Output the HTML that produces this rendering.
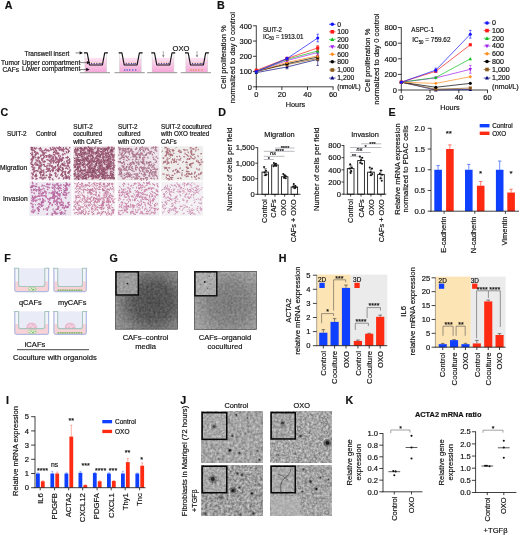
<!DOCTYPE html>
<html><head><meta charset="utf-8"><title>Figure</title>
<style>
html,body{margin:0;padding:0;background:#fff;}
svg{display:block;font-family:"Liberation Sans",sans-serif;}
text{fill:#111;stroke:#111;stroke-width:0.18px;}
</style></head><body>
<svg width="520" height="535" viewBox="0 0 520 535">
<rect width="520" height="535" fill="#fff"/>
<text x="4.8" y="9.3" font-size="10.7" font-weight="bold" fill="#000">A</text>
<text x="217.1" y="9.2" font-size="10.7" font-weight="bold" fill="#000">B</text>
<text x="0.4" y="116" font-size="10.7" font-weight="bold" fill="#000">C</text>
<text x="218.2" y="116" font-size="10.7" font-weight="bold" fill="#000">D</text>
<text x="388.4" y="116" font-size="10.7" font-weight="bold" fill="#000">E</text>
<text x="4.3" y="262.1" font-size="10.7" font-weight="bold" fill="#000">F</text>
<text x="109.6" y="262.2" font-size="10.7" font-weight="bold" fill="#000">G</text>
<text x="278.7" y="262.1" font-size="10.7" font-weight="bold" fill="#000">H</text>
<text x="6" y="403.8" font-size="10.7" font-weight="bold" fill="#000">I</text>
<text x="180.3" y="403.8" font-size="10.7" font-weight="bold" fill="#000">J</text>
<text x="345.5" y="403.8" font-size="10.7" font-weight="bold" fill="#000">K</text>
<defs><linearGradient id="pk" x1="0" y1="0" x2="0" y2="1"><stop offset="0" stop-color="#fde4f3"/><stop offset="1" stop-color="#f5a6d8"/></linearGradient></defs>
<text x="24.5" y="56.3" font-size="6.45">Transwell insert</text>
<text x="1" y="65.2" font-size="6.6">Tumor</text>
<text x="22" y="65.2" font-size="6.6">Upper compartment</text>
<text x="2.5" y="71.8" font-size="6.6">CAFs</text>
<text x="22" y="71" font-size="6.6">Lower compartment</text>
<rect x="84.9" y="57.8" width="21.6" height="14.4" fill="url(#pk)"/>
<path d="M84.9 52.8V72.4M106.5 52.8V72.4" stroke="#bbb" stroke-width="0.4" fill="none"/>
<line x1="79.8" y1="72.7" x2="110" y2="72.7" stroke="#666" stroke-width="0.7"/>
<path d="M84 52.9H87.2L89.5 65H102.4L104.7 52.9H107.9" stroke="#111" stroke-width="1.15" fill="none" stroke-linejoin="round"/>
<circle cx="91.6" cy="62.9" r="0.6" fill="#ecc860"/>
<circle cx="91.6" cy="63.6" r="0.62" fill="#1a2f9a"/>
<circle cx="94.2" cy="62.9" r="0.6" fill="#ecc860"/>
<circle cx="94.2" cy="63.6" r="0.62" fill="#1a2f9a"/>
<circle cx="96.8" cy="62.9" r="0.6" fill="#ecc860"/>
<circle cx="96.8" cy="63.6" r="0.62" fill="#1a2f9a"/>
<circle cx="99.2" cy="62.9" r="0.6" fill="#ecc860"/>
<circle cx="99.2" cy="63.6" r="0.62" fill="#1a2f9a"/>
<circle cx="101" cy="62.9" r="0.6" fill="#ecc860"/>
<circle cx="101" cy="63.6" r="0.62" fill="#1a2f9a"/>
<rect x="119.6" y="57.8" width="21.6" height="14.4" fill="url(#pk)"/>
<path d="M119.6 52.8V72.4M141.2 52.8V72.4" stroke="#bbb" stroke-width="0.4" fill="none"/>
<line x1="114.5" y1="72.7" x2="144.7" y2="72.7" stroke="#666" stroke-width="0.7"/>
<path d="M118.7 52.9H121.9L124.2 65H137.1L139.4 52.9H142.6" stroke="#111" stroke-width="1.15" fill="none" stroke-linejoin="round"/>
<circle cx="126.3" cy="62.9" r="0.6" fill="#ecc860"/>
<circle cx="126.3" cy="63.6" r="0.62" fill="#1a2f9a"/>
<circle cx="128.9" cy="62.9" r="0.6" fill="#ecc860"/>
<circle cx="128.9" cy="63.6" r="0.62" fill="#1a2f9a"/>
<circle cx="131.5" cy="62.9" r="0.6" fill="#ecc860"/>
<circle cx="131.5" cy="63.6" r="0.62" fill="#1a2f9a"/>
<circle cx="133.9" cy="62.9" r="0.6" fill="#ecc860"/>
<circle cx="133.9" cy="63.6" r="0.62" fill="#1a2f9a"/>
<circle cx="135.7" cy="62.9" r="0.6" fill="#ecc860"/>
<circle cx="135.7" cy="63.6" r="0.62" fill="#1a2f9a"/>
<circle cx="124.7" cy="70.1" r="0.75" fill="#3a55c8"/>
<circle cx="127.2" cy="70.1" r="0.75" fill="#3a55c8"/>
<circle cx="129.7" cy="70.1" r="0.75" fill="#3a55c8"/>
<circle cx="132.7" cy="70.1" r="0.75" fill="#3a55c8"/>
<circle cx="135.7" cy="70.1" r="0.75" fill="#3a55c8"/>
<rect x="152.2" y="57.8" width="21.6" height="14.4" fill="url(#pk)"/>
<path d="M152.2 52.8V72.4M173.8 52.8V72.4" stroke="#bbb" stroke-width="0.4" fill="none"/>
<line x1="147.1" y1="72.7" x2="177.3" y2="72.7" stroke="#666" stroke-width="0.7"/>
<path d="M151.3 52.9H154.5L156.8 65H169.7L172 52.9H175.2" stroke="#111" stroke-width="1.15" fill="none" stroke-linejoin="round"/>
<circle cx="158.9" cy="62.9" r="0.6" fill="#ecc860"/>
<circle cx="158.9" cy="63.6" r="0.62" fill="#1a2f9a"/>
<circle cx="161.5" cy="62.9" r="0.6" fill="#ecc860"/>
<circle cx="161.5" cy="63.6" r="0.62" fill="#1a2f9a"/>
<circle cx="164.1" cy="62.9" r="0.6" fill="#ecc860"/>
<circle cx="164.1" cy="63.6" r="0.62" fill="#1a2f9a"/>
<circle cx="166.5" cy="62.9" r="0.6" fill="#ecc860"/>
<circle cx="166.5" cy="63.6" r="0.62" fill="#1a2f9a"/>
<circle cx="168.3" cy="62.9" r="0.6" fill="#ecc860"/>
<circle cx="168.3" cy="63.6" r="0.62" fill="#1a2f9a"/>
<line x1="163.3" y1="51" x2="163.3" y2="56" stroke="#777" stroke-width="0.6"/>
<path d="M163.3 57.6L162.1 55.2L164.5 55.2Z" stroke="none" stroke-width="0.7" fill="#777"/>
<rect x="185.9" y="57.8" width="21.6" height="14.4" fill="url(#pk)"/>
<path d="M185.9 52.8V72.4M207.5 52.8V72.4" stroke="#bbb" stroke-width="0.4" fill="none"/>
<line x1="180.8" y1="72.7" x2="211" y2="72.7" stroke="#666" stroke-width="0.7"/>
<path d="M185 52.9H188.2L190.5 65H203.4L205.7 52.9H208.9" stroke="#111" stroke-width="1.15" fill="none" stroke-linejoin="round"/>
<circle cx="192.6" cy="62.9" r="0.6" fill="#ecc860"/>
<circle cx="192.6" cy="63.6" r="0.62" fill="#1a2f9a"/>
<circle cx="195.2" cy="62.9" r="0.6" fill="#ecc860"/>
<circle cx="195.2" cy="63.6" r="0.62" fill="#1a2f9a"/>
<circle cx="197.8" cy="62.9" r="0.6" fill="#ecc860"/>
<circle cx="197.8" cy="63.6" r="0.62" fill="#1a2f9a"/>
<circle cx="200.2" cy="62.9" r="0.6" fill="#ecc860"/>
<circle cx="200.2" cy="63.6" r="0.62" fill="#1a2f9a"/>
<circle cx="202" cy="62.9" r="0.6" fill="#ecc860"/>
<circle cx="202" cy="63.6" r="0.62" fill="#1a2f9a"/>
<circle cx="191" cy="70.1" r="0.75" fill="#e08a2a"/>
<circle cx="193.5" cy="70.1" r="0.75" fill="#e08a2a"/>
<circle cx="196" cy="70.1" r="0.75" fill="#e08a2a"/>
<circle cx="199" cy="70.1" r="0.75" fill="#e08a2a"/>
<circle cx="202" cy="70.1" r="0.75" fill="#e08a2a"/>
<line x1="197" y1="51" x2="197" y2="56" stroke="#777" stroke-width="0.6"/>
<path d="M197 57.6L195.8 55.2L198.2 55.2Z" stroke="none" stroke-width="0.7" fill="#777"/>
<text x="172.5" y="51" font-size="7.6" fill="#000">OXO</text>
<line x1="75.5" y1="52.9" x2="81.5" y2="52.9" stroke="#111" stroke-width="0.5"/>
<path d="M83 52.9L79.6 51.2L79.6 54.6Z" stroke="none" stroke-width="0.7" fill="#111"/>
<line x1="79.5" y1="62.6" x2="88.8" y2="62.6" stroke="#111" stroke-width="0.5"/>
<path d="M90.3 62.6L86.9 60.9L86.9 64.3Z" stroke="none" stroke-width="0.7" fill="#111"/>
<line x1="79.5" y1="69.5" x2="88.1" y2="69.5" stroke="#111" stroke-width="0.5"/>
<path d="M89.6 69.5L86.2 67.8L86.2 71.2Z" stroke="none" stroke-width="0.7" fill="#111"/>
<line x1="256.3" y1="25.4" x2="256.3" y2="87.2" stroke="#111" stroke-width="0.8"/>
<line x1="255.9" y1="86.8" x2="333.5" y2="86.8" stroke="#111" stroke-width="0.8"/>
<line x1="252.9" y1="86.8" x2="256.3" y2="86.8" stroke="#111" stroke-width="0.8"/>
<text x="252" y="89.5" font-size="7.5" text-anchor="end">0</text>
<line x1="252.9" y1="71.55" x2="256.3" y2="71.55" stroke="#111" stroke-width="0.8"/>
<text x="252" y="74.25" font-size="7.5" text-anchor="end">100</text>
<line x1="252.9" y1="56.3" x2="256.3" y2="56.3" stroke="#111" stroke-width="0.8"/>
<text x="252" y="59" font-size="7.5" text-anchor="end">200</text>
<line x1="252.9" y1="41.05" x2="256.3" y2="41.05" stroke="#111" stroke-width="0.8"/>
<text x="252" y="43.75" font-size="7.5" text-anchor="end">300</text>
<line x1="252.9" y1="25.8" x2="256.3" y2="25.8" stroke="#111" stroke-width="0.8"/>
<text x="252" y="28.5" font-size="7.5" text-anchor="end">400</text>
<line x1="256.3" y1="86.8" x2="256.3" y2="90" stroke="#111" stroke-width="0.8"/>
<text x="256.3" y="97" font-size="7.5" text-anchor="middle">0</text>
<line x1="281.9" y1="86.8" x2="281.9" y2="90" stroke="#111" stroke-width="0.8"/>
<text x="281.9" y="97" font-size="7.5" text-anchor="middle">20</text>
<line x1="307.5" y1="86.8" x2="307.5" y2="90" stroke="#111" stroke-width="0.8"/>
<text x="307.5" y="97" font-size="7.5" text-anchor="middle">40</text>
<line x1="333.1" y1="86.8" x2="333.1" y2="90" stroke="#111" stroke-width="0.8"/>
<text x="333.1" y="97" font-size="7.5" text-anchor="middle">60</text>
<path d="M256.3 72.62L287 66.97L317.7 59.35" stroke="#0a0a80" stroke-width="0.7" fill="none"/>
<path d="M256.3 70.76L254.59 74.01L258 74.01Z" stroke="none" stroke-width="0.7" fill="#0a0a80"/>
<path d="M287 65.14V68.8M285.7 65.14H288.3M285.7 68.8H288.3" stroke="#0a0a80" stroke-width="0.6" fill="none"/>
<path d="M287 65.11L285.3 68.37L288.7 68.37Z" stroke="none" stroke-width="0.7" fill="#0a0a80"/>
<path d="M317.7 53.25V65.45M316.4 53.25H319M316.4 65.45H319" stroke="#0a0a80" stroke-width="0.6" fill="none"/>
<path d="M317.7 57.49L316 60.74L319.4 60.74Z" stroke="none" stroke-width="0.7" fill="#0a0a80"/>
<path d="M256.3 71.25L287 64.53L317.7 58.59" stroke="#8b5a1a" stroke-width="0.7" fill="none"/>
<rect x="254.75" y="69.7" width="3.1" height="3.1" fill="#8b5a1a"/>
<path d="M287 62.7V66.36M285.7 62.7H288.3M285.7 66.36H288.3" stroke="#8b5a1a" stroke-width="0.6" fill="none"/>
<rect x="285.45" y="62.98" width="3.1" height="3.1" fill="#8b5a1a"/>
<path d="M317.7 56.3V60.88M316.4 56.3H319M316.4 60.88H319" stroke="#8b5a1a" stroke-width="0.6" fill="none"/>
<rect x="316.15" y="57.04" width="3.1" height="3.1" fill="#8b5a1a"/>
<path d="M256.3 71.55L287 63.62L317.7 57.06" stroke="#000000" stroke-width="0.7" fill="none"/>
<circle cx="256.3" cy="71.55" r="1.55" fill="#000000"/>
<path d="M287 62.86V64.38M285.7 62.86H288.3M285.7 64.38H288.3" stroke="#000000" stroke-width="0.6" fill="none"/>
<circle cx="287" cy="63.62" r="1.55" fill="#000000"/>
<path d="M317.7 55.54V58.59M316.4 55.54H319M316.4 58.59H319" stroke="#000000" stroke-width="0.6" fill="none"/>
<circle cx="317.7" cy="57.06" r="1.55" fill="#000000"/>
<path d="M256.3 71.55L287 62.4L317.7 55.84" stroke="#ff8c1a" stroke-width="0.7" fill="none"/>
<path d="M256.3 69.84L258 71.55L256.3 73.25L254.59 71.55Z" stroke="none" stroke-width="0.7" fill="#ff8c1a"/>
<path d="M287 61.64V63.16M285.7 61.64H288.3M285.7 63.16H288.3" stroke="#ff8c1a" stroke-width="0.6" fill="none"/>
<path d="M287 60.7L288.7 62.4L287 64.11L285.3 62.4Z" stroke="none" stroke-width="0.7" fill="#ff8c1a"/>
<path d="M317.7 54.32V57.37M316.4 54.32H319M316.4 57.37H319" stroke="#ff8c1a" stroke-width="0.6" fill="none"/>
<path d="M317.7 54.14L319.4 55.84L317.7 57.55L316 55.84Z" stroke="none" stroke-width="0.7" fill="#ff8c1a"/>
<path d="M256.3 71.55L287 60.57L317.7 52.49" stroke="#a020f0" stroke-width="0.7" fill="none"/>
<path d="M256.3 73.41L254.59 70.16L258 70.16Z" stroke="none" stroke-width="0.7" fill="#a020f0"/>
<path d="M287 59.81V61.33M285.7 59.81H288.3M285.7 61.33H288.3" stroke="#a020f0" stroke-width="0.6" fill="none"/>
<path d="M287 62.43L285.3 59.17L288.7 59.17Z" stroke="none" stroke-width="0.7" fill="#a020f0"/>
<path d="M317.7 49.74V55.23M316.4 49.74H319M316.4 55.23H319" stroke="#a020f0" stroke-width="0.6" fill="none"/>
<path d="M317.7 54.35L316 51.09L319.4 51.09Z" stroke="none" stroke-width="0.7" fill="#a020f0"/>
<path d="M256.3 71.55L287 59.35L317.7 50.96" stroke="#10c020" stroke-width="0.7" fill="none"/>
<path d="M256.3 69.69L254.59 72.94L258 72.94Z" stroke="none" stroke-width="0.7" fill="#10c020"/>
<path d="M287 58.59V60.11M285.7 58.59H288.3M285.7 60.11H288.3" stroke="#10c020" stroke-width="0.6" fill="none"/>
<path d="M287 57.49L285.3 60.74L288.7 60.74Z" stroke="none" stroke-width="0.7" fill="#10c020"/>
<path d="M317.7 49.13V52.79M316.4 49.13H319M316.4 52.79H319" stroke="#10c020" stroke-width="0.6" fill="none"/>
<path d="M317.7 49.1L316 52.36L319.4 52.36Z" stroke="none" stroke-width="0.7" fill="#10c020"/>
<path d="M256.3 70.33L287 58.59L317.7 47.91" stroke="#ff1a1a" stroke-width="0.7" fill="none"/>
<path d="M256.3 69.11V71.55M255 69.11H257.6M255 71.55H257.6" stroke="#ff1a1a" stroke-width="0.6" fill="none"/>
<rect x="254.75" y="68.78" width="3.1" height="3.1" fill="#ff1a1a"/>
<path d="M287 57.06V60.11M285.7 57.06H288.3M285.7 60.11H288.3" stroke="#ff1a1a" stroke-width="0.6" fill="none"/>
<rect x="285.45" y="57.04" width="3.1" height="3.1" fill="#ff1a1a"/>
<path d="M317.7 45.62V50.2M316.4 45.62H319M316.4 50.2H319" stroke="#ff1a1a" stroke-width="0.6" fill="none"/>
<rect x="316.15" y="46.36" width="3.1" height="3.1" fill="#ff1a1a"/>
<path d="M256.3 71.55L287 58.59L317.7 38" stroke="#1515ff" stroke-width="0.7" fill="none"/>
<circle cx="256.3" cy="71.55" r="1.55" fill="#1515ff"/>
<path d="M287 57.37V59.81M285.7 57.37H288.3M285.7 59.81H288.3" stroke="#1515ff" stroke-width="0.6" fill="none"/>
<circle cx="287" cy="58.59" r="1.55" fill="#1515ff"/>
<path d="M317.7 34.19V41.81M316.4 34.19H319M316.4 41.81H319" stroke="#1515ff" stroke-width="0.6" fill="none"/>
<circle cx="317.7" cy="38" r="1.55" fill="#1515ff"/>
<line x1="329" y1="24.3" x2="335.6" y2="24.3" stroke="#1515ff" stroke-width="0.7"/>
<circle cx="332.3" cy="24.3" r="1.8" fill="#1515ff"/>
<text x="337.3" y="26.75" font-size="6.8">0</text>
<line x1="329" y1="31.8" x2="335.6" y2="31.8" stroke="#ff1a1a" stroke-width="0.7"/>
<rect x="330.5" y="30" width="3.6" height="3.6" fill="#ff1a1a"/>
<text x="337.3" y="34.25" font-size="6.8">100</text>
<line x1="329" y1="39.3" x2="335.6" y2="39.3" stroke="#10c020" stroke-width="0.7"/>
<path d="M332.3 37.14L330.32 40.92L334.28 40.92Z" stroke="none" stroke-width="0.7" fill="#10c020"/>
<text x="337.3" y="41.75" font-size="6.8">200</text>
<line x1="329" y1="46.8" x2="335.6" y2="46.8" stroke="#a020f0" stroke-width="0.7"/>
<path d="M332.3 48.96L330.32 45.18L334.28 45.18Z" stroke="none" stroke-width="0.7" fill="#a020f0"/>
<text x="337.3" y="49.25" font-size="6.8">400</text>
<line x1="329" y1="54.3" x2="335.6" y2="54.3" stroke="#ff8c1a" stroke-width="0.7"/>
<path d="M332.3 52.32L334.28 54.3L332.3 56.28L330.32 54.3Z" stroke="none" stroke-width="0.7" fill="#ff8c1a"/>
<text x="337.3" y="56.75" font-size="6.8">600</text>
<line x1="329" y1="61.8" x2="335.6" y2="61.8" stroke="#000000" stroke-width="0.7"/>
<circle cx="332.3" cy="61.8" r="1.8" fill="#000000"/>
<text x="337.3" y="64.25" font-size="6.8">800</text>
<line x1="329" y1="70" x2="335.6" y2="70" stroke="#8b5a1a" stroke-width="0.7"/>
<rect x="330.5" y="68.2" width="3.6" height="3.6" fill="#8b5a1a"/>
<text x="337.3" y="72.45" font-size="6.8">1,000</text>
<line x1="329" y1="78" x2="335.6" y2="78" stroke="#0a0a80" stroke-width="0.7"/>
<path d="M332.3 75.84L330.32 79.62L334.28 79.62Z" stroke="none" stroke-width="0.7" fill="#0a0a80"/>
<text x="337.3" y="80.45" font-size="6.8">1,200</text>
<text x="337.3" y="88.6" font-size="6.4">(nmol/L)</text>
<text x="226" y="57" font-size="7.6" text-anchor="middle" transform="rotate(-90 226 57)">Cell proliferation %</text>
<text x="234.9" y="57.7" font-size="7.6" text-anchor="middle" transform="rotate(-90 234.9 57.7)">normalized to day 0 control</text>
<text x="263" y="31.6" font-size="6.5" textLength="18.8" lengthAdjust="spacingAndGlyphs">SUIT-2</text>
<text x="263" y="38.6" font-size="6.6" textLength="40.4" lengthAdjust="spacingAndGlyphs">IC<tspan font-size="4.6" dy="1.4">50</tspan><tspan dy="-1.4"> = 1913.01</tspan></text>
<text x="295.5" y="107.1" font-size="7.3" text-anchor="middle">Hours</text>
<line x1="401.3" y1="27.2" x2="401.3" y2="90.4" stroke="#111" stroke-width="0.8"/>
<line x1="400.9" y1="90" x2="487.9" y2="90" stroke="#111" stroke-width="0.8"/>
<line x1="397.9" y1="90" x2="401.3" y2="90" stroke="#111" stroke-width="0.8"/>
<text x="397" y="92.7" font-size="7.5" text-anchor="end">0</text>
<line x1="397.9" y1="74.4" x2="401.3" y2="74.4" stroke="#111" stroke-width="0.8"/>
<text x="397" y="77.1" font-size="7.5" text-anchor="end">200</text>
<line x1="397.9" y1="58.8" x2="401.3" y2="58.8" stroke="#111" stroke-width="0.8"/>
<text x="397" y="61.5" font-size="7.5" text-anchor="end">400</text>
<line x1="397.9" y1="43.2" x2="401.3" y2="43.2" stroke="#111" stroke-width="0.8"/>
<text x="397" y="45.9" font-size="7.5" text-anchor="end">600</text>
<line x1="397.9" y1="27.6" x2="401.3" y2="27.6" stroke="#111" stroke-width="0.8"/>
<text x="397" y="30.3" font-size="7.5" text-anchor="end">800</text>
<line x1="401.3" y1="90" x2="401.3" y2="93.2" stroke="#111" stroke-width="0.8"/>
<text x="401.3" y="100.2" font-size="7.5" text-anchor="middle">0</text>
<line x1="430" y1="90" x2="430" y2="93.2" stroke="#111" stroke-width="0.8"/>
<text x="430" y="100.2" font-size="7.5" text-anchor="middle">20</text>
<line x1="458.8" y1="90" x2="458.8" y2="93.2" stroke="#111" stroke-width="0.8"/>
<text x="458.8" y="100.2" font-size="7.5" text-anchor="middle">40</text>
<line x1="487.5" y1="90" x2="487.5" y2="93.2" stroke="#111" stroke-width="0.8"/>
<text x="487.5" y="100.2" font-size="7.5" text-anchor="middle">60</text>
<path d="M401.3 82.2L435.8 90L470.3 89.61" stroke="#0a0a80" stroke-width="0.7" fill="none"/>
<path d="M401.3 80.34L399.6 83.59L403 83.59Z" stroke="none" stroke-width="0.7" fill="#0a0a80"/>
<path d="M435.8 88.14L434.1 91.39L437.5 91.39Z" stroke="none" stroke-width="0.7" fill="#0a0a80"/>
<path d="M470.3 87.75L468.6 91L472 91Z" stroke="none" stroke-width="0.7" fill="#0a0a80"/>
<path d="M401.3 82.2L435.8 89.22L470.3 88.05" stroke="#8b5a1a" stroke-width="0.7" fill="none"/>
<rect x="399.75" y="80.65" width="3.1" height="3.1" fill="#8b5a1a"/>
<rect x="434.25" y="87.67" width="3.1" height="3.1" fill="#8b5a1a"/>
<rect x="468.75" y="86.5" width="3.1" height="3.1" fill="#8b5a1a"/>
<path d="M401.3 82.2L435.8 87.27L470.3 83.37" stroke="#000000" stroke-width="0.7" fill="none"/>
<circle cx="401.3" cy="82.2" r="1.55" fill="#000000"/>
<circle cx="435.8" cy="87.27" r="1.55" fill="#000000"/>
<circle cx="470.3" cy="83.37" r="1.55" fill="#000000"/>
<path d="M401.3 82.2L435.8 83.37L470.3 76.74" stroke="#ff8c1a" stroke-width="0.7" fill="none"/>
<path d="M401.3 80.5L403 82.2L401.3 83.91L399.6 82.2Z" stroke="none" stroke-width="0.7" fill="#ff8c1a"/>
<path d="M435.8 81.67L437.5 83.37L435.8 85.08L434.1 83.37Z" stroke="none" stroke-width="0.7" fill="#ff8c1a"/>
<path d="M470.3 75.03L472 76.74L470.3 78.44L468.6 76.74Z" stroke="none" stroke-width="0.7" fill="#ff8c1a"/>
<path d="M401.3 82.2L435.8 77.91L470.3 69.33" stroke="#a020f0" stroke-width="0.7" fill="none"/>
<path d="M401.3 84.06L399.6 80.81L403 80.81Z" stroke="none" stroke-width="0.7" fill="#a020f0"/>
<path d="M435.8 79.77L434.1 76.52L437.5 76.52Z" stroke="none" stroke-width="0.7" fill="#a020f0"/>
<path d="M470.3 65.43V73.23M469 65.43H471.6M469 73.23H471.6" stroke="#a020f0" stroke-width="0.6" fill="none"/>
<path d="M470.3 71.19L468.6 67.94L472 67.94Z" stroke="none" stroke-width="0.7" fill="#a020f0"/>
<path d="M401.3 82.2L435.8 77.52L470.3 58.8" stroke="#10c020" stroke-width="0.7" fill="none"/>
<path d="M401.3 80.34L399.6 83.59L403 83.59Z" stroke="none" stroke-width="0.7" fill="#10c020"/>
<path d="M435.8 75.66L434.1 78.91L437.5 78.91Z" stroke="none" stroke-width="0.7" fill="#10c020"/>
<path d="M470.3 56.94L468.6 60.2L472 60.2Z" stroke="none" stroke-width="0.7" fill="#10c020"/>
<path d="M401.3 82.2L435.8 71.28L470.3 44.76" stroke="#ff1a1a" stroke-width="0.7" fill="none"/>
<rect x="399.75" y="80.65" width="3.1" height="3.1" fill="#ff1a1a"/>
<rect x="434.25" y="69.73" width="3.1" height="3.1" fill="#ff1a1a"/>
<rect x="468.75" y="43.21" width="3.1" height="3.1" fill="#ff1a1a"/>
<path d="M401.3 82.2L435.8 70.11L470.3 34.23" stroke="#1515ff" stroke-width="0.7" fill="none"/>
<circle cx="401.3" cy="82.2" r="1.55" fill="#1515ff"/>
<path d="M435.8 68.16V72.06M434.5 68.16H437.1M434.5 72.06H437.1" stroke="#1515ff" stroke-width="0.6" fill="none"/>
<circle cx="435.8" cy="70.11" r="1.55" fill="#1515ff"/>
<path d="M470.3 30.33V38.13M469 30.33H471.6M469 38.13H471.6" stroke="#1515ff" stroke-width="0.6" fill="none"/>
<circle cx="470.3" cy="34.23" r="1.55" fill="#1515ff"/>
<line x1="483.7" y1="23" x2="490.3" y2="23" stroke="#1515ff" stroke-width="0.7"/>
<circle cx="487" cy="23" r="1.8" fill="#1515ff"/>
<text x="492" y="25.45" font-size="7.1">0</text>
<line x1="483.7" y1="30.6" x2="490.3" y2="30.6" stroke="#ff1a1a" stroke-width="0.7"/>
<rect x="485.2" y="28.8" width="3.6" height="3.6" fill="#ff1a1a"/>
<text x="492" y="33.05" font-size="7.1">100</text>
<line x1="483.7" y1="38.3" x2="490.3" y2="38.3" stroke="#10c020" stroke-width="0.7"/>
<path d="M487 36.14L485.02 39.92L488.98 39.92Z" stroke="none" stroke-width="0.7" fill="#10c020"/>
<text x="492" y="40.75" font-size="7.1">200</text>
<line x1="483.7" y1="46" x2="490.3" y2="46" stroke="#a020f0" stroke-width="0.7"/>
<path d="M487 48.16L485.02 44.38L488.98 44.38Z" stroke="none" stroke-width="0.7" fill="#a020f0"/>
<text x="492" y="48.45" font-size="7.1">400</text>
<line x1="483.7" y1="53.8" x2="490.3" y2="53.8" stroke="#ff8c1a" stroke-width="0.7"/>
<path d="M487 51.82L488.98 53.8L487 55.78L485.02 53.8Z" stroke="none" stroke-width="0.7" fill="#ff8c1a"/>
<text x="492" y="56.25" font-size="7.1">600</text>
<line x1="483.7" y1="61.5" x2="490.3" y2="61.5" stroke="#000000" stroke-width="0.7"/>
<circle cx="487" cy="61.5" r="1.8" fill="#000000"/>
<text x="492" y="63.95" font-size="7.1">800</text>
<line x1="483.7" y1="69.5" x2="490.3" y2="69.5" stroke="#8b5a1a" stroke-width="0.7"/>
<rect x="485.2" y="67.7" width="3.6" height="3.6" fill="#8b5a1a"/>
<text x="492" y="71.95" font-size="7.1">1,000</text>
<line x1="483.7" y1="78" x2="490.3" y2="78" stroke="#0a0a80" stroke-width="0.7"/>
<path d="M487 75.84L485.02 79.62L488.98 79.62Z" stroke="none" stroke-width="0.7" fill="#0a0a80"/>
<text x="492" y="80.45" font-size="7.1">1,200</text>
<text x="492" y="88.6" font-size="7.3">(nmol/L)</text>
<text x="369.6" y="60.4" font-size="7.6" text-anchor="middle" transform="rotate(-90 369.6 60.4)">Cell proliferation %</text>
<text x="378.6" y="59.2" font-size="7.6" text-anchor="middle" transform="rotate(-90 378.6 59.2)">normalized to day 0 control</text>
<text x="411.3" y="32.3" font-size="6.6" textLength="22.6" lengthAdjust="spacingAndGlyphs">ASPC-1</text>
<text x="412.3" y="42.4" font-size="6.9" textLength="38.2" lengthAdjust="spacingAndGlyphs">IC<tspan font-size="4.6" dy="1.4">50</tspan><tspan dy="-1.4"> = 759.62</tspan></text>
<text x="450" y="110.3" font-size="7.3" text-anchor="middle">Hours</text>
<text x="7" y="136.2" font-size="6.3">SUIT-2</text>
<text x="36" y="136.2" font-size="6.3">Control</text>
<text x="73.2" y="129" font-size="6.3">SUIT-2</text>
<text x="73.2" y="136.3" font-size="6.3">cocultured</text>
<text x="73.2" y="143.6" font-size="6.3">with CAFs</text>
<text x="118" y="129" font-size="6.3">SUIT-2</text>
<text x="118" y="136.3" font-size="6.3">cultured</text>
<text x="118" y="143.6" font-size="6.3">with OXO</text>
<text x="161" y="129" font-size="6.3">SUIT-2 cocultured</text>
<text x="161" y="136.3" font-size="6.3">with OXO treated</text>
<text x="161" y="143.6" font-size="6.3">CAFs</text>
<text x="0" y="170.3" font-size="6.6">Migration</text>
<text x="3" y="200.8" font-size="6.6">Invasion</text>
<defs><filter id="bl" x="-2%" y="-2%" width="104%" height="104%"><feGaussianBlur stdDeviation="0.28"/></filter></defs>
<g filter="url(#bl)">
<rect x="29.5" y="146.2" width="41.9" height="34.2" fill="#f4eef2"/>
<path d="M64 171.5l-0.5 0.3M50.9 160.3l0.1 -0.6M49.5 165.9l0.7 -0.5M41.9 171.4l-0.4 -0.4M66.6 178.6l0.5 -1.2M43 170.6l0.9 -0.6M49.4 150.7l-0.9 0.4M66.7 178l-1.3 0.2M41 172.9l-0.3 -0.1M59.1 160.1l0.5 -0.9M30.8 163.1l0.4 -0.4M43.6 175l0.3 0.9M40.2 178.1l0.3 -0.8M34 157.6l-1.4 -0.1M35.1 164.9l-0.3 -0.9M62.8 164.6l1 -0.2M53.9 161.6l-0.6 -0.4M53.4 156.7l0.2 0.5M54.9 168.3l-0.4 0.1M60.6 175.2l1.1 -0.6M66.1 176.7l-0.7 -0.2M58.5 156.2l0.5 -1.2M66 166.1l0.9 -0.3M48.5 168.4l1.3 0M62 150.1l-0.7 -0.6M55.6 174.2l0 1.1M35.4 154.5l0.2 -0.7M62.9 150.7l0.7 0.9M32.6 165.6l0.8 -0.5M57.5 148.3l-0.7 -0.7M53.4 159.9l-1 1M32.2 148.2l0.5 -0.1M35.7 154.2l0.4 -1.3M31.7 160.9l0.5 0.4M39.5 167.9l-0.3 0.4M50.6 148.7l1.1 0.8M38.6 158.8l-0.1 -1.2M66.9 152.9l-0.7 -1.2M33.1 168.9l0.4 -0.6M40.7 166.4l-0.5 0.2M49.3 160.5l-0.8 -0.4M43 158.8l0.3 -0.5M52.8 147.9l0 -0.7M32.6 156.4l0.1 1.4M44.6 156.6l-0.9 1.1M55.7 167.1l-0.2 -0.7M47.1 168.1l0.5 0M43.9 155.1l-0.5 -0.6M65.2 165.5l-0.7 0.4M58.4 160.7l-0.2 -0.3M48.3 155.7l0.5 0.8M49.9 165.2l0 -1.3M50.2 157.4l-1.2 0.3M65.2 173.2l0.5 1.3M55.7 150.1l-0.2 -1.4M46.6 168.9l-0.2 0.5M59 147.6l0.4 -0.8M34.6 151.3l-0.8 -1M41.8 178.4l1 0.7M46.4 150.1l-0.1 0.8M61.9 174.7l0.6 0.7M56.4 158.5l0.4 -0.5M31.5 148.8l-0.4 -0.9M68 177.2l0.3 -0.2M60.2 169.7l-0.6 -0.9M66.3 167.7l-0.6 0.7M39 166.1l0.5 0M43.9 172.5l-0.1 -0.7M55.2 148.8l0.7 1.2M42.2 160l-0.6 -0.2M49.6 155.1l0.5 0.2M51.4 149.7l-0.6 0.4M47.1 150.6l0.7 -0.5M63.8 178.3l-0.5 0.7M58.3 161l-0.4 1.1M65.9 176.6l-0.5 -0.5M69.1 167.7l0.4 0.2M60.3 149.4l0.8 0M51.2 161.7l-1 0.1M57.5 160.9l-1 1M41.1 172.1l-0.7 0.3M33.3 174.8l-0.4 -1.3M48.5 168.9l0.6 0.5M38.9 148.8l0.5 -0.2M36.6 153.8l-0.7 0.6M36.7 178.7l0.5 -0.1M46.8 169l0.6 -0.6M66.8 157.7l-0.9 0M57.1 153.9l-0.4 -0.4M44.2 177.9l1 -0.7M32.2 152.2l-0.1 1.2M63.9 165.9l-0.2 -1.2M33.4 150.2l0.3 -0.3M39.6 148.8l1.3 0.1M43.8 152.6l0.6 0.8M68.9 163.5l0.7 -0.5M53.4 168.9l0.4 -1.1M69.7 171.1l0.5 -0.3M51.8 166.4l0.4 -0.8M61.9 159.8l-1.1 -0.7M62.2 168.3l0.5 0M50.7 155.5l1.2 0.5M67.9 157.1l-1 0.7M33.2 167.8l0.4 0.5M63.4 149.3l0.8 0.2M50.1 174.8l-0.2 -1M36.7 178.7l-0.9 0.5M46 149l-0.5 0.1M32.1 167l-0.3 -0.3M52.4 158.5l-0.9 0.8M50.1 175.3l-0.6 -0.5M55.6 158.2l0.8 0.8M55.2 172.4l0.9 1M62.2 176.5l0.8 -0.8M62.6 163.9l0.1 -0.5M61.5 161.5l0 -0.8M61.8 149.9l1.3 0.4M49.9 176l1 -0.4M53.3 154.3l1 0.7M65.7 172.1l-0.3 -0.8M42.8 151.1l-0.9 0.4M67.1 177.1l-0.4 0.2M61.2 170.7l0.8 0.2M57.8 148.5l1.2 -0.7M59.2 150l0.7 0.3M32 158.5l1.4 0.1M63 149.7l0.4 -0.3M38.8 168.8l0.4 -0.2M31.1 159.2l1 0.2M64.6 153.4l0.5 0.5M68.5 151.6l0.7 -0.2M49.4 156.7l1.3 -0.5M55.8 153.3l0.4 0M53.6 152.4l1.1 -0.8M62.4 157.5l0.1 1.2M42.2 160.8l0.5 0.1M31.6 150l0.7 0.4M52.4 170.9l0.5 0.6M55.8 150.2l-0.7 0.3M68.1 149.3l-0.7 0.4M59.4 157.6l0.2 0.6M49.3 177.5l0.2 -0.6M52.7 169.2l0.2 -0.8M46.5 171.8l-0.5 0.3M48.6 177.1l0.5 0.7M55.8 162.8l0.1 0.3M58.3 167.1l0.7 0M61 167.4l-0.5 -0.1M58.6 162.4l-0.5 -1M39.9 171.6l-0.3 1.4M35.5 175.4l0.6 0.2M51.5 165.9l-0.4 0.3M40.7 156.5l0 -1.3M54.2 148.6l0.2 -0.6M44.2 164.3l0 1.3M37.2 160.6l-0.2 0.9M53.4 167.3l-0.8 -0.2M55.7 160.2l0.2 -1.2M42.3 159.2l-0.3 -0.4M58.2 159.6l-0.4 -0.3M57.1 158.7l-0.8 0.1M49.5 169.5l-0.4 1M33.2 157l0 -0.4M55.2 148.3l-1.3 0.2M31.2 164.1l1.2 0.5M57.8 170.9l-0.2 -0.3M32.4 167.1l1.3 0M58.3 170.5l0.2 1.1M42.1 150.8l-0.7 0.2M37.4 160.8l0.6 -0.5M48.4 169.9l-0.5 -0.1M66.6 161.5l0.2 -0.7M62.5 159.8l0.1 0.5M67.7 166l0.7 0.2M40 150.2l0.2 0.4M55.9 153l-0.8 -0.6M58.5 163.7l-0.3 1.3M44.7 162l-0.6 -0.7M68.4 177.7l1.2 -0.6M53.6 163l-0.2 -0.5M41.2 148.9l0.2 0.3M56.5 151.9l0.2 -1.1M68.9 160l0.7 -0.4M44.1 150.7l0.9 -0.8M43.5 161.9l-0.2 0.3M32.5 159.2l0.2 0.9M38.2 153.9l-0.5 -1M43.1 174.7l0 0.7M58.8 148.9l0.4 -0.2M48.9 170.4l1.2 0.4M69.3 162.1l0.3 0.3M34.7 171.7l-1.2 0.7M48.1 149.9l-1 0.5M63.4 148.7l0.4 0.8M35.8 175l0.6 -0.3M47.9 165.1l-0.2 0.9M38.7 156.9l-0.9 0.4M51.9 155.7l0.1 0.5M61.6 150.6l-0.1 -0.6M42 170.8l-0.6 -1M51.1 174.6l0.7 0.7M35.4 170.8l-0.7 0.8M58.4 168.4l0.2 1.2M40.2 163.9l-0.3 -0.5M55.5 156.6l0.6 1.1M52.5 157.9l-0.3 -0.2M35.9 160l0.9 -0.1M33.8 171.7l0.2 -1.2M53.2 169.5l0.3 1.1M62.9 171.5l-0.6 0.8M55.5 176l1 0.8M51.5 158.8l-0.3 0.1M39.4 168.1l-0.5 -0.7M68.3 162.7l-0.5 1.2M41 166.6l-0.4 -1.2M61.7 159.6l0.3 0.1M59.3 177.9l-0.5 0.7M59.3 168.3l-0.1 1.1M42.8 158.8l-1.1 -0.3M36.7 148.2l-0.2 -0.3M32.6 154.6l-0.2 -0.3M33.3 178.2l-1.2 0.6M39.3 161.3l-0.3 0.4M43.7 178.7l0 -0.8M46.9 155.8l-1.1 -0.2M57.8 162.1l1.3 0.3M46.9 159.8l0.5 0M64.9 163.7l-0.1 -0.5M43.8 174l0.3 -0.5M31.7 173l0.6 1M57.7 152.8l1.2 0.6M54.3 167.1l-0.5 0.1M54.5 155.5l0.4 -1.1M31.9 177l0.4 0.1M42.3 152.3l0.1 0.7M59.7 160.3l-0.1 0.9M46.2 157.3l0.8 -0.5M69.2 171.9l-0.6 -0.3M57.8 161.9l-0.1 -0.8M50.3 148.2l0 -0.4M57.6 165.9l0.1 -0.6M57.8 154l-0.7 -0.1M69.3 178.2l0.2 0.9M43.7 178.1l0.9 -0.4M59.1 169l-0.8 1.1M66.1 157.9l0 -0.3M62.9 165.3l0.7 -0.2M55.4 157.7l0.2 -1M69.6 147.5l0.2 0.3M35.7 176.9l0.8 -0.3M68 173.4l0.2 -1.1M38.2 164.8l-1.2 0.6M37.6 152.9l-0.3 -0.4M35.1 163.4l0.3 -1M60.5 155.9l-0.2 0.8M69.7 170.2l0.9 -0.3M52.6 178.8l0.4 1.1M61.9 174.2l0 -0.5M56.8 176.7l-0.7 -0.3M68.1 165.2l-0.9 0.5M62.4 154.7l0.9 0.1M67.8 169l-0.7 -0.7M50.3 170.6l0 1.3M41.6 177.4l0.4 -0.2M48.4 171l-0.8 0.3M62.5 169.8l0.5 -0.1M67.1 176.8l-0.9 -1M40.7 175.4l0.1 -1M34.4 148.5l0.6 0M60.8 159.7l0.2 -1M46.1 175.3l0.8 0.2M63.4 151.5l-0.2 -0.7M31.8 162.5l-0.4 -0.1M53 158.5l0.5 0M35.2 164.6l1.3 0.4M64 177.4l-0.5 1.2M69.5 171.7l-0.2 1.1M54.2 160.3l-0.1 0.4M35.7 151.7l-1 0.1M60.8 149l0.2 -0.3M52.6 171l-0.9 -1M44.3 166l0.8 0.5M62.8 153.9l-0.1 1.1M40.8 155.7l1.3 -0.6M36.9 175.9l-0.4 -0.1M53.8 167.8l1.1 0.2M62.9 149.8l-0.5 -0.7M40.2 162l0.4 0.6M56.5 162.6l-0.9 -0.3M63 158.4l0.2 -0.4" stroke="#96466a" stroke-width="1.4" stroke-linecap="round" fill="none"/>
<path d="M35.9 174.4l0.1 -0.6M50.3 161.7l-0.7 -1M34.3 148.2l0.4 -0.7M60.9 147.4l-1.1 0.4M39.7 177.5l0.3 -0.2M31.6 164.6l0.7 -0.3M39.2 160.8l0.6 0.1M48 163.2l0.1 0.6M39.3 162l-0.1 0.3M63.9 165.1l-0.3 -0.4M70 174.8l0.5 0.5M59.2 170.1l0.7 -0.3M63.6 168.7l-0.3 0.9M65.6 174.4l-1 0M32 155.1l0.2 -0.8M37.5 164.9l-0.3 -1M45.5 161.3l-1.2 -0.1M51.3 159.9l-0.4 0M32.3 169.8l1 -0.1M46.2 152.8l-1.4 0M61.2 164.6l0.4 -0.5M51 177.8l-0.7 -0.4M41.3 164.8l0.3 -0.1M61.7 173.6l0.9 -0.8M62.7 163.9l-0.7 -0.3M32.8 175.1l-0.5 -0.2M50.6 162.8l-0.4 0.6M52 167.3l-0.6 -0.5M31.7 154.6l0.4 0.9M64.8 172.9l0.4 -1.2M40.7 174.2l-0.2 -0.4M31.3 147.8l0 -0.6M34.9 167.3l-0.2 0.3M36.9 164.2l0.3 0.5M58.9 161.9l-0.4 0.8M31.5 159.7l-0.5 0.3M34.9 176.1l-0.6 0M54.6 173.4l0.3 0M36.4 170.3l0.6 0.9M57.5 164.7l0.3 1.4M62.3 163.8l0.2 1M46.3 165.7l-0.4 0.9M32.9 156.9l1.3 -0.3M42.8 174.8l-0.5 1.3M60.1 160.6l0 0.3M65.5 148.5l0.6 -1.3M53.2 152.8l0.9 -1M58.5 163.6l-0.5 0.5M38.8 168.9l-0.5 0.2M34.7 168.6l-0.3 0.8M43.5 175.2l0.3 -0.2M38.6 157.8l1.2 -0.1M44.1 154.1l-0.6 -1.1M67.6 158.3l0.8 -0.7M49.8 178.8l0.1 1.1M34 152.7l0.5 -0.3M60.7 166.5l0.4 -0.6M44.1 156.6l0.7 -0.7M68.5 175.7l0.6 0.7M34.7 148.6l1.1 0.6M61.9 173.8l-0.5 0.8M61.6 159.4l-0.5 -0.2M33.8 155.8l0.7 -0.6M67.3 161.9l-0.2 1.2M63.5 147.7l-0.2 -0.4M35.2 175.6l0.6 0.1M69.8 160.8l0.4 0.3M40.2 171.1l1.1 0.8M45.6 178.3l0.5 -0.4M40.7 162.6l0.8 0.6M32.2 147.6l0.7 -0.1M54.3 161.7l-0.2 0.4M66.9 178.3l0.4 -0.1M39.1 167.1l0.9 -0.1M57.9 168.5l-0.1 0.9M42.8 155.2l0.6 0.3M69.6 161.6l-0.6 -0.8M67.9 159.8l-0.2 0.6M43.2 174.4l0.5 -0.4M43.9 164.7l-0.9 -0.5M40.3 148l0 0.4M52.5 149.6l0.9 0.5M42.1 172.6l-1.3 0.1M36.7 163.3l0.1 -0.4M68.3 152.8l0.2 -1.4M63.2 157.5l0.7 0.6M67.1 156.7l0.4 -0.3M66.7 148.3l-0.5 1.2M62.5 176.3l0.6 -1M58 153l-0.5 0.2M59 168.7l0 0.4M68.8 173.2l-0.9 -0.3M64.4 161.8l-0.6 0.4M40.8 148.1l-0.5 -0.6M53.3 149.3l-0.3 0.4M35.6 155.6l0.4 -0.7M46.5 166.9l0 0.3M51.6 163.3l-0.5 -0.7M57.9 170.7l0.1 0.9M49.6 154.5l-0.8 0.5M66.6 176.7l-0.2 1M32.5 149.6l-1.3 -0.1M36.9 171.8l0.5 -0.5M58.1 174.5l-0.8 0.8M59.8 166.3l0.8 -1M68.7 165.6l0.3 0.5M39.2 165.5l0 -0.4M57.7 170.2l-0.5 0.7M37.1 170.7l1.4 0.4M62.7 167.4l-0.1 1.3M68.7 151.8l0.2 -1.2M56.8 169.7l-1.3 0.5M69.2 159.5l0.3 -0.8M37.1 157.7l0.9 0.9M68.7 151.1l-0.6 -0.5M35.3 156.8l0 1.2M30.8 153.4l-0.3 0.1M55.5 166.7l0.3 -0.5M41.9 164.7l-0.1 1M40.6 169.2l0.3 -1.2" stroke="#782c4c" stroke-width="1" stroke-linecap="round" fill="none"/>
<rect x="29.5" y="146.2" width="41.9" height="34.2" fill="#f4f0f2" opacity="0.17"/>
</g>
<g filter="url(#bl)">
<rect x="73.3" y="146.2" width="41.9" height="34.2" fill="#e6d6de"/>
<path d="M97.1 161l-0.5 -0.3M106.6 173.6l-0.3 -0.4M95.1 157.8l0 1.4M113.8 148.9l0.6 -0.8M89.6 156.4l-0.4 -0.7M101.6 168.4l0.8 0.9M113.3 178.2l-0.3 -0.2M74.7 151.7l0.6 -0.2M89 175.9l-0.4 0.9M91.7 149.5l-1.1 -0.6M80.7 154.6l-0.3 0.2M94.1 173.4l-0.5 -0.8M108.2 152.2l-0.7 -0.3M98.2 151l0.1 -0.4M81.1 173l0.8 -0.3M90.9 155.2l-0.2 1M81.6 151.2l-0.5 0.1M100.1 173.5l0.1 -0.8M88.2 161.2l1.1 0M87.6 157.6l0.7 0.4M97.5 159.8l0.7 -0.8M84.1 164.1l0.8 -0.5M98.3 149.4l-0.8 0.1M90.4 160.8l-0.8 -0.5M93.9 152.7l-1.3 0.5M90.9 148.6l0.9 0M76.5 150.4l0.6 0.5M113.7 162.8l-0.8 0.2M94.3 161.6l-0.2 -1.3M102 160.9l-0.8 -1.1M80.6 155l-0.8 -0.7M99.9 166.1l0.4 -0.8M106.4 178l-1.2 0.5M102.8 175.6l1.3 0.4M104.8 178l0.6 -0.1M100.9 151.9l-1.1 -0.8M82.1 158.5l0.5 0.3M82.7 150.5l1.3 0M92.8 171l-0.3 -0.9M91.2 168.5l-0.6 -0.2M88.9 167.3l-0.4 -0.4M98.6 175.2l0.7 -0.8M77.3 160.9l0.3 0.2M84.6 161.9l0.1 -1M85.7 169.5l-0.9 0M84.9 161.5l-0.6 0.9M93.6 161.6l-0.8 0.1M101.7 170.3l0.2 -0.7M105.8 178l1.1 -0.1M77.1 174.3l0.2 -0.3M87.5 157.7l-0.1 -1M85.7 153.4l0.2 0.4M105.7 177.1l0.2 1.1M112 153.5l-0.7 -0.4M113 175l0.5 0.1M108 165.7l-1.2 -0.2M104.7 177.7l-0.2 0.3M101.8 149l-1.2 -0.5M90.2 166.5l0.2 0.4M98.4 174.9l0.4 0M110.8 163.7l-0.4 0.6M97.3 158.5l0.8 1M102.4 166.8l-0.2 -1.4M81.4 173.6l0.3 -0.6M96.6 162l0.3 0.8M80.6 177l0.4 0.9M97 178.3l0.2 -0.7M89.4 149l0.6 0.2M112 149l0.5 0.9M88.8 153.3l0.4 -0.1M98.1 161l-0.3 0.4M81 160.3l0 -0.8M105.2 175.3l0.6 1.1M97.5 160.8l-1.3 -0.1M90 150.4l0.4 -0.1M78.8 170.3l-0.2 0.6M100.1 175.7l-0.8 1.1M99 166.7l-0.3 -0.1M80.8 168.9l-0.2 -0.4M99.6 162.5l-0.7 -0.4M83.1 158.7l0.5 -0.1M108.5 164.3l1.1 0.6M75.2 174l-0.7 1.1M103.2 158.8l-1 -1M81.3 154l-0.3 1.2M84.3 155.3l-0.7 -0.6M91 164.9l0.3 0.1M75.6 149.2l0.2 -1.4M79.5 159.7l0.8 0.1M100.6 167.2l0.8 -0.5M76.6 159.4l-0.7 0.2M75.9 167.3l-1.1 0.1M88.9 149.7l-0.1 0.5M92.7 152.3l0.8 0.4M80.1 150.8l0.8 0.8M106.3 173.1l-0.9 -0.5M104.2 161l-1.1 -0.1M99.5 166.7l-0.6 -0.7M83 157.1l-0.3 -0.7M108.4 159.3l-0.2 -0.4M86.4 174.4l0.5 0.9M75.6 166.8l-1.3 0.4M107.1 172l-0.6 0.9M80.6 163l-0.7 0.5M85.3 154.2l-1 -0.1M96.7 177.7l-0.5 -0.2M99.8 157.5l0.4 -0.2M92.6 168.8l0.9 -0.2M89.5 172.1l0.3 -1.3M103 151.5l1.4 -0.1M91.7 168.3l0.7 -1.2M103 150.3l0.7 0.3M92.5 157.3l0 -1.2M90.3 169.6l0.5 1.3M84.1 152.4l-0.9 0.9M98.1 169.2l0.3 -0.7M112.4 178.7l-1.1 -0.3M108.2 166.2l0.7 0.8M92.5 174.5l0.1 0.3M81.6 152.9l-0.4 0.4M87.7 166.1l0.5 0.7M88.6 147.6l-0.4 -0.8M105.1 175.2l1.1 0.3M92.6 175.2l0.9 0.8M91.5 150.4l-1.3 0.3M77.4 159.5l0.3 0.2M107.1 164.9l-1.2 -0.6M77.9 177.4l0 -1.3M106.7 159.9l1.4 0.2M99.5 170l-0.2 -0.6M100.4 161.7l0.1 0.9M93 157l0 -1.3M98.1 148.2l-1 -0.3M106.7 157.1l0.1 0.7M80.9 172.2l0.9 0.2M107.4 148.5l0.7 1.2M86.7 171.8l0.8 0.1M76.2 155.2l1.1 0.1M92.4 158.6l-0.9 0.5M84.7 152.4l1 0.3M100.7 155l-1.4 -0.1M93.2 171.7l-0.6 0.8M105.2 169.6l-0.5 -0.4M76.8 162.7l-0.1 -0.7M103.2 162.4l0.9 0.4M96.2 157.6l0.4 1.3M97.6 170.4l1.1 0.3M80.9 162.8l-0.6 0.5M105.7 153.9l1.2 -0.4M93.9 175.2l-1.3 -0.4M93.8 178.4l0 -1.1M113.7 169.5l0 1M81.2 160.3l-0.2 -0.5M91.2 154.7l-0.5 0.3M102.2 173.9l-1.1 0.1M104.3 173.1l0.3 -1M103.7 170.6l-1.2 -0.2M82 170.3l-0.6 -0.7M98.4 176.6l0.3 -1.1M110 175.1l-0.6 1.1M109.5 165.9l0.5 -0.2M106.1 155.1l-0.7 0.5M91.2 163.8l0.3 0.2M103.1 156l-0.2 1.1M104.4 164.4l0.3 -0.7M109.6 167.7l0.7 -1M102.2 176.7l0 -0.8M79.2 160.2l-0.3 -0.2M98.1 160.4l-0.4 0.1M77.6 168l-0.1 0.5M108.7 149.3l-0.4 -1.2M109.9 168.3l0.8 0.3M109 160.5l-1.1 -0.3M97.3 158.9l-0.7 -0.5M87.7 149.7l-0.1 1.4M86.1 158.5l0.4 -0.1M84.5 159.4l-0.8 0.2M85.4 152.2l-0.5 -0.2M74.7 171.5l0.1 -0.7M109.3 152.5l0.9 -0.6M101 149l0 -0.5M95.7 164.9l0.6 0.2M110.8 171.5l-0.5 1.3M77.4 168.1l0.4 -1.2M100 170.9l0 1.2M101.4 165.6l-0.1 1.1M76.5 163.4l-0.4 -0.6M98.2 149.2l-0.4 0.8M107.2 164.5l0.7 -0.3M109.7 165.9l-0.5 0.1M107.1 172.7l-0.5 0.4M85.3 158.2l1.1 0.7M91.7 153.1l-0.2 -0.5M109.2 147.6l-1 -0.3M88 153.6l0.8 -0.6M101.9 152.7l1.3 0.1M82 149.2l0.2 -0.9M75.2 165.1l-1.3 -0.1M97.8 152.2l-0.9 -0.9M112.7 157.3l-0.3 -0.2M112.2 152l-0.7 -1M93.5 178.4l-0.8 0.5M108.1 148l0.8 -1M81 169.6l-0.1 0.5M94.7 170l-0.5 0.5M83.4 165.7l-1.1 -0.6M107.4 147.7l0.3 0.4M85.3 171l-1.1 0.1M107.7 159.2l0.6 0M98.9 165.6l0.3 1.1M75.7 152.4l-1 -0.1M110.7 159.6l0.3 -0.8M86.5 177.6l-1.1 0M86.1 175.5l-0.4 0.1M77.2 158.6l-0.4 0.2M108 165.1l1 -0.3M106 152.9l0.6 0.2M91.1 149l0.6 -0.3M105.8 148.9l0.4 -0.6M94.8 166.8l-0.5 -0.4M84.6 159.8l-0.3 -0.1M83.5 149.7l0.5 -1M107.3 168.7l0.7 0.2M109.3 162.2l-0.2 0.5M110.5 150.4l-0.4 0.5M99.7 176.3l-0.1 -1.4M85.8 171.1l-0.1 -0.4M97.2 175.3l0.6 0.1M95.7 166.7l-1.3 -0.4M89.5 168.3l-1.2 -0.3M90 176.6l0.6 -0.9M110.6 168.5l-0.4 1.3M88.4 158.4l-0.6 -0.6M113.8 160.6l0.8 -0.3M83.4 164.4l-0.3 -0.6M97.7 161.3l0.4 0.1M89.5 169.7l0.8 1.2M88.9 150.9l0.5 1.2M107.8 168.4l1 0.4M75.5 154.9l1 0.4M106.8 155.7l0.9 0M108 153.7l0.3 -1M77.6 171.7l0.1 -0.7M85 149.8l-0.5 -0.4M83.8 161.7l0.7 0.8M87.3 156.8l-0.7 0.3M91.7 155.5l0 -1.3M96.8 170.3l0.2 -0.6M108.8 165.5l-0.6 -0.7M109.4 163l-0.2 -0.6M80.8 164.5l0.2 -0.4M103.1 156.1l0.9 0.8M76.8 160.8l-0.6 -0.9M104.7 150.6l0.5 0.5M107.8 175.8l-0.6 0.3M98.8 161.1l1 0.1M111.1 168.6l-0.1 -0.4M98.7 177.3l-0.1 0.7M84.4 166.4l-0.7 1M101.2 164.7l0 -0.6M84.4 160.9l-0.6 0.5M113.4 157.7l0.7 -1M87 159.9l1.1 0.2M93.6 152.8l0.7 -0.5M84.1 162.5l0.3 0.5M100 168.3l0.9 0.7M105 164.5l-0.8 -0.6M105.1 170l0.2 -0.9M93 151.9l-0.5 -0.9M104.9 168l-0.4 0M100.1 168.9l0.4 0.4M92.8 151.2l0.4 0M102.1 175.1l0.8 0.3M91.9 178.4l0.9 -0.2M104.1 174.9l0.4 0.3M99.8 176.2l-0.3 -1.3M81 156.2l0.3 0.9M112.2 153.8l-0.8 0.3M96.1 156.9l-0.3 0.1M74.7 164.1l0.8 0.6M90.7 161.1l-0.4 1.2M88.1 174.9l0.9 0.4M81.8 176.8l1.2 0.3M104.8 160.1l1 0.4M103.1 172.5l-0.5 -1.1M90.2 168l0.5 -0.4M83.5 157.1l1.2 0.1M81.4 147.7l-0.1 0.8M110.1 158.6l0.9 -1M113.5 166l-0.5 -0.8M105.6 169.2l0.6 0.5M108.2 160.8l0.3 -1.2M105 170.5l-0.4 0.8M107.5 161.2l-0.3 -0.2M91.8 163.3l0.4 0.6M77.6 178.1l0.7 0.9M85.1 178.5l0.6 -0.7M84.1 150.5l-0.6 0.3M83 176.8l-0.3 -0.3M92.9 157.8l0.3 -0.9M75.2 164.3l-0.6 0.1M91.7 155.7l0.4 0.5M113.7 149.4l-1.1 -0.5M108.6 162.1l-0.2 -0.8M96.9 152.3l0.5 -1.1M85.1 166.7l0.3 1.1M79.8 153.7l-0.7 0.1M91.8 151.3l-0.1 -0.5M78.3 164.5l0.5 -0.9M103.3 155.7l-0.6 0.7M86.6 159.1l0.1 -0.4M100 156.8l-0.1 1.2M107 149.5l0.6 0.4M91.9 160.3l-0.5 -0.6M83.6 178.4l1.2 0M107.8 178.5l0.2 -0.9M76.5 154l-0.7 -0.5M107.9 147.9l-0.4 0.2M85.6 159.4l-0.1 -1.2M102 161.3l-1.1 -0.2M102 153.4l0.8 -0.9M103.1 168l-0.5 -0.1M77.6 150.2l0.6 0.1M113.7 165.8l1.3 0M76.7 160.5l-0.6 -0.3M108.6 162l-1 -0.9M87.7 172.1l0 -0.9M87 178.9l-0.8 0.2M98.8 154.9l-0.6 0.2M96.4 151.9l1.1 0.2M84.2 147.9l0.7 1M111 177.9l-0.7 0.5M98.1 176.9l0 -1.2M78.3 164.7l-0.3 -0.5M89.7 149.9l0.1 -0.9M79.3 171.4l0.8 -0.3M110.1 166.5l-0.5 0.7M112.5 175.1l-0.9 0.4M87.7 174.3l0.3 -0.6M88.4 177.5l-0.4 -0.1M80 174.8l0.4 -0.2M107.7 149.9l-0.4 0.7M109.6 161.8l-0.7 0.6M77 162.9l0 0.5M76.8 175.8l0.1 1.1M90.3 160l0.3 -0.5M92.4 161.6l0.2 -1.3M89.9 148.9l1 0.4M102.6 148.2l0.9 -0.1M81.8 148.1l-0.4 0.3M110.6 152.1l-0.3 -0.8M111 162.8l-0.8 -1.1M89 164.2l-1.1 0.3M84.3 150.4l0.1 -1M93 161.6l0.4 -0.5M85.2 174.2l-0.5 1.2M76.7 157.7l-0.5 1.2M92 179l0.1 -1.1M88.2 164.5l-0.8 -0.3M78.9 157.6l-0.6 0M96.7 156.3l0.3 -0.5M102.4 171.1l1.1 -0.3M95 154l0.9 0.3M107.6 167.8l-1.2 -0.6M103 168.2l0.7 -0.7M111.4 147.8l0 -0.6M113.1 175.7l0.5 -1.1M78.2 147.6l-0.3 0.2M112.8 150.1l-0.3 0.6M95.6 173.3l0.7 0.3M79.4 166.6l-0.5 -0.1M101.9 152.9l0.6 1M79.7 166.7l-0.1 -0.4M108.6 157.2l-0.7 -0.3M113.4 175.9l-0.5 0.5M110.5 175.3l0.6 -1.2M113.6 155.1l0.9 -0.3M95 158.8l0.4 -1M75 176.2l-0.6 0M98.4 161l-0.4 0.6M112.1 153.6l-0.8 -0.1M76.9 164.6l-1 -0.4M97.5 155.4l0.9 0.7M108.1 156.7l-0.9 0.8M93.5 171.7l0.7 -0.4M112.2 156.1l0.3 0.5M79.4 166.4l0.4 -1.4M92.1 173.6l-0.4 -0.7M86.7 160.2l0.3 -0.6M83.7 153.9l-0.3 0.4M85 147.9l0.2 -0.7M87.6 156.2l0.5 0.4M92.9 177.9l-0.4 0.7M90.3 162.2l-0.8 -0.7M86.8 160l-0.7 -1M85.9 148.3l1 -0.1M95.1 159.3l0 -0.8M113 158.9l0.3 -0.1M89.6 161.8l-0.5 0M103 152.2l0.8 1M91.8 175.2l-0.8 1M77.9 176.6l1 -0.2M82.4 178l-0.1 1M93.1 177.7l-0.8 -0.9M90.7 155.8l-0.5 0.8M104.6 171.3l0.7 -0.7M96.4 161l-0.3 1.1M77.7 167.9l0.2 0.3M94.6 170.6l-1.3 -0.1M107.1 170.1l-0.3 -1.2M88.7 172.4l1.4 0.2M81.4 160.3l-0.4 0.5M78.1 177.2l1.3 -0.5M98.6 152.8l-0.9 -1M87.6 150.1l-0.4 -1.1M91.2 165.5l-0.3 -0.8M109.4 155.7l0.4 1M109.8 177.9l0.5 0.6M83.6 164.8l-0.2 1.1M93.3 171.4l-0.9 -1M88.1 170.2l-0.8 -0.4M85.4 159.6l0.4 -1M100.8 168.3l-1 0.7M103.6 175.1l0.2 -1M104 149.9l0.7 -0.2M81.2 149.1l-0.3 -0.5M103.7 157.8l-0.6 0.4M104.8 179.1l0.4 -0.2M79.2 165.9l0.6 -1.1M100.3 174.5l-0.7 -0.5M75.3 173.6l0.3 0.6M97.4 156.7l1.3 -0.4M78.7 173.5l-0.5 0.6M88.9 175.4l-0.1 1.3M102.6 154.3l1 0.1M97.8 152.9l1.1 0.8M92.2 171.8l0.6 0.1M91.6 158.8l-1 -0.9M94.9 176.7l-1.1 -0.4M82.9 160.6l-0.4 -0.1M105.6 154l0.5 -0.1M96.6 177.3l-0.7 -0.4M106.6 162.3l-1.2 -0.4M80.1 154.5l1 0.1M107.2 166.9l-1.1 -0.2M74.6 149.7l0 0.6M79.2 179.1l-0.6 -1M104.9 148l0.3 0.2M111.3 174.1l0.1 -0.9M112.4 169l0.8 0.3M90 154.5l0.8 -0.1M104.9 150.4l0 0.4M102.2 172.3l-0.9 1M93.7 166.8l0.1 0.4M109.1 177.4l0.3 0.4M90.6 171.5l-1.4 0.1M100.3 162.2l1.1 0.2M95.6 176.8l0.2 0.5M98.4 162.2l0 -0.5M88.8 170.5l0.6 -0.7M101.7 151.6l-0.4 0M83 173.1l-0.4 0.3M91.1 160.2l0.3 -0.5M93 176.5l-0.9 0M92.7 153l0.9 0.7M82.5 177l0.8 -0.5M85.1 173l1.3 -0.5M95.2 167l-0.3 0.4M80.8 149.1l-0.4 -0.3M107.4 163.6l0.1 0.8M90.9 166.9l-0.2 -0.5M93.9 168.9l1.1 -0.6M74.7 166.6l0.7 0.6M112.7 154.6l-0.5 0.4M91.2 151.2l-0.2 0.5M77.7 149.4l-0.1 1.1M74.9 173.8l-1.1 0.4M82.5 170.3l0.5 0M111.3 163.5l-0.6 -0.2M77.2 149.3l1.1 0.1M94.2 159.5l-0.2 1.4M77.2 154l-0.8 0.7M102.6 178.3l-0.6 -0.3M101.7 159.6l-1.1 0.4M108.1 166.7l0.7 0.7M106.1 173l-0.8 0.3M89.2 147.5l-0.8 0.1M84.6 169.7l0.2 1M76.5 164.2l-0.5 1.3M88 162l0.9 0.9M89.9 166.5l0.1 -0.8M75 174.2l0.4 1.4M81.3 150.7l-0.3 -0.3M94.2 175l0.5 -0.1M109.2 177.8l-0.8 0.2M81.5 156.3l-0.6 -0.5M112.2 159.8l0.3 0.5M112.8 150.8l0.1 1.1M106.8 154.9l0.5 0.7M87.4 160.4l-0.3 0.9M92.3 151.9l-0.6 0.7M92 162.9l-0.7 -1.2M103.5 156.7l-0.8 -0.6M80.4 170.8l1 -0.8M103.8 169.4l-0.4 -0.3M100.5 148.7l0.3 0.3M86.5 153.7l0.4 -0.8M83.9 160.3l0.7 -1.1M104.6 161.6l-0.6 1.2M112.1 171.2l-1.1 0.3M88 153.1l0.3 0.8M113.4 165.4l0.4 -1.2M113.3 177.1l0.4 0.5M79.9 167.1l0.7 -0.4M113.7 156.1l-0.4 -0.7M95.4 175.9l0 -0.4M105.3 176.2l-0.1 -1.1M111.2 166.6l0.3 -0.3M78.3 153.6l0.5 1.2M106.7 149.6l1 -0.4M87.4 174.3l-0.5 -0.2M87.9 163.5l-0.6 1M99.5 156.2l0.6 0M89 163.4l0.6 -1M102.2 164.4l-0.4 0.5M86.4 164.8l1.1 0.3M106.4 155.8l-1.3 0.4M81.4 160.3l-0.6 0.7M112.3 154.7l-1.3 0M98.9 159.5l0.3 0.5M99.9 169.6l-1.1 -0.5M75.5 170.2l0.8 -0.5M91.3 147.8l0.1 0.7M80.9 175.4l0.5 -0.2M108.8 149l0.1 -1.2M90.8 171.9l-0.4 0.7M89 175.2l-0.7 -1M113.9 159.8l-0.9 -0.6M103.8 153.4l0.7 0.6M93.6 169.1l0.1 1.2M90.4 148.1l-0.7 -0.1M77.8 169.7l0.5 -0.2M93.4 149.4l-0.4 0.1M93.7 153.6l-0.1 0.5M109.8 163.6l-0.9 0.1M109.9 154.5l0.2 0.5M107.5 165.5l0.2 0.3M77.5 168.9l0.3 -0.5M84.9 170.9l-1.2 -0.3M87.7 172.8l0.3 0.9M110.6 165.7l-0.7 0.5M111.4 155l1 0M79.9 155.2l-0.1 0.5M77.6 150.9l-0.6 0.4M90.8 149.4l0 -0.8M75.1 160.8l-0.5 -0.2M111.4 148.9l0 0.6M94.6 148.1l0.4 0.4M82.7 165.6l0.5 -0.3M94.7 172.1l-0.3 -0.8" stroke="#934663" stroke-width="1.3" stroke-linecap="round" fill="none"/>
<path d="M92.4 165.2l0.7 -0.4M94.6 166.1l0.4 0.8M99.4 172.7l0.6 0.4M78 173.2l-0.1 -0.4M113.4 178.2l-0.6 -0.8M80.7 147.8l-0.4 -0.1M82 155l0.8 0.2M91.9 174.3l-1 -0.1M94.2 168.5l-0.6 0.2M114 179.2l0.6 -0.9M86.9 154.6l-0.1 0.4M104.8 160.1l0.4 -0.6M112.4 174.4l0.6 0M110.5 162.3l0.8 -0.1M77.3 167.4l0.1 -0.6M77.9 157.9l1.1 -0.3M79.1 155.2l0.3 0.2M106 153l-0.8 -0.3M82 170.7l0.7 0.8M79 160.8l0.1 0.6M112.9 173l-0.4 1.2M82.8 159.9l0.6 -0.8M78.4 179l0.1 0.6M105.1 157.8l-0.1 0.4M78 165.9l0 1M89.2 161.8l0.8 -0.2M97.2 175l0.2 0.5M110.5 173.5l0 0.5M103.8 177.4l0.5 1.3M109.4 166.6l-0.4 0.2M75.9 178.1l0.1 1.1M84.6 173.7l-0.5 -0.4M81.4 170.4l0.5 0.2M96.6 174.6l-0.5 -0.4M110.8 153.8l0.6 0.1M92.1 149.2l0.3 0.7M97.1 151.5l-0.8 1M113.3 168.3l-0.4 -0.9M80 148.4l1.3 0.1M102.2 178.1l1 0.1M93.5 170.7l-0.6 1.3M77.4 164.8l-0.1 -1.3M103.7 169.8l0.4 -1.3M88.4 169.2l1 -0.8M91 172.6l0.6 -0.7M99.2 159.5l-0.9 -0.5M77.6 167.8l1.3 -0.1M103.3 159.7l-0.1 -1M91.9 174.1l1 0.6M75.6 166.5l-0.6 0.1M102.1 163.2l-1 -0.9M84.6 147.7l-0.3 1M82.4 152.7l0.9 -0.6M91.9 175.8l-0.5 0.9M82.3 161.1l0.5 -1.3M109.3 159.6l-0.6 -0.3M79.8 163.2l0.7 -1.1M102.6 177.7l-0.1 0.5M92.3 156.1l0.2 0.8M99.2 163.1l-0.5 1.1M113.4 161.8l0.3 0.2M109.1 148.6l-0.2 -0.9M86.7 172.6l0.5 0.1M92.5 148.1l0.3 -0.5M80 148.8l-0.6 -0.6M99.4 168.3l0.5 -1.3M101.6 153.7l-0.5 0.1M74.8 162.4l-0.1 -0.5M85.2 158.4l-0.3 -0.9M98.8 171.5l-0.9 0.7M110.4 150.1l1 -0.5M79.6 161.8l-0.9 -0.9M89.4 165.5l0.9 -0.8M111.9 162.1l-0.3 -0.5M103.1 173.5l-0.7 -0.9M82.9 176.1l1.4 -0.2M95.7 172.6l-0.6 1.2M108.4 158.5l0.7 0.4M96.2 171.9l-0.4 0M106.5 149.3l0.2 -0.5M87.7 172.5l0.3 0.4M94.9 170.5l0.6 -0.9M111.9 163.1l0.4 -0.1M83.2 164.2l-0.3 1.1M99.8 164l0.5 -0.8M86.8 159.5l0.7 -1.1M82.7 174.5l0.9 -0.2M97.1 153.7l-0.9 -0.2M98.4 148.2l0.9 -0.2M90.3 172.9l-0.8 -0.3M101.8 149.4l-0.8 -0.2M112.4 176.8l-0.1 0.8M79.4 161.2l0.5 -1.2M93.3 157.5l0.4 0.9M111.1 151.4l0.1 -0.3M82.1 154.6l-0.3 -0.6M88.5 167.1l0.9 0.7M79.3 163.6l0 0.5M95.5 161.3l-0.6 0.6M95.4 152.4l0.3 1M99.7 164.2l0.6 -0.8M108.4 154.7l-0.1 -1.2M110.2 157.4l-0.5 1.2M83.1 179.2l0.4 -0.3M83.9 170.6l0 0.4M107.4 160.8l0.1 -0.5M90.4 169.2l0.5 0.1M101.5 176.5l0.4 -0.1M94.5 171.6l-1.1 0M81.9 149.6l0.3 0.2M96.3 163.8l-0.4 -0.2M81.7 153.8l0.8 -1.2M111.2 150.3l1.3 0.5M92.7 171.8l-0.4 0.7M94.9 161.1l-0.3 -0.2M102.2 174.3l0.3 0.8M103.8 160.3l0.2 0.5M94.7 147.8l0.9 -0.8M102.4 174.8l-0.5 -0.6M98.2 163.4l1.2 -0.1M84.7 176.5l0 -1.2M106.7 160.3l1 -0.8M102 171.9l0.1 -0.8M103.1 149.6l-0.5 0.7M74.8 158.7l-0.7 -0.8M83.6 177.5l-0.4 -0.6M100.6 165.5l-0.7 -0.2M114.1 167.9l-0.4 -1.1M113.3 148l-0.9 -0.8M84.6 160.1l0.5 0.2M89.3 150.5l0 1.3M96.2 163.6l0.9 -0.2M113.9 167.7l0.2 -0.4M98.1 171.6l1.3 0.4M80.7 162.4l0.4 0.8M98.7 149.2l0.7 -0.3M95.3 166.4l-0.4 0.5M100.4 165.2l-0.2 1.1M86.2 147.7l0 0.4M80.6 171.4l-1 0.8M104.1 148.9l1.4 -0.1M77.3 176.3l-0.8 0.4M113 155.1l-1.3 -0.2M103.1 162.3l1.2 -0.2M98.4 151l-0.6 -0.6M82.5 149l-0.5 -0.1M92 168.7l-0.6 0.2M97.5 160.7l0.2 -0.9M114 177.8l-0.1 -0.6M78.9 175.9l0.2 -1M88.7 156l-0.4 -0.9M97.9 167.6l0 -0.5M84.3 178.7l1.1 -0.7M76 149.2l-0.1 0.8M99.1 150.6l-0.4 -0.1M77.8 168.9l-1 -0.3M89.2 162.6l0.2 0.7M104 174.1l0.4 0.2M106.5 167.3l0.1 -0.6M91.2 155.6l0.3 -0.7M100.4 179l-0.4 0.8M104 176.8l-0.7 0.3M78.3 175.3l0.4 0.2M96.8 162.8l-0.3 -0.6M105.2 149.7l0.2 1M77.6 157l-0.2 -1.1M85.6 151.9l-0.7 0.9M88.9 151.1l-0.2 -0.9M110.9 177.4l0.7 -0.4M106.3 157.1l-0.3 0.7M111.5 175.9l0 0.7M88.9 158.9l-0.6 0.5M82.1 165.3l0.3 -0.9M107.6 165.3l0.5 1M109.4 156.3l0.9 0.1M96 165.5l1 -0.2M106.3 149.3l-1.1 -0.3M77.7 149.9l-0.1 -1.3M77.8 167.6l0.7 0.9M100.2 155.2l0.2 1.2M95.1 171.8l-0.6 0.4M112.8 168.8l-0.9 0M103 170l0.7 -0.4M107.2 168.6l0.7 -1M107.5 175.7l1 -0.3M95.2 170l0.3 -0.8M91.1 152l-0.1 -1.4M89.3 152.7l0.2 0.8M86 178.3l0.6 0.2M79 168l0.1 -0.5M76.9 162l-1.1 -0.7M75.8 150.8l0.2 0.5M83.7 170.3l-0.5 -0.3M81.7 156.3l0.5 1M86.8 164.8l0.4 -0.8M84.7 175.7l0.6 -0.4M96.1 177.9l-0.6 0.1M76.4 177.6l0.2 -0.7M95.3 163.8l-0.2 1.4M100.5 154.9l0.8 0.1M89.2 172.8l-0.2 -1M80.6 152.3l-0.3 0.6M108.9 163.8l-0.9 -1.1M85 164.4l0.7 1M74.5 173.6l0.7 -1M77.7 155.9l-0.1 -0.4M93.5 162.3l0.9 -0.3M108.4 157l0.2 -0.8M110.8 150.2l0.3 -0.5M96 164.1l0.7 1M86.8 157.2l0.6 0.3M92.9 170.2l-0.7 0.8M78.6 159.9l-1.4 0.3M107.3 168.2l0.7 0.1M102.6 154.9l-0.8 -0.3M74.8 179l0.2 -0.5M98.9 156.6l-0.7 0.6M86.2 158.1l-0.8 0.7M84.6 153.7l-0.1 -0.7M111.9 165.3l-0.1 -0.7M107.2 150.3l0.3 0.3M101.3 170l0.3 0.7M107.6 166.3l0.5 0.3M80.6 151.3l-0.3 0.2M110.9 161l-1 -0.1M104.8 173.6l-0.5 0.5M90.8 147.8l-0.9 0.6M113.4 172.6l-0.5 -0.8M75.1 157.9l-0.6 0.9M78.6 159.4l-1.2 -0.1M107.2 166.9l0.6 1M110.2 164.8l-0.5 0.7M80 170.1l0.9 -0.1M102.8 174l0.4 1.3M99.3 153.6l0.5 0.3M97.3 169.6l-0.6 1.2M88.7 162.1l1 1M79.8 176.2l-0.9 -0.3M96.6 155.8l1.2 -0.8M106.9 166.5l0.9 0.9M85.9 176l0.1 1M107.4 153.2l-0.4 -0.1M75.7 153.1l1.4 -0.1M100.5 157.1l-0.5 -1M89.6 166.2l0.1 -0.3M82.3 162.3l0.5 0.6M97 152.9l-0.6 -0.1M97 157.9l-0.2 -0.3M101 151.9l1 -0.3M93.1 160.5l-0.8 -0.8M104.5 171.4l-1.4 0.1M107.7 174.7l-0.7 0.4M96.9 176.3l-0.9 -0.1M91.6 176.2l-0.2 0.4M103.2 176.1l-0.1 -1M104.2 157.1l-0.3 -0.2M79.3 161.6l-0.8 0M76.5 169.5l-0.6 -0.1M86.6 160l0 0.4M110.6 178.2l-0.6 -1.1" stroke="#702a48" stroke-width="1" stroke-linecap="round" fill="none"/>
<rect x="73.3" y="146.2" width="41.9" height="34.2" fill="#f4f0f2" opacity="0.17"/>
</g>
<g filter="url(#bl)">
<rect x="117.5" y="146.2" width="41.9" height="34.2" fill="#ebe3e8"/>
<path d="M154.5 169.2l0.1 -1.3M129 167.6l1.1 -0.7M141.3 152.8l-1.2 0.8M122.8 157.6l0.8 -0.3M127 157.5l0.6 -0.4M135.6 167.4l0.3 -0.8M121.9 165.6l0.4 0.1M126.2 169.4l-0.2 1.1M125.2 151.2l1.1 0.2M152.6 154.4l0 0.3M144.2 157l0.7 0.8M142.4 161.6l0.6 0.8M140.6 161.2l0.7 1.2M152.8 169.3l1 0M132.3 151.1l-0.7 -0.6M135.9 178.9l0.2 -0.4M153.6 147.5l-0.4 -0.6M147.5 177.7l-1.1 -0.2M120.9 168.6l0.6 0.6M131.9 149.7l0 -0.4M128.9 150.2l-0.3 -0.6M120.5 148.3l0.2 0.9M119.2 148.2l-0.5 -0.8M124.1 157.3l0.4 0.5M134 154.3l0.2 0.5M130.6 165l0.8 -0.7M136.4 147.5l0.4 1M134.7 174.3l0.6 -0.4M133.1 156.9l-0.2 -0.4M129.6 175.3l-1 1M134.3 174l-0.4 0.1M141.5 154.1l1 -0.5M139.6 176.7l-1.3 -0.4M146.9 153.1l-0.3 1.2M122.7 178.6l1.1 0.3M143.1 160.3l-0.8 -0.6M132.9 156.4l1 0.3M153.5 159.4l0.5 -0.6M128.8 172.8l0.4 -0.2M153.1 157.6l0.1 -0.6M157.8 158.1l0.1 0.4M124 150.3l0.1 -0.3M123.4 155l0.7 0.9M119 169.1l-0.3 0.4M127.8 164.1l0 0.8M134 164.4l-0.2 -0.6M142.8 170.1l-0.3 1.1M122 163.1l-0.3 0.4M144.7 174.5l-0.7 0.1M154.4 178.9l-0.7 -0.7M143.9 169.7l-0.4 -0.8M148.4 171.1l-0.6 -0.7M133.3 154.2l-0.7 0M137.3 153.1l0.4 -0.3M153.4 165.4l1.1 -0.7M125.5 156.1l1.1 0M122.1 155.8l0.5 0.4M121.7 148.7l0.8 0.2M146.8 163.6l-0.5 -0.9M124 169.8l-0.8 0M156.7 161.9l-0.5 -1.1M137.8 152.3l0.2 0.6M126.2 160.2l1.1 0.5M149 167.6l0.4 0.4M154.2 175.2l-0.2 -1.3M126.9 156.6l-0.8 0.3M133.1 155.2l0.2 -0.5M141.3 173.3l0.4 0.6M133.6 156.5l1.1 -0.6M123.8 149.5l-0.7 -0.5M120.2 174.9l0.7 -0.7M122.3 153.5l0.6 -0.9M136.3 177.1l1 0.3M151.5 173.6l0.9 0.6M141 167.4l0.8 1.2M156.9 151.1l-0.9 -0.3M136.3 158.1l0.1 1.1M138.9 161.8l-0.6 0M154.2 171.8l-0.1 0.7M139.8 167.5l1.1 -0.8M121.2 174.9l1 0.1M149.2 153.1l0.1 0.4M136.1 173.9l1.2 0M134.1 177.1l-0.8 -0.3M130 174.4l-1.1 0.2M144.8 173.4l-0.1 0.4M126.2 167.2l0.3 0.3M132.6 168.5l0.3 0.6M123.6 178.5l1.2 -0.8M143.8 159.4l-0.1 0.7M149.5 164.7l0.9 1M152.5 147.8l0.7 0.5M137.5 173.7l0.3 1.4M132.5 152.1l1.2 -0.1M150 152.9l0.6 -0.1M137.1 175.1l0.3 0.2M143.1 163.6l1.3 -0.4M133.1 171.2l1.1 0.2M136.3 157.5l-0.2 0.8M136.6 157.3l0.4 0.1M119.5 174.4l-0.7 0.4M154.9 150.1l0.5 -1.2M135.7 169.8l0.8 0.1M119.4 170.8l1.3 -0.3M139.5 173.3l-0.2 -0.3M131.1 150.7l-0.6 0.3M119.8 147.8l0.7 0.6M151.8 167.7l0.4 -0.4M128.5 159.2l0.8 0.4M123.4 149.5l0.3 -0.5M136.5 162.1l0.4 0.1M152.9 176.4l0 -0.8M125.9 152.4l-0.6 -0.1M143.2 178.9l0.6 -0.2M128.1 148.7l1.2 -0.6M151.5 170.5l-1.1 -0.8M131.1 163.1l0.9 -0.5M132.9 153.7l-0.3 1.2M142.3 170.1l0.6 -0.9M139.6 149.3l0.1 -0.6M125.8 148.5l-1 0M123 150.8l-0.9 0.2M127.7 176.2l-0.6 0.2M150.3 172.2l-0.3 0.7M135.6 149.5l0.5 -0.3M127.3 170.3l-1 0.2M124.6 168.4l1.4 -0.3M119.7 152l0.2 1M138.9 162.8l0 0.4M137 154.6l-0.7 -1.2M124 175.8l0.7 -0.3M119.9 158.3l-0.1 1.1M157.3 178l0.1 0.6M135.2 155.5l-0.6 -0.8M119.2 154.9l-0.7 0.3M148 150l0.7 0.4M125.8 151.4l1.1 -0.2M120.5 171.2l1 0.9M127.1 157.9l0.6 0.2M124.1 170.2l0.4 -0.1M128.7 173.9l-1.2 -0.5M131.3 149.7l-0.7 0.3M123.6 167.5l-0.1 -1M146 170.8l0.8 -0.8M131.1 175.4l0.9 -0.9M155 147.6l0.8 -0.9M132 152.8l0.3 -1.2M135.3 149l0.4 0.5M144.8 172.3l0.3 0.2M143.6 161.8l-1.3 -0.1M119.3 168.2l-0.7 0.6M126.9 173.5l-0.7 0.5M143.3 160.6l0.6 0.7M124.1 162.8l-0.5 -1.2M139.1 164.3l-0.9 -0.3M128.6 159.6l0.4 0.2M149.7 151.5l1.4 0.3M123.9 150.9l0.6 0.6M140.7 155.5l0.2 -1.2M137.1 153.3l0.8 1M126.3 176.4l-0.8 1.1M131.6 170.4l0.7 0.2M148.6 175.9l1 -0.9M156.3 169.3l-0.5 0.2M143.8 172l-0.5 -0.2M143 167.5l-0.5 0.2M148.1 152.6l1 0.3M141.5 178.4l-0.2 0.7M152.1 166.6l0.8 -0.9M144.1 155.1l-1.4 0M119.1 168.4l0.9 -0.6M137.5 167.7l-0.7 0M157 176.3l0 0.4M150 162.3l-0.5 -0.2M157.1 176.6l-0.7 -1.2M122.2 166.6l1 0.8M140.6 171.3l-0.4 0.2M130.6 165.6l-0.4 -1.3M150.3 172.3l0.5 -0.6M141.4 153l-0.8 0.9M129.6 154.2l-0.2 0.3M129.9 151.7l-0.6 0.1M151.5 164.9l0 -0.7M141.2 178.9l0.7 -0.4M144 167.3l0.7 1.1M130.1 162.9l1 0.5M145.4 177.9l-0.1 0.5M122.1 148.8l0.2 -0.6M124.8 163.8l-0.7 1.2M120.1 173.8l-0.6 -1.2M128.7 168.9l1.1 0.3M124 148.7l-1.3 -0.4M147.1 172.5l-0.3 -1M151.4 148l-0.1 0.4M121 176.5l1.3 0.5M130 163.8l-0.4 0.9M134.9 154.5l1.2 0.5M120.1 169.9l0.2 -0.3M120.8 158.6l0 -0.5M123.9 169.2l0.4 -0.5M156.7 147.6l-0.8 0.1M151.7 178.5l-1.1 -0.4M143.3 151.2l0.2 -0.4M129.5 176.9l1 -0.5M136.8 156.9l-0.2 0.4M120.2 150.1l-0.9 -0.4M155.6 174.7l-0.4 0.2M144.7 172.3l0.1 0.5M157.7 168.8l-0.7 0.9M121.4 155.7l0.7 -0.4M146.8 171.4l-0.4 -0.6M132.9 162.4l-0.1 -0.9M119.7 161.5l-1 0.1M136.2 163.2l0.4 -1.1M130.8 149.3l0.3 -0.9M119.2 162.6l-1 -1M132.5 151.6l-0.5 0.2M151.5 151.6l0.4 0M143.6 179l0 0.7M124 166.7l-0.5 -0.5M144.8 165l-0.9 -0.9M135.4 168.8l0.3 -0.8M140.5 178.3l-0.1 0.7M147.4 179.1l-0.8 0.9M121.8 153.1l-0.6 0.2M131.6 168.1l0.1 -1M141.7 147.7l0.7 -0.9M122.4 163l0.2 0.3M140.9 167.4l0.5 -0.6M122 157l-0.3 0.3M156.1 157.2l0.4 -0.6M149.5 161.9l-0.4 1M132.3 159.8l0.8 -0.5M151.9 173.2l0.3 -1.3M156 149.5l-1 0M142.2 153.1l-1.4 -0.1M135.5 156.1l-0.5 -1M143 175.1l0.7 -0.4M149.8 176.3l-0.1 0.4M149.2 173.2l0.5 1M139 154.8l0.5 0M151.2 151.5l0.3 -0.4M127 173.9l-0.1 0.8M144.7 147.8l0.7 0.6M135.8 159.3l0.3 -0.3M132.9 163.9l1.1 -0.2M137.1 178.9l1.1 -0.6M151.7 173.9l0.1 0.9M135.2 156.6l0.3 0.2M125.4 150.1l0.7 -1M144.1 166.9l-0.3 0.3M155.7 172.2l0.5 0.9M128.9 152l-0.6 0.9M144.6 168.6l0.8 -1.1M140.9 178.9l0.3 1.3M134.4 163.3l-0.6 -0.6M135.2 160.9l0.2 0.4M152.5 154.9l-0.3 -0.7M143.5 169.3l-1.2 -0.7M147.6 167.8l0.4 0.6M150.3 165.8l0.1 -0.6M145.6 154.6l-0.3 0.8M132.1 153.3l-0.3 0.1M148 158.2l-0.2 -1.1M142.2 163l0.7 -0.6M121.8 169.9l-0.8 0.9M149.3 168.5l-0.5 -0.3M143.1 150.9l0.5 -0.3M120.8 154.5l1 -0.4M130 174.7l0.4 -0.8M131.7 177.4l0.4 0.5M145.2 150.1l0.2 -1M147.3 148.6l1.1 0.7M123.3 159.4l0.8 0.4M137.4 167.1l-0.4 0.4M144.3 152.1l-0.4 -1.1M150.9 162.2l-0.3 -0.6M145.9 174.8l-0.6 0.6M144.4 176.3l-0.4 0.3M139.4 169.8l-0.3 -1.2M155 159.8l0.3 0.1M142.6 158l0.9 -0.9M146.8 147.7l0 1.4M127.8 148.9l-0.5 0.7M136 175.2l0.3 0.9M129.5 166.4l-0.8 0.9M155.7 170.9l0.3 0.5M135.5 149.6l0.9 -0.4M154.2 168.9l0.9 -0.6M149 165.2l-0.6 0.8M143.5 158.9l-0.9 -0.7M146.4 161.7l0.6 0.7M124.5 177.8l-0.3 1.1M140.5 157.8l-1.1 -0.1M143.2 149l-0.4 0.6M154.9 171.7l0.2 1.4M143.6 160.8l0 -0.5M140.4 157l-1.2 -0.1M122.6 148.8l1.3 -0.4M128.9 151.5l-1.1 0.5" stroke="#a66882" stroke-width="1.25" stroke-linecap="round" fill="none"/>
<path d="M125.1 169.4l-0.6 -0.6M127.1 172.7l0.3 -0.8M138.7 154.8l0.7 0M141.8 149.5l0.2 -0.6M127.8 148.6l1.1 0M153.4 167l0.7 0.1M138.4 151l0.7 -0.2M124.7 173.5l1 1M136.6 165l-0.5 0.7M126 148.4l0.4 -0.4M149.6 153.9l1.3 -0.3M148.6 171.7l-1 -0.6M123.4 162.5l0.3 -0.5M155.3 175.7l-0.6 0.4M136.5 159.6l0.8 0M119.6 150.2l-0.3 -1.4M138.3 163l-1.1 -0.4M127.4 166.8l-1 -0.4M125.7 152.7l-0.8 1.1M132.3 166.4l-0.2 0.4M121.2 173.4l0.1 -0.7M145.7 168.9l1.1 -0.8M134.7 179l1 -0.2M153.7 163l-0.4 0.4M153.4 152.5l1.1 0.5M149.4 162.8l0.2 -0.3M128.8 156.6l-0.5 0.3M121.3 158.1l1.1 -0.8M148.2 162.6l0 1.4M139.5 170.6l0.6 0.1M151.9 172.8l0.7 -0.7M135.5 165.9l0.4 -0.5M139.8 156.1l0 -0.3M145.8 177.9l1 0.1M144.2 174.6l-0.5 -0.3M134.7 178l0.4 -0.3M122.3 150.3l0.8 0.1M124.2 175.1l-0.3 -0.4M140 157.7l-0.6 0M125.2 153.2l-0.8 0.8M140.4 148.7l-0.3 -1.3M149.4 172.6l0.8 0M121.1 171.8l0.5 1M128.6 169.6l-0.1 0.3M134 157.2l0.5 -0.4M138.6 164.9l0.4 -0.1M142.5 163.6l-0.1 -1.4M130.9 169.7l-0.9 -0.2M121.1 173.4l0.7 -0.1M131.2 179.1l0.3 0.3M121.5 173.4l0.1 -0.8M143.3 147.9l-0.5 -0.6M139.1 159.7l-0.5 0.3M120.5 161.2l0 1.1M151.1 170.5l-0.6 0.2M133.9 162.9l-0.9 -1M121.9 162.6l-1.1 0.1M154 172.3l-0.8 -0.8M145.1 174.8l-0.3 -1M128.3 176.7l-0.8 0.7M151.4 178.2l0.3 0M131 157.3l-0.4 0.3M140.6 149.8l-0.4 1.3M148.1 162.1l1.1 0.9M146.6 153.9l-0.5 0.9M145.7 155.6l0.7 -0.2M128.7 174.4l0.6 0.9M126.5 166.4l-0.1 0.7M156 162.2l-0.9 0.4M129.7 152.8l-0.5 0.4" stroke="#86506a" stroke-width="0.9" stroke-linecap="round" fill="none"/>
<rect x="117.5" y="146.2" width="41.9" height="34.2" fill="#f4f0f2" opacity="0.17"/>
</g>
<g filter="url(#bl)">
<rect x="161.2" y="146.2" width="41.9" height="34.2" fill="#efedeb"/>
<path d="M183.7 156.6l1 0.2M170.7 155.6l-0.8 0.6M201.4 162.1l1.4 -0.1M172 149.7l0.7 1.1M186.1 176.6l1 -0.2M183.5 149.6l1.2 0.2M188.9 171.7l-1 -0.4M187.6 175.8l0.7 0.6M174.6 173.8l0.4 -0.4M165.6 155.1l-0.5 1.1M178.6 171.2l-0.3 0.9M169.8 167.9l-1.3 -0.1M199.8 163.9l1.2 0.6M199.7 162.5l-1.4 0.1M172.4 155.5l-0.4 -1M189.5 173.7l-0.8 -0.1M171.3 154.2l-0.6 0.6M191.6 167.1l-0.7 -0.1M187.1 159.6l0.3 -1M189.8 159.3l-1.1 -0.1M200.2 164.2l-0.5 1M167.1 158l0.9 0.2M172.4 159.9l0.2 -1M163.9 161.5l1.2 0.1M182 174.4l-0.1 1.2M167.9 175l-0.3 0.3M198.5 174l0.3 0.9M181.2 152l-1.2 0.6M177.4 171.5l0.1 -1.2M186.6 176.1l-0.5 0.7M180.1 150.6l-1.2 0.1M185.1 153.1l0 0.9M166.6 153.8l0 -0.4M166.9 152.5l-0.4 0M189.5 165.4l0.1 -1.2M191 163.9l-0.3 0.9M168.3 154.7l-0.3 -0.9M167.9 161.5l-0.5 -0.3M188 152l0.4 0.7M173.8 170.3l-0.6 0.3M194.7 173.9l0.1 -0.5M173.2 150.5l0 -0.8M166.1 177.1l0.3 0.2M197.9 161.8l0.6 -0.8M167.8 162.7l0 -0.3M193.1 158.6l-0.7 -0.1M193.5 162.8l-0.4 0.1M191.1 152.9l-0.3 -0.2M166.7 167.3l-0.2 1M189.7 158.7l-0.7 -0.2M164.1 174.2l-1.3 -0.2M187.7 167.4l0.8 0.7M179.4 156.2l0.4 0.3M165.2 168.4l-0.4 0.2M184.8 175.3l0.4 -0.2M186.9 166.9l-0.7 0.1M180.9 158.3l-0.4 0.3M189.8 174.5l0.7 -0.1M171.6 155.5l1.1 0.1M168.1 163.3l0.7 -0.8M187.3 171.8l-1 -0.8M186.5 154.6l1.2 0.6M166.9 164.3l0.9 -0.9M192.3 148.9l0.9 0.2M166.3 154.5l0 1.2M194.5 172.8l0.9 -0.9M169.6 179.1l-0.6 0.9M193.5 154.7l0.9 -0.5M189.8 159.2l-0.1 -0.5M175.6 169.9l0.6 -0.7M185 149.7l-0.6 0.1M174 160.1l-0.7 0M190.5 151.2l1.1 0.3M181.1 178.6l-0.7 -0.6M185.1 150.6l-0.5 -0.6M167.9 152.9l0.7 0M177.9 164.4l0.2 -0.3M168 148.6l-0.8 0.1M163.1 157.5l0 0.5M179.1 150l0.3 0.5M174.3 161.7l-0.7 0.8M174.4 160.6l1 1M195.6 151l0.3 -1M196.4 176.5l0.4 -1.1M180.3 160.1l-1 -0.4M178.5 178.3l-0.8 0.1M192.9 163.3l-0.6 0.4M191.4 154.6l0.1 -0.7M167.1 150.8l-0.8 0.7M195.8 147.9l0.8 -0.5M165.3 161.2l0.6 1.2M178.3 151.3l0.7 0.2M169.1 163.1l-1 -0.2M179.5 159.7l-0.8 0.2M165.8 151.9l1 0.6M191.2 149.9l0.3 1.3M191.3 147.7l-1.2 0.5M190.9 157.9l0.5 -0.9M200.2 173.5l0.8 0.4M191.4 174.2l0.2 -1.2M171.3 161.5l0.2 1.3M201.4 159.5l-0.4 0.5M167 149.3l1.1 0.8M190.1 156.2l0.4 -0.1M198.2 149.4l-0.1 0.3M179.8 168.7l0.6 -0.8M163.6 162.6l1 -0.4M167.4 178.5l1.4 0M188.2 156.5l-0.4 -1.1M195.1 177.4l-0.8 -1.1M170.5 152.1l-0.9 -0.8M193.9 159l0.9 -0.4M167 175.3l-0.7 -0.4M192.1 151.9l-0.6 0.4M199.5 178.1l-1.1 0.1M177.4 156.8l-0.6 -0.4M198.8 170.1l0.6 -1.1M196.4 147.6l-0.5 0.5M166.4 168.3l-0.9 -0.9M173.2 175.4l-1.3 -0.1M200.9 172.9l0.2 -0.5M187.3 168.6l1.1 -0.1M187.1 173.2l-0.8 1.1M165.8 147.5l-1 0.3M171.4 177.4l1.4 0.2M187.1 162.4l-0.8 -0.6M163.3 163.2l0.6 -0.7M168.3 152.5l-0.9 -0.2M173.1 171.3l-0.3 0.2M176.6 161.7l-0.1 0.5M173 151.1l1 -0.6M196.5 161.4l0.5 -1.2M187.3 150.1l-0.4 -0.2M169.4 150.3l0.4 1.2M170.2 177.6l1 0.2M171.1 179l0.9 0.6M174.3 159.7l0.4 -0.9M192.8 163.1l-1.1 0.3M193.6 148.6l0.5 0.5M172.7 150.5l0.2 0.5" stroke="#a4606a" stroke-width="1.25" stroke-linecap="round" fill="none"/>
<path d="M162.7 150.9l-0.8 0.7M167.8 150.9l0.1 1.2M168.1 171l-0.3 -0.4M183.6 161.6l-1.2 0.7M166 147.9l0.7 -0.3M170.2 157.9l-0.9 1M170.6 154.2l-0.8 -0.5M200.2 174.2l-0.3 0.4M195.5 179l1.1 0.2M196.8 168.2l0.2 1.2M191.3 153.5l-0.4 -0.4M163.9 158l-0.4 0.7M188 174.1l1.4 -0.3M201.8 172.6l-0.2 0.5M187.1 164.8l-0.2 -0.4M169.9 176.8l-0.9 -0.7M166.1 160.1l0.9 -0.6M201.7 153.6l-1.2 0.3M179.9 172.6l-0.4 -0.2M166.2 178.8l0.4 0.4M175.6 170.2l0.5 -0.7M182.1 172.6l-0.1 0.7M186.6 167.7l0.4 0.1M167.7 170.5l-0.5 -1.3M192.8 155.4l0.1 -1.4M176.1 147.6l-0.5 0.5M169.3 148.7l0.9 0.9M164.2 167l0.1 0.5M194.9 156.8l0.3 0.8M189.9 164.1l0.5 -0.6M183.1 170.3l-1.1 0.3M180.8 151.5l0.9 0.8M191.9 177.5l-0.4 -0.9M168.9 174.6l0.6 0.5M167.8 159.5l-0.3 0.7M190.6 164.6l0.1 1.2M191.5 173.8l1 0.2M197.9 155.6l0.4 1.2M176.7 160.1l0.3 -0.7M170.1 154.1l-0.6 0.9M176.9 172l0.6 0.2M187.1 162.6l-1.4 0M173.3 153.1l0.8 0.2M174.1 162.5l0.3 0M177.4 171.6l-0.4 1.3" stroke="#84444e" stroke-width="0.9" stroke-linecap="round" fill="none"/>
<rect x="161.2" y="146.2" width="41.9" height="34.2" fill="#f4f0f2" opacity="0.17"/>
</g>
<g filter="url(#bl)">
<rect x="29.5" y="181.9" width="41.9" height="33.8" fill="#ece6f1"/>
<path d="M67.4 184.2l-0.6 0.4M48.7 184.7l1.3 -0.6M61.4 201.4l0.5 -0.1M45.4 196l0.4 -0.7M38.7 193l0.6 0.9M41.9 186.1l0.3 -0.4M33.9 199.2l-1 0.3M35.8 200.5l1 -0.2M61.2 199l-0.2 0.9M49 200l0.8 0M57.2 192.4l0 1.3M58.9 207.1l-0.9 -0.1M66.8 189.2l-0.2 0.3M65.6 210.8l-0.6 -0.1M59.4 194.4l-1 0.3M37.8 189.7l1.1 0.3M61 185.5l-0.9 0.1M37.2 208.1l0.3 -0.3M54 200.4l0.1 0.4M44.2 195.6l-1 0.3M36.5 189.7l-1.2 0.7M44.4 190.8l0.5 0.3M39.5 196.1l0.3 0.1M42.4 195.8l-0.3 -0.5M35 196.8l-0.6 0.9M32.8 183.5l-0.4 -1.2M52.6 188.2l-0.4 -1M64.5 192.4l-0.6 0.6M53.7 192.6l0.4 -0.2M31.7 187.5l-1 0M46.3 197.5l-0.3 -1.2M33.4 198.1l-0.8 -0.3M35.3 197.9l-1.3 -0.6M68.1 206.2l-0.9 0.9M66.3 190.4l1 -0.6M41.9 206.2l0.1 -0.7M43.3 188.3l0.7 0.4M59.8 194.1l-0.9 0.1M57.2 199l0 1M53.3 194.5l-0.5 -0.3M31.3 190.2l0.3 -0.3M55.8 212.5l-0.9 0.4M53.9 198l-1 -0.9M34.1 193l0.2 0.6M39.3 188.2l0.3 0.9M52.1 213.6l0.9 0M38.9 191.1l0.7 -0.2M46.2 193.6l-0.1 -0.6M47.3 183.6l-0.3 0.4M58.2 187.9l0.1 1.4M57.1 202.2l1.2 -0.1M60.6 188.2l-0.9 -0.8M54.6 189.4l-0.1 -0.7M55.1 190.9l-0.4 0M47.3 210.2l0.2 -0.6M53.8 201.9l-0.1 0.7M43.7 209.6l0 -0.7M46.7 184.5l1.3 -0.3M54.8 193l-1.2 0.6M50.3 202.8l-0.2 0.4M54.9 210.9l0.1 0.4M66.7 187.8l-1.1 0.9M42.8 202l-0.4 -0.9M57.5 183.9l-0.7 0.4M42.1 189.4l-1 0.3M34.1 186.1l-0.5 -0.6M44.9 192l1.2 -0.2M57.1 204.1l0.1 -0.6M64.4 195.2l-1.1 -0.5M32.1 206.5l0.8 0.1M33.7 201l-0.5 0.5M65.9 198.1l-0.7 -0.6M47.4 213.9l-0.5 0.4M57.2 196.1l-1.3 0.5M57.5 184.1l-0.7 0.6M53.2 195.8l0.4 0.1M57.9 213.3l-0.7 0.2M61.7 211.9l0.3 1M50.3 198l0.6 -0.3M66 194.1l-0.3 0.8M63 207.3l-0.7 0.5M65.6 205.5l-0.3 1.2M69.9 184.2l-0.6 0.5M33.2 198.2l0.9 0.2M65.9 187.9l-0.2 1.4M60.2 203.2l-0.1 -0.4M59.9 196l-0.8 -0.3M58.5 208.2l-0.8 0M42.3 205.9l0.7 -0.7M36.7 184l-0.4 0.1M48.8 201.9l-0.4 -0.1M34.7 211l0.3 -1.1M42.3 202.3l1.1 0.2M59.8 203.4l-0.1 -1M59.9 187.9l1.3 0.5M49.6 204l0 0.6M41.4 194.6l-0.2 1.1M38.1 196.2l0.8 -0.6M65.3 206.7l0.6 0.3M63.3 205.3l-0.9 -0.5M65.2 186.3l1.1 -0.9M55 196.5l-1.1 0.8M66.6 194.9l-0.2 0.5M67.9 203.3l0.7 -0.4M52.5 198.3l-0.9 -0.2M63.2 203.4l-0.1 -0.9M67.4 185l-0.7 -0.3M42.6 198.5l0.5 1.2M53.1 197.5l0.4 -0.1M37 196.6l-0.7 0.3M59.6 190.6l-0.4 0.4M52 214l0.3 1.1M54.8 200.9l-1 0.7M31.8 200.6l0.3 -0.3M53.2 191.9l-0.4 -0.7M55.1 195.8l-0.3 1.3M64.1 208.7l0.6 -1.2M30.9 203.2l1.1 0.7M54.6 196.8l-0.3 -0.6M60.9 199.9l0.2 -0.5M48 199l-0.3 -0.4M52.3 192.7l-1.3 0.6M66.8 183.6l-0.6 -0.7M32.4 186.5l-0.8 -0.8M52.3 204.5l-0.2 1.1M31.8 192.5l0.2 -0.4M58.1 198.2l-0.4 -0.3M43.6 192.6l-0.4 0.8M42.4 193.6l-1.3 0.2M53.9 194.8l0.5 -0.1M39.5 196.3l-0.3 -0.2M39 211.3l-0.6 -1.1M35.9 197.1l-0.5 -1M56.3 200.2l0.9 -0.3M58.5 186l-0.2 -0.7M35.4 200.5l0.5 0.9M39.9 199.8l0.3 -0.9M39.5 206.6l-0.7 -0.1M50.5 198.4l-1 0M56.8 192.7l0 0.6M66.8 193.1l-0.2 1M54.1 197.8l0.3 1.1M60.1 212.4l0.6 1.1M55.2 201.7l0.2 -0.3M61.4 201.8l0.1 0.8M54.5 213.1l0.4 -0.9M49.3 187.6l-0.5 -0.2M41.1 204.7l-0.7 0.3M43.4 200.7l-0.6 -0.1M57.7 193.4l0.9 0.3M32.6 186.4l0.4 -1M67.2 188.9l-0.1 -0.6M47 186.7l0.9 0.8M61.7 211.8l-0.2 0.6M32.6 207.2l0.5 0.5M52.8 184.2l-0.1 0.6M48.6 206.3l0.3 0.7M33.8 189.8l-0.3 0.3M39.4 203.7l0.7 0.8M47.8 189.4l-0.3 0.1M33.6 212.6l0.1 -0.9M43.9 200.1l-0.2 1.1M37.9 209.1l1.3 0.3M56.7 201.3l-0.4 -0.9M56.8 183.7l1.1 -0.3M69.5 204.9l-0.8 -0.3M64 185.3l-0.2 -0.6M32.4 212.2l-0.8 -1M32.8 209.8l0.3 0.2M68.8 185.5l0.2 0.5M41.4 202.1l0.3 1.4M55.8 213.9l0.3 0.3M60.4 205.2l1.3 -0.4M54.9 185.2l0.1 -0.6M66.1 189.8l-0.3 0.6" stroke="#b8609e" stroke-width="1.5" stroke-linecap="round" fill="none"/>
<path d="M60.2 194.9l-0.2 0.3M58.3 186.2l-0.2 -0.5M33.4 189.1l1 0.6M53 209.7l0.2 -0.8M65.6 185.7l0.5 -1M32.3 197.7l-0.7 0.4M44.3 185.7l1 0.7M60.8 184.2l0.2 0.3M47.4 208l1.2 -0.1M53.2 188.3l0.5 -0.7M37.8 199.8l1 -1M40.7 207.3l0.9 -0.9M63 206.3l0.1 -0.5M57.7 191.9l-1.2 0.4M65.4 186.5l0.9 0.4M63.2 214.2l-0.3 -0.6M63.7 189.7l1.1 0.9M43.3 186l-0.7 -1.1M43.3 192.6l-1.1 -0.5M32.6 196.4l-0.6 -0.4M34.8 188.9l0.6 -0.5M61.4 205.4l-0.2 -0.4M57.5 204.7l-0.7 0.8M33 186.6l-0.2 0.6M36.6 191.2l0 -0.6M54.2 199l-0.3 -0.5M68.3 207.4l-1.4 0.3M32.9 196l-0.6 0.2M59.1 188.4l-0.2 -0.3M54.6 186.8l0.9 0.5M35.7 186.8l-0.2 -0.8M50.9 203l-1.4 -0.3M56.5 188.4l1 -0.6M38.2 187.3l1.3 -0.1M62.1 204.6l0.3 -0.3M40 192.3l0.8 -0.5M40.4 189.9l-0.9 0.3M54.9 185.9l-0.2 1.1M35.2 204.6l0.4 0.2M55.9 192.1l-0.5 -0.2M67.1 206.9l0.6 -0.3M56.1 208.9l0 0.8M60.9 193.2l0.9 -0.8M38.2 207.6l0.1 0.9M56.9 203.3l-0.3 -0.7M67.9 202.5l1.3 -0.2M60.6 209.8l-0.9 0.9M30.7 187l1.2 -0.1M38 204.7l0.3 -1.1M53.4 195.7l-0.9 0.7M65.2 192.9l0.7 -0.6M53.6 194.9l-0.2 -0.6M61.5 214.1l-1.2 0.1M60.1 195.3l-0.6 -0.6M33 204.4l-0.1 0.7M46.1 209.4l0.1 -1.4M66.8 184.7l-0.1 -1M60.9 190l0.8 0.8M63.7 194.3l-1.1 -0.4M36.8 186.3l-1 0.1M58.1 209.2l-0.9 0M65 213l0 1.1M68.3 193l0.9 -0.4M64.9 195.9l-0.4 -0.4M55.3 204.6l0.5 -0.6M56.9 209.7l1.3 -0.5M63.6 187.6l0.6 0.5M65.3 190.9l-1.3 0.5M59.6 198.6l0.2 -0.7M42.6 202.5l-1.2 0M61.5 212.4l0.5 1.1M57.8 206.2l0.7 0.2M38.6 210.5l0.7 -0.9M64 190.4l0.8 0.1M57.1 192.8l-0.4 0.1M64.5 213.2l-0.6 -0.7M45.1 201.1l0.4 -0.1M49.2 192.5l-0.1 0.6M38.6 213.4l-0.6 -0.1M53.7 210.9l0.7 0.9M54.2 194.8l-0.3 0.4M36.1 186.5l0.4 0M58.2 198.2l0.7 1.2M33.8 200l0.2 0.3M53.6 185.6l-0.2 0.4" stroke="#a04886" stroke-width="1" stroke-linecap="round" fill="none"/>
<rect x="29.5" y="181.9" width="41.9" height="33.8" fill="#f4f0f2" opacity="0.14"/>
</g>
<g filter="url(#bl)">
<rect x="73.3" y="181.9" width="41.9" height="33.8" fill="#f6f2f5"/>
<path d="M111.5 195.3l0.3 -0.5M93.5 191.6l-0.4 -0.1M90.9 193l1.2 0.3M110.6 187.8l-0.6 -0.7M91.3 201.6l-0.3 -0.5M88.8 199l1.4 -0.1M105.3 197.5l1.2 -0.8M109.5 189.1l-0.5 0.3M92.3 210l-0.7 0M80.9 187.4l0.6 -1.2M109.7 183.1l-0.1 0.5M92.8 189.4l-0.8 0.1M99.5 199.3l-0.4 0M111.8 196.5l0.5 -0.5M78 214.3l-0.5 0M112.6 212.3l1.1 0.9M79.6 187.1l0.8 1M98.5 200.6l-0.2 -0.6M76.8 185.5l0.1 1M77.3 184.4l0.1 0.3M76.6 187.3l0.5 0.5M108.1 204.1l0.4 0M87.8 197.5l-0.9 0.3M103 203.1l0 0.6M113.8 199.5l1.2 -0.7M106.6 202.8l0 -0.6M82.6 195.3l0.2 0.5M78.8 188.6l0.5 0M103.6 184.5l-0.3 -1.1M81 198.1l-1.1 -0.8M98.6 187.3l0.5 0.2M79.9 208.8l0.3 -0.4M105.1 211.6l0.2 0.9M83.7 196.4l0.1 -0.5M94.4 202.9l0.9 -1M110.3 195.7l-0.8 1.1M108.6 208.5l-1.1 -0.9M79.7 188.9l0 -0.6M99.5 201.4l-0.5 -0.4M112.7 200.8l0.7 0M95 210.4l-1.1 -0.9M87.4 184.7l-1.3 0.4M95.9 209.9l0.7 -1.1M94.2 183.8l-0.4 -0.2M89.3 190.4l-0.5 0.7M101.6 213.2l0.7 -1M80.6 201.3l-0.6 0.5M77.8 197.4l1.3 -0.3M107.3 186l0.4 -0.6M88 198.7l-0.3 0.6M110.2 201.5l-0.9 0.2M77.2 185.9l0.7 0.1M109.3 184.2l-0.3 1.2M82.3 199l0.9 -0.7M90 192.5l-0.1 0.7M113.5 201.3l-1.3 0.5M90 190.4l-0.5 0M111.7 183.1l-0.3 0.3M82.9 210.5l0.7 1M100.6 184.6l0.4 -0.1M107.3 213.2l-0.6 0.4M89.5 204.8l-0.3 -0.4M79.7 187.9l0.4 0.2M94 187.1l-0.3 -0.6M112.1 185.1l-0.6 -0.6M103.9 183.9l0.5 1.2M92.9 194.3l0.8 0.5M112.9 202.6l1 -0.3M75.1 202.5l-1.3 -0.5M105.9 205.2l0.5 0.6M104.5 200l-0.4 -0.2M95.5 185.8l1.1 0.2M90.7 189.5l-0.4 0.1M99.3 213.5l0.4 -1.2M101.2 213.2l-0.4 0.2M81.5 183.3l0.1 0.4M80.9 206.9l-0.5 0.5M79.1 207.2l0 1.3M78.3 183.4l0.4 -0.8M108.1 205.3l-0.2 -0.6M100.3 186.3l1.1 -0.7M99.5 186.7l0.2 0.8M79.5 213.5l0.8 -0.4M83.9 199l0.8 0M103.9 197.3l0.4 0.5M91.4 204.6l-0.4 0.4M77.8 212.6l0.4 -0.7M104.2 196l0 0.4M99.3 183.2l0.4 -0.3M111.1 195.5l-0.2 -0.5M82.5 207.4l-0.9 -0.3M88.7 202.4l1.4 -0.2M109.2 200.3l-1.2 0.5M107.1 195.2l-0.3 0M99.5 199.1l0.9 1M102.8 198.8l0.5 -0.8M94.6 183.5l-0.2 -0.8M95.3 201.4l-0.1 -1.1M101.4 214.5l-1.1 0.8M78.1 210l-0.7 -0.5M84.6 187.8l-0.6 0.6M74.7 205.2l0.7 -0.7M102.3 186.5l-0.2 0.3M113.3 212.7l-0.6 0.2M99 207.1l0.2 0.6M106.4 204.7l0.4 0.6M106.7 202.1l1.3 0M91.8 212.3l1 0.3M112.9 188.8l0.2 -0.7M75.8 197.7l0.3 -0.7M77.2 191.6l-1.1 0.2M78.4 201.9l-0.3 0.8M112.2 209.7l1.1 0.4M95.3 198.6l1.1 -0.4M76.8 203l0.4 -0.3M93.9 183.8l0 -0.6M98.4 199.3l0.4 -0.7M76.6 196.1l0.8 -0.3M80 194.6l0.1 0.8M109.3 214.5l-0.1 -1.2M88.5 209l-0.6 -0.6M99.5 189.5l0.9 0M107.5 192.4l0.2 -0.6M90.8 199l-0.7 -0.4M83.8 209.6l-0.2 -0.5M111 214.4l0.1 1.1M91.4 197l0.5 -0.1M83 189.7l0.6 1.3M80.2 202l-0.9 -1M103.5 200.8l0.9 -0.6M103.7 183.5l-0.3 0.4M82.4 210.9l-1 0M77.9 201.7l-0.5 1.3M94 194.4l0.6 0.4M103.2 190.6l1.1 -0.5M75.6 188.1l-0.5 0.3M103.9 184l0.7 1M103.3 204.3l-1.1 -0.6M109.7 206.7l0 -1.3M103.5 209l0.5 -1.2M108.2 200.9l0.8 -0.2M78 193.6l0.5 -0.4M87.2 189.9l0.3 0.9M90.2 192.1l-0.8 -0.1M89.3 183.4l0.5 -1M83.4 189.6l0.1 1.3M82.7 195.2l-0.5 0.2M79.2 197.4l-1.2 -0.1M91.3 192.4l-1 -0.4M107.5 186.6l0.3 -0.5M95.4 189.1l-0.7 -0.4M74.4 183.2l0.6 0.6M74.7 206.8l-1 -0.4M75.7 212.5l1 0M107 198l0.1 0.5M100 199l0.2 -0.9M83.5 211.8l-0.4 -1M82.5 187l1.3 -0.3M94 198.7l-0.7 0M105.9 212.3l-0.8 0.1M77.5 186.1l-0.5 0.4M94 204.3l0.6 0M102.2 209l-1 0.5M79.5 186.9l0.9 -0.9M87.2 199.8l-0.7 1.2M99.4 195.6l-0.4 -0.6M97.2 210.1l0.3 0.1M113.6 211.1l0.3 -1.3M111.3 189.3l1.3 -0.3M81.7 213.8l-0.8 0M97.4 207l0.4 0.2M96.7 198.7l-0.3 -0.6M113.5 211.7l0 0.7M112.3 212.6l0.7 -0.2M100.5 183.4l0.5 -1.1M94.7 205.6l0.3 0.2M104.7 202.4l-0.6 -0.1M108.8 196.7l-0.5 -0.3M77.5 204.9l0.3 -0.3M94.4 205.6l0.6 -0.4M80.7 213.4l0.7 -1.1M94.5 205.7l-0.7 -1M92.1 214.1l0.4 0.4M109.1 190.1l-0.1 -0.8M89.9 185.2l-1 -0.1M74.7 213.3l-0.5 -0.1M103.9 202.3l-0.4 -0.3M94 190.3l0.6 1.1M109.1 190l0.4 0M104.7 195l-0.2 0.5M113.9 202.9l0.7 -0.4M99.1 212.3l-0.4 -0.5M109.4 207.5l-1 -0.5M93.1 200.6l0.8 -1M78.8 210.3l-0.8 -0.6M107.6 202l0 -0.6M88.3 196.6l-0.9 -0.8M102 205.3l0.6 0.7M102.2 189.4l0.7 0.1M89.4 183.2l-1.1 -0.5M86.6 201.4l0.6 -0.3M77.8 203.7l-0.4 -0.2M84.3 202l-0.7 -0.8M80.7 207.4l0.1 -1.2M77.1 202.7l-0.6 0.2M95.8 192.4l0.6 0.1M112.9 184.1l-0.6 0.9M106 185.5l0.6 0.4M85.3 189.5l0.7 0.4M101.1 209l0.4 -0.4M95.5 209.3l0.2 -0.8M103.2 195.2l1 0M90.5 189l-0.4 0.7M110.6 201l-0.1 0.4M89.5 211l-0.1 0.3M78.3 208.3l0.1 -1M79.2 200.7l0.8 -1M111.6 198.8l0.7 -0.2M102.2 205.4l-1.1 0M92 201.2l-0.7 0.1M105.8 195.7l0.6 -1M85.3 199.6l0.4 0.6M81.9 212.3l0.8 0.3M101.9 204.7l1.2 0.1M100.2 207.5l-0.2 1.1M102.5 203.5l1.3 0M95.6 208.6l-0.6 0.4M107.7 199.6l1 -0.6M86.4 206.9l-1.1 -0.4M107.7 193l0.3 0.7M99.4 196.5l0.4 -1.1M109 205.1l-0.3 -1.2M96 192.7l0.7 0.1M102.5 200.9l0.9 0.6M98.5 195.1l0 1.3M75.9 183.5l0.1 0.4M96.9 184.2l0.5 -0.8M99.1 194.2l-0.2 0.4M75.5 201.3l-1 0.7M93.6 183.2l0.3 0.8M102.6 207.8l-1.3 -0.4M101.8 213.4l0 0.7M108.4 183.8l-1.2 -0.6M93.9 198.9l-1 0.9M113 196.9l-0.9 -1M113.8 190.2l0.1 -0.7M103.2 199.6l0.4 -1M75.9 207.3l-0.4 0.1M95.9 195.7l-0.4 -0.3M87.5 192.6l0.5 1.2M95.7 195.3l0.5 -0.5M91.5 207.1l-0.3 0.2M79.6 184.5l1.1 -0.1M78.7 213.5l0.8 -0.7M81.7 185.1l-0.5 0.4M82.4 199.5l0.4 -0.5M104.3 202.3l0.7 -0.4M81 184.9l-0.3 -0.3M92.1 208l-0.9 0.5M78.8 192.9l-0.1 -0.3M111.6 213.8l0.4 -1.2M112.7 210.3l1 0.8M76.1 186.9l0.7 -0.8M83.3 212.3l-1 0.3M96.9 196.5l0.8 0.8M81.8 202.1l-0.4 -0.1M92.1 188.5l0.7 0.1M108 201.6l0.8 0.9M75.5 200.4l0.6 -0.3M82.9 206.4l0.3 1.1M94.2 202.9l0.1 0.4M74.5 209.7l-1.3 0.2M85 197.8l-0.9 -0.9M97.3 188.3l-0.1 0.7M77.7 210.5l-0.3 -0.7M100.9 207.7l-0.7 0M102.1 204.2l-1.1 0.4M83.8 195.9l0.9 0.5M99.2 197.9l-0.4 0.6M75.3 213.9l-0.6 -0.5M77.9 195.5l0.8 -0.1M90.1 203l0.8 0.7M101.3 208.7l0.2 -0.4M107.6 185.9l0.4 -0.5M76.3 206.3l-1 0.5M101.4 198.7l-0.4 0.5M91.1 201.5l-0.1 -0.8M109.6 189.6l0.4 -0.4M85.5 200.1l-0.6 0.2M103.4 189.8l-0.4 -1.2M102.2 203.9l0.1 -1.1M107.3 191l-0.3 1M113 210.8l-0.4 0.1M92.1 193.2l-0.8 -1.1M89.4 198.2l-0.2 0.5M108.7 208.5l-0.9 -0.5M80.6 209.3l-0.4 -0.1M84.3 204.8l0.3 0.9M110 202.1l0.1 -0.4M87.6 199l-0.9 0M85.5 210.7l0.3 0M107 205.7l-0.6 -0.2M98.3 212.7l-0.3 1.1M109.1 199.7l0 -0.5M88.5 192.7l-0.5 -0.4M84.8 189.5l-1.4 0M99.8 183.9l0.6 0.1M91.4 211.8l1 0.9M79.6 212.2l0.2 -0.5M93.3 213.1l0.4 0.5M97.8 183.6l0.1 -0.3M113.7 192.1l-0.6 -0.4M94.3 184.3l1 0.4M79.1 204.8l0.4 0.3M87.5 213.8l0.5 -0.4M106.4 193.9l0.5 0.8M112.7 188.3l0.9 -0.8M103.1 212.8l-0.6 0M96 205.5l-0.6 -0.6M107.7 198.6l-0.9 0.5M107.8 201.3l-0.7 -0.8M88.9 198.7l0.8 0M101.8 197.7l1.2 0.4M85.4 208.8l-0.9 0.4M84.9 202.6l0.2 0.5M89.4 213.8l-0.8 0.6M83.7 191.7l0 1.2M86.1 212.1l0.3 -0.1M96.8 207.1l1.1 0.4M103.9 197.2l1 0.7M91.2 198.1l0.4 -0.4M81.6 193.2l0.2 -0.4M103.6 186.5l-0.3 -0.6M94.2 185.2l0.1 -1.2M78.3 209.6l0.6 -0.1M76.9 201.5l0.4 0.4M109.9 206.2l-0.9 0.9M82.9 185.8l-0.2 -1.1M89.2 201.8l-0.8 0.5M98.2 189.4l0.5 0.1M84.3 198.7l0.3 -0.2M113 208.1l-0.2 -0.8M88.5 189.7l-0.8 -0.9M92.6 206.4l-0.7 0.7M106.3 214.6l1 0.7M80 191.2l-1 0.7M104.7 187l-0.9 0.1M91.4 190l0.6 0.3M112.2 198.2l-1.1 -0.1M101.3 198.9l-1.1 0.7M85.9 190.1l-0.2 -0.6M96.5 183.6l-0.5 -0.9M82.7 194.8l-0.6 0M106.6 192.9l0.7 1M108.4 200.5l-0.3 0.1M109.6 197.5l1 -0.2M86 211.5l-0.2 1.4M75.7 195.8l0.4 0.2M94.5 187.7l0.5 1.2M79.3 205.6l-0.4 -0.4M81.9 200.2l0.7 0.3M107.8 184.1l0.1 -0.4M95.2 199.9l0.2 0.6M85.7 189.4l0.2 0.8M84.7 197.4l0.1 -0.5M108.1 212.5l0.9 0.4M106.9 185.8l0.5 0.3M103.8 193.7l1 0.2M75.8 191.8l0.8 0.3M97.9 185.3l-1 0.7M99.2 192.1l1 0.7M83.4 186.1l0.7 -0.3M94.8 197.9l-1.3 -0.6M85.7 213.4l-0.5 1.2M109.8 198l-0.3 -0.5M75.7 191.9l-0.4 0.5M110.4 202.7l-0.3 -0.8M104 184l-0.8 -0.3M79.3 196.8l0.4 0.3M88.6 213.6l-0.3 -0.3M102.5 201.4l0.4 0.6M98.7 200.3l0.7 -0.1M91 193.1l-0.8 -0.2M99.6 186.7l0.9 1M93.3 205.9l-0.9 -0.8M97.9 200.8l-0.1 -1M99.2 202.1l0 -1.1M111.7 214.2l-0.7 -1M87.7 207.4l-1.2 -0.7M78.3 186.4l0 -0.4M76.8 209.3l-0.3 -0.2M85.6 185.6l0.7 0.8M109.5 208.4l1.2 -0.1M76.1 199l-0.1 -0.9M92.7 209l0.2 -0.7M90.6 199.4l-0.5 -0.1M84.5 202.7l-0.8 0.9M103.7 183.3l0.1 -0.5M107.1 200.8l0.3 -0.8M86.6 205.8l-0.7 -1.2M79.9 188.5l-0.2 -0.8M87.4 185l0.5 0.3M96.7 188.1l-1.1 0.6M108.1 209.2l-0.2 0.5M103.2 203.6l0.8 -1.2M93.8 202.4l0.7 -0.9M80 208.6l0.2 0.3M108.3 196.5l-0.3 1.1M107.2 206.9l0.7 0.8M111.4 199.5l1.2 0.7M105 192.5l1.1 0.2M106.5 201.5l0.5 -0.7M103 189.8l-0.3 -1.3M91.1 190.4l0.6 -1.2M96 199l0.8 0.7M99.1 205.7l1.2 -0.1M91.8 184.6l0.3 -0.7M92.1 186.2l-0.1 -0.5M106.1 213.6l1.1 -0.4M90.2 191.5l-0.3 0.8" stroke="#c87aa0" stroke-width="1" stroke-linecap="round" fill="none"/>
<path d="M107.3 189.7l0.8 -0.3M90.2 202.5l0.3 0.5M91.1 190.2l-0.4 -0.7M89.6 191.7l0.2 1.1M110.3 194l0.2 -0.6M104.6 190.5l-0.7 -0.3M109 207.1l0.3 0.3M92.7 189.7l0.1 1.4M111.8 183.5l1 0.1M112.1 211.2l-0.4 -1.1M93.6 198.5l0.3 -0.4M101.5 205.8l0.7 1M81 213.7l0.1 -0.8M97.6 213.9l-0.4 0.4M101.8 211.6l0.7 1M89.8 204.8l-1.4 0.2M97.3 213.6l0.5 -0.1M111.7 207l0.6 0.8M85.1 184.4l0.7 0.3M109.2 185.2l-1.1 -0.7M88.8 205.8l-1 -0.6M93.5 214.1l-0.5 0.3M79.1 191.1l1 0.9M79.6 209.6l0.1 -0.8M76.3 189.3l0.7 -0.3M105.5 186.9l0.7 0.2M88.3 189.4l-0.6 -0.7M96.6 192.9l-0.5 0.3M96.3 195.3l-0.8 -1.1M87.2 201.7l1 0.7M95.5 201.8l-0.4 -0.2M109.3 183.3l0.3 0.8M111.1 205.1l0.6 -0.4M96.3 202l0 0.4M87.9 185.7l0.5 0M108.6 202.4l0 -1M93.5 211.2l-0.3 0.5M85.8 185.3l0.6 0.1M99.6 189.1l-0.6 0.1M104.3 190.5l-1.1 0.4M103 211.4l0.8 0.1M81.9 211.2l0 1.2M94.9 207.3l0.4 -1.2M109.7 195.8l-0.6 -1.2M106.1 197l0.6 -1M92 197l-1.3 0.5M83.5 213.3l0.4 0.5M103.7 205.4l-0.2 0.6M96.9 207l-0.6 0.6M91.5 209.3l0.8 -0.6M84.4 196.4l-0.9 0.5M86.9 202.3l-0.9 -0.1M112.9 196.1l0 0.3M74.7 204.8l0.8 -0.7M82.6 183.9l-0.4 0.1M77.3 203l0.5 0.7M108.1 198.4l-0.7 0.6M110.9 188.7l-0.1 -0.6M98.8 184l0.5 0.2M102.7 190.4l-0.1 -0.7M108.2 211.4l0 -0.6M76.8 197.4l0 0.4M103.3 209.3l0.8 -1.1M97.2 199.2l0.7 0M104.8 192.1l0.9 -0.4M114.1 210l-0.7 -0.6M80.9 189.3l0.9 0.5M82.8 183.5l-0.9 -0.6M77.7 190.6l0.8 -0.7M105.7 191l1 0.3M97.2 201.5l0.9 0.4M107.9 198.3l-0.5 -0.1M89.4 189.7l1.3 0.6M85.4 186.8l-0.5 -0.3M106.8 189.5l-0.3 0.6M76 208.6l-0.8 -0.6M112.5 186.7l0.2 -0.6M109.6 213.7l-1 0.7M90.1 186.1l-0.9 0.5M94.8 198l0.8 0.6M102.7 202.6l0.2 1.1M105.7 193.3l-0.3 0.8M97.6 213.2l0 -0.3M85.6 201.6l0.9 -0.4M107.8 188.7l0 0.7M78.5 205.7l-0.7 -0.8M102.3 204.8l0.9 0.2M96 190.2l0.1 1.3M77.5 183.5l0.9 -0.9M90.5 195.1l0.4 -0.9M91.7 194.6l-0.6 -0.6M84.7 214.7l-0.7 -0.2M102.5 189l0.1 0.9M75.6 196.2l1 0.6M97.6 209.7l0.3 0.4M97.9 202.1l-0.2 0.4M93.8 214.2l0 -0.4M101 207.1l-0.1 0.4M104.8 183.7l-0.3 -0.1M109 192.4l-1 -0.4M97.8 204.6l0.3 0.3M103.2 184.2l0.6 0.6M104.9 186.2l-0.1 0.3M105.6 188.2l-0.6 0.2M76.8 212.6l0.2 0.3M99.7 184.3l-0.2 0.7M88.2 211.9l0.8 -0.6M96.4 202.9l0.6 -0.4M90.1 205.7l-0.6 0.5M102.4 201.6l0.5 0.5" stroke="#ac5684" stroke-width="0.8" stroke-linecap="round" fill="none"/>
<rect x="73.3" y="181.9" width="41.9" height="33.8" fill="#f4f0f2" opacity="0.14"/>
</g>
<g filter="url(#bl)">
<rect x="117.5" y="181.9" width="41.9" height="33.8" fill="#f3eff4"/>
<path d="M139 189l1 -0.3M142 212.7l1 0.7M127.5 191l-0.5 1M155.9 205.3l-0.2 0.4M130 189.9l-0.9 0M123.2 189.6l0.8 -0.8M122.4 210.4l-0.7 0.2M150.5 204.7l-0.7 0.3M140.2 209.3l-0.1 -0.4M119.8 194.3l-0.3 1.2M142.7 187.4l-0.8 0.5M137.7 191.2l-0.2 -0.6M158 195l-1.2 0M132.6 211.4l-0.9 -0.3M128.1 193.4l-1.2 -0.2M124.8 209.7l0.4 -0.2M144.2 190.5l1.1 0.8M128.5 196.1l-0.3 -1M154.3 213.8l-0.4 0.1M151.8 187.8l-0.4 0.4M151.4 189.6l0.4 -0.9M142.8 206.5l-0.3 0.4M148 202.9l-0.5 0.3M125.1 197.1l-0.3 -0.6M119.2 197.6l0.1 1.1M146.5 198.9l0.9 0.5M137.1 207.1l0.1 -0.5M130.2 200.7l0.4 0.3M147.1 184.7l0 0.5M154.4 205.4l0.1 -1.2M127.5 208.8l-0.5 0.6M121.8 191.9l-0.9 0.8M138.3 191.8l-0.5 -0.4M150.9 193.6l0.2 0.7M141.7 203.4l-0.1 0.9M144.5 190l-0.3 0.7M150.1 187.3l-0.1 1.3M139.4 183.2l-1.4 -0.4M139 207.9l0.2 -0.4M153.6 184.2l0.9 0.6M134.4 207l-0.8 0.4M140.2 205.8l0.9 -1.1M134.4 214.1l1.1 0.3M142.3 184.8l-0.2 1.1M120.1 196.2l-0.3 -0.5M140.3 184.4l0.3 0.3M138.6 195.5l0.2 -1.1M148.3 183.4l-1.4 0.2M139.8 202.5l0.2 -0.5M157.7 194.6l-1.4 -0.1M120.7 206.4l0.8 0.9M131.1 206.9l-1.1 0M154.6 206.4l0.1 -0.6M148.9 203.9l0.4 0.8M137.5 196.9l-0.2 -0.4M153.1 212.5l0.4 0.1M137.7 195.4l-0.7 0.3M129.5 196.8l-0.5 0.5M149.9 201l1.2 -0.3M152.5 192.3l-0.2 -0.8M123.4 190.1l0.8 0.2M142.9 185.6l-0.4 -0.5M123.2 185l-0.4 -0.5M137.9 195.2l-0.4 -1M151.5 205.8l-0.8 0.2M130.9 185.7l0.1 0.9M131.8 212.1l0.5 -0.5M148.6 203l-0.3 0.9M119.5 192.7l-1 -0.3M146.6 211.5l1.1 -0.5M142.4 197.3l-0.5 0.5M123.8 192.7l-0.7 -0.2M126.6 204.6l-0.5 0.8M122.9 202.3l-1.2 0.7M122.8 191.9l0 -0.8M143.3 213.9l-0.4 -0.2M125.8 206.6l1.1 0.4M127.4 187.9l0.8 -0.6M126.6 208.6l-0.1 -1.3M155.2 197.5l0.2 -0.3M142.5 192.6l-1.1 0.8M140.8 196.9l-1.4 -0.4M121.6 192.6l0.8 0.6M150.1 184.3l-0.9 -0.3M156.9 191.3l0.4 -0.7M151.7 212.6l-0.6 0.6M125.1 207.1l0.6 -0.4M145.7 199.6l-1.1 -0.7M127.1 200.3l0 -0.8M154.3 213.3l0.6 0M155.9 208.4l0.3 0.2M119.7 204.8l-0.2 -0.3M145.8 185.7l0.5 -0.3M142.4 199.3l-0.2 -1.1M119.6 206.4l-0.3 0.8M134 183.3l0.6 0.3M123.3 192.2l0 -0.5M136.3 194.7l1.1 0.3M131.1 213l-0.4 1M142.4 208.2l-0.1 -0.4M151.1 208.1l1.3 -0.4M146.3 213.6l0.7 0.6M135.4 183.1l0.8 0.5M131 185.3l0.9 0.2M134.1 205.8l0.9 -0.3M152.3 188.2l0.7 -0.2M149.3 188.4l0.4 0.5M149.5 207.4l0.5 -0.2M144.6 198.7l0.4 -0.7M128.3 183.8l0.2 1M153.8 199.5l-1 -0.5M121.8 189.7l-0.3 -1.1M128.2 196.1l-0.3 -0.4M122.3 204.1l-0.7 1.3M152.8 195.2l-0.2 -0.3M119.2 210.5l-0.3 0.2M157.5 186.6l0.8 0.2M138.4 185.8l0.4 -0.5M132.5 200.1l0.1 -0.3M130.6 212.4l-0.1 -0.6M124.3 196.9l0.3 0.2M129.3 199.4l-0.3 -0.6M153.6 200.2l-0.5 1.2M127.2 194.4l0.2 0.4M125.2 206.6l-0.3 0.5M146 208l-0.4 0.4M135.1 184.2l-1 -0.1M144.3 202.7l0.5 -0.2M157.3 191.7l0.2 -0.3M142.7 196.9l-1 0.3M127.7 212.3l-0.2 -0.3M126.8 196.9l-1.1 0.5M126.7 203.5l0.6 0M138.7 205l0.9 0.1M145 214l-0.1 -0.3M121.8 191.8l-0.5 0.7M127 205.3l-0.8 -0.7M120.7 198.7l-0.1 0.5M122.6 213.1l1.1 -0.4M130.3 199.6l-0.6 0M137.4 212.3l-0.3 -0.3M132.7 187.9l0.5 -0.2M148.7 211.8l-0.7 -0.4M124.8 211.5l0.4 -0.5M133.1 213.6l0.7 0M138.9 196.6l0.6 0.8M136.6 191.4l-0.7 1.1M136.7 204.7l0 0.3M157.2 210l0.3 -0.6M129 188l-0.3 0.2M123.3 207.9l-0.6 0.2M150.5 203.1l-0.2 -1.4M153.7 198.7l1.1 0.4M121.4 195.1l0.2 0.7M135 190.8l0.4 -0.2M151.6 196.9l0.7 -0.5M142.3 213.6l-0.7 -0.8M142.6 194.8l0.9 -0.1M142.2 212.4l0.1 -0.8M148.6 183.1l0.1 -0.4M132.9 196.3l-1.2 -0.2M141.2 201.3l0.1 0.5M137.3 204l1.1 -0.7M132.1 205.1l0.1 -0.6M132.2 211.3l1.2 0M147 194.8l0.6 0.3M119.6 214.2l-0.8 -0.1M157.6 185.6l-0.7 -0.7M149.3 196.4l0.1 -1.2M133.2 206.7l-0.7 0.3M145.1 208.8l-0.7 1.2M125.1 208.8l-0.5 1.1M140.9 212.6l0.1 -1.4M154.9 208.6l-1.4 -0.4M119.2 198.4l0.3 0.3M125.7 192.2l0.3 -0.3M140.8 187.1l-0.5 0.2M141.1 195.7l-0.4 0M150 214.4l-0.1 -0.7M138.6 205l0.9 -0.5M142 185.5l-1.3 0.4M144.9 189.7l0.5 -0.1M118.9 200.5l-0.3 -0.4M137.7 192.5l1.2 0.7M136.4 196.1l-0.6 0.4M143.9 186.8l1 0.5M157.6 209.5l1 -0.7M154.7 209.7l-0.3 1.2M143.3 202.5l0.2 -0.6M128.5 202.1l0.1 -0.7M134.4 198.9l0.6 1.3M118.9 212.9l-0.4 0.2M146 189.1l0.5 0.2M141.1 187.8l-0.6 -0.5M125.6 203.7l-0.9 -0.8M152.3 200.5l0.3 0.5M131.1 213.4l-0.6 -0.8M121 214.5l-0.7 0.3M155.4 212.7l-0.2 -0.7M124 199.7l-0.4 -0.2M156 189.9l0.8 -0.5M145.4 205.4l0 0.5M143.1 194.4l-1.2 -0.4M124.7 210l-0.3 0.2M125.4 192.2l-0.7 0.9M154.6 185.4l-0.3 -0.1M126.1 194.5l0.2 -0.4M124.6 183.8l-1.2 -0.7M148.2 189.1l0.6 -1M144.4 183.2l-1 -0.7M145.3 204l-0.5 0.4M153.4 198.4l0.2 0.8M119.8 190.1l-0.9 0.8M130.7 192.5l0 -1M138.3 193.5l0.6 -0.4M141.3 193.4l-0.9 -0.7M152.4 212.3l-1.3 -0.3M123.7 186.3l-0.4 -1.2M139.4 192.3l-1.1 0.6M154.8 210.2l0.7 -0.6M152.9 200.1l-0.4 -0.3M155.7 193.4l-0.5 0.2M138.7 209.7l-1 0.6M132.4 212.2l0.7 0.1M157.9 191.2l0.1 0.7M146.4 211.6l0.6 -0.5M139 185.4l0.2 -1.3M142.5 197.2l0.3 0.3M138.4 205.7l0.6 -0.8M120.2 187.1l-0.7 -0.5M144.9 191.8l-0.9 0M130.5 204l0.2 1.3M119.1 212.6l-0.7 -0.4M147.2 190l-1 0.1M149.8 197.6l0 0.4M124.2 206.6l-0.3 -0.7M127.8 206.8l-0.2 -0.3M157.5 203.7l-0.4 0.6M133.1 197.3l-0.5 -1.3M133.4 205l-1 0.6M119.4 190.9l-0.4 -0.2M130.2 191.6l-0.7 -0.4M155.3 196l-1.1 0.3M149.9 196.8l-0.2 0.5M130.1 188.7l0.3 -0.2M139.1 188.2l-0.4 -0.4M126.8 212.1l0.3 0.5M144.7 194.4l0.7 0.3M145.3 197.2l0.9 0.8M140.3 213.6l-0.3 0" stroke="#c87aa4" stroke-width="1.1" stroke-linecap="round" fill="none"/>
<path d="M122 201.5l-1.1 0.8M143 199.5l0.6 -0.2M152.4 196.3l-0.6 -1.2M150.7 202.1l0.1 -0.3M135.6 210.2l0 -0.8M127.7 193.9l-0.4 0.2M155.9 203.5l-0.5 -0.1M131.4 196l0.4 0.6M133.1 206.3l0.3 -0.2M124 210.1l0.6 0M141 199.8l0.2 1.1M146.9 183.1l-0.2 -0.7M138.2 201.2l-0.7 -1M125.7 189l0.1 0.5M150 210.2l-0.7 0.8M150.1 210.3l0.1 -1M150.4 193.2l-0.5 -0.4M134.6 195l-0.3 0M135.9 198.7l0.9 -0.6M124.5 195.4l0 -0.4M153 184.4l-0.4 -0.8M156.7 194.7l-0.2 0.5M129.6 193l-0.6 -0.3M125.7 210.5l1.3 0.6M128.8 207.2l-0.1 -1.4M149.2 183.2l0.1 -1.4M149.9 199.4l0.3 0.1M128.3 205.9l0.5 0.8M148.5 200.9l-0.2 -1.2M147.4 183.1l-0.5 -0.8M151.3 191.1l0.2 0.3M136.5 188.1l0.1 -1M133.5 193.7l0.4 0.3M154 188.3l-0.9 -0.2M148.5 188.1l-0.4 0.3M123.1 194.8l-0.7 -0.1M134 200.6l1.2 0.2M119.2 195.7l-0.1 -0.3M124.4 183.6l0.6 0.7M148.2 213.6l-1.3 -0.3M135.1 199.7l0.3 -0.1M154.8 192.5l-1.3 0.5M135.9 212.2l-0.2 -0.4M157.5 183.9l-0.3 -0.6M156.9 190.6l0.2 0.6M146.9 195.6l-1 -0.8M147 209.1l-0.1 0.4M138.9 188.6l0.1 -0.9M142.3 189.7l-1 0.7M143.9 193.4l-0.9 -0.3M152.4 203.2l0.3 0.3M127.3 209.1l-0.2 0.2M144.2 197.1l0.1 0.4M146.7 199.7l0.5 -0.2M133 209.3l-0.1 -0.6M128.5 205.8l-0.3 0.2M137 212.3l-0.8 0M133.5 185.5l0.3 -0.4M135.3 197.7l-0.1 0.4M120.4 210.9l0.9 -0.3" stroke="#b05a8a" stroke-width="0.8" stroke-linecap="round" fill="none"/>
<rect x="117.5" y="181.9" width="41.9" height="33.8" fill="#f4f0f2" opacity="0.14"/>
</g>
<g filter="url(#bl)">
<rect x="161.2" y="181.9" width="41.9" height="33.8" fill="#f5f1f5"/>
<path d="M182.9 191.6l-0.1 -1.2M188 183.7l0 0.7M201.1 203.8l-1 -0.2M166.5 204.6l-0.3 -0.5M176.6 196.1l0.7 -0.2M163.4 208.7l0.5 -0.5M191.1 214l-0.8 0.7M184 200.3l-1.2 -0.3M198.8 212.4l0.9 0.9M166.9 187.9l0.2 0.3M179.8 186.3l-1.2 0.5M178.6 185.5l0 -0.9M169.6 193.7l0 0.9M198.9 188.9l-0.6 0.2M187.4 211l0.1 0.5M175.9 200.3l-1 0.3M171.4 199.6l0.6 0.8M174.3 208.6l-0.4 0M186.9 193.2l-0.4 0.1M188.8 191.6l0.8 0.3M168.9 197.9l0.2 0.5M167.7 188.7l0.3 -0.4M176.7 201.2l0.2 0.5M173.2 210.9l0.7 -0.7M165 189.6l-0.1 -0.6M166.8 193.1l0.5 -0.3M194.8 184.4l-0.7 -0.9M163.4 197.1l1.2 -0.7M185.4 189.4l-0.5 0.4M187.4 189.7l0 -1.1M179.9 194.8l0.3 -0.5M183.9 184.8l0.8 0.2M171.5 191.6l-0.1 0.5M180 192.3l1 -0.7M181 187.5l0.7 -0.2M162.7 205.7l0.5 1.2M177 183.5l0 -0.7M167.7 185.3l-0.4 -0.1M170 192.2l-0.8 0M189.7 210.5l0.5 -0.4M191.9 210.3l-0.9 0.3M189.5 198.5l-1.4 -0.4M177.7 184.4l-0.3 0.4M189.5 197.6l-1.2 -0.3M192.2 189l1.1 -0.9M170 186.7l0.3 1M177.5 212.6l-0.6 0M169.3 200.6l0.7 0.6M173 205.2l-0.8 0M190.4 184.6l-0.7 0.3M197 199l-0.6 0.8M171.3 206.4l0.9 -0.3M198 187l0.6 -1.1M176.3 212.1l-1 -0.5M195.9 189.7l0.1 1.3M181.3 189.2l0.4 -0.6M172.7 203.2l0.4 0.9M183.9 200.1l-0.9 0M174.9 188.9l-0.2 0.5M167.8 197.1l0.9 0.1M201.3 209.9l-1.1 0.3M193.6 214.2l-1.1 -0.9M167.6 200.3l1.1 0.4M187.2 206.6l0 0.5M201.8 208.8l-0.8 -0.1M191.8 194.9l-0.3 0M176.2 207.9l0.5 0.8M179.8 191.3l-0.8 0.4M162.5 206.7l0.2 0.6M185.1 194.8l0.9 -0.1M197.3 208.9l0.3 -0.4M190.8 192.1l-0.3 -1M170.7 198l0 1.3M184.4 186.1l0.2 -0.9M186.4 194.8l-0.5 0.2M186.1 193.5l0.4 0.3M167.3 203.3l-0.4 0.3M175.1 206.1l-0.3 0.3M190.6 197.8l0.3 -0.3M192.8 210.6l-0.4 -0.1M179 190.4l0.4 0.3M170.5 194.8l0.2 1.1M194.8 199.5l-0.7 0.8M169.4 189.5l-0.5 -1.1M184.5 207.5l0.6 -0.2M171.7 192l0.5 0.1M167 190.9l-0.8 0.6M187 194l-0.6 -0.5M197.3 210.3l1 0.8M164.4 189l-0.5 -0.1M190.8 211.3l-0.8 0.7M167.5 187l-0.1 -0.5M175 210l0.8 0M180.3 206.4l0.3 0.3M172.9 209.6l-0.3 -0.6M191.2 194.9l0.6 0M190.7 184.7l0.5 1.1M190 189.8l1.1 0.6M194.3 193l-0.6 -0.2M192.3 208.7l-0.5 0.4M164.5 209.1l1.1 -0.7M187 207.3l-0.2 -0.5M167.8 200.8l0.2 -0.3M175 185.2l-0.4 0.3M179.4 191l-0.4 0.9M197.3 208.8l-0.6 0.3M164.7 201.8l1 -0.7M169.7 198.1l-0.2 0.8M198.7 199.1l-0.3 -0.2M177.8 199.4l-0.3 -0.6M190.8 213.5l0.8 -0.6M169.7 193.4l0.6 1M164.3 211.2l-0.3 0.2M192.3 191.5l-0.7 -0.8M189.9 191.5l-0.1 -0.3M180 185l-1.1 0.4M184.8 196.2l-0.4 0.1M169.1 211.7l-0.3 1.1M175.6 210.7l0.7 0.8M189.4 193.8l-0.6 0.2M193.9 213.8l1.3 0.4M162.6 202.7l-0.7 -0.3M196.4 187.2l0.6 -0.7M189.1 209.5l-0.3 -0.1M162.8 213.1l0.2 -1M192.7 212.2l0.1 0.5M187.5 197.1l0.9 -0.8M198.9 202.4l0.2 0.8M164.5 195.6l0 1M201.9 197.1l1 0.2M163.7 194.1l0.7 0.4M193.5 197.3l0.2 0.4M166.4 188.7l0.3 0.4M179.8 209.1l-0.2 -0.7M166.4 198l-0.5 0.8M166.2 202.2l0.4 -0.2M164.8 197.1l0.5 0.2M176.2 197.1l-1.1 -0.1M183.3 208.2l0.4 0.1M162.7 189.6l-1.3 0.6M175 202.5l0.7 1M201.1 208.4l0.1 0.4M201 189.2l-0.1 0.5M180.4 206.9l-0.1 -1M183.9 204.5l-0.5 0.7M173.8 199.1l0.6 -0.8M193.5 189.4l0.4 0.8M169.9 191.1l-1 -0.9M173.3 209l-0.3 0.8M170.7 195.2l0.5 0.3M173.2 185.9l-1.2 -0.4M180.4 191.4l-0.4 1.2M171.3 189.6l0.4 0.2M188.8 213.7l0.2 -0.3M180.6 196.1l0.1 -0.7M193.7 209.5l0.1 0.3M182.8 193.3l0.6 -0.4M178.9 201.8l0.6 0M172 209.8l-1.1 0.7M169.3 208.9l-0.1 1.1M182.2 206.4l-1.3 0.1M176.4 186.6l-0.4 -0.1M184.7 183.6l-0.5 -0.9M195.4 193.4l-0.3 -0.8M172.9 205.5l-0.3 0.9M190.9 212.5l0.6 1.2M167.2 197.7l0.7 -0.5M164.7 193.6l-1 0.7M190.9 187.9l0.6 0.2M183.7 190.9l0.7 1.2M200.9 200.3l0.2 -0.3M184.2 183.4l0.6 0M184.3 213.4l-1.2 0.3M164.5 204.7l0.4 1M188.7 183.3l0.3 -0.7M175.2 203.1l-0.5 -0.6M197.3 206.9l0.9 -0.2M167.7 211.3l0.5 -0.7M174.1 192.5l-0.8 -0.3M175.1 208.6l-0.5 -1M186.8 200.5l1 0.2M175.8 208.2l-1 0M163.6 194l0 0.6M198.1 186l-1.1 -0.4M196.3 188.8l0.5 -0.5M164.5 196l0.6 -0.9M186.8 185.4l-0.4 -1.2M197 192.3l0.4 0.1M198.4 193.3l-0.3 -0.5M176.8 191.5l1 0.4M193.7 191.8l-0.1 0.3M195.7 190.7l1 0.2M174 190.5l-0.7 -0.1M172 199l-0.3 0.9M200.7 209.5l0.8 0.8M185.9 197.1l-0.9 -0.1M181.6 187.4l-0.5 0M192 185.7l-0.3 0.2M175.6 201.5l-0.2 0.4M182.8 199l0.2 -0.3" stroke="#cc88ae" stroke-width="1" stroke-linecap="round" fill="none"/>
<path d="M174.8 207.4l0.6 0.3M177.8 211.4l-0.6 0.8M166.2 188.4l-0.3 -0.9M190.9 196.9l-0.5 0M171.1 184.5l0.4 0.7M185.8 206.4l-0.8 -1M191.6 183.2l0.7 -0.6M179.6 185.7l0.2 0.3M165.9 207.9l-0.8 0.8M201.5 202.7l0.1 0.5M200.7 198.6l-0.7 1.2M169 210.8l0.8 0.1M175.6 213.8l-0.9 0.3M194.4 202.9l0.6 -1.1M164.9 187.3l-0.6 0.4M194.8 187.4l1.2 -0.1M188.1 191.1l0.2 -1.1M196.6 192.5l0.1 -0.5M180.3 187.3l-0.1 1.4M202.1 187.8l-0.2 -0.3M176.6 196.9l0 0.4M189 211.5l0.2 0.7M191.9 205.7l-0.2 -0.6M200 208.2l0.4 -1M169.1 213l-0.7 -0.5M189.3 207.5l0.3 0.4M176.3 187.2l-0.1 -0.5M186.9 202.6l0 -1.2M183.2 188.8l0.8 -0.6M182.2 210.5l0.4 -0.9M177.8 189.5l0.4 0.1M163.1 204.5l0.7 0.8M173.3 189.2l0.7 -0.2M166.2 203.5l-0.8 -1.1M193.9 195.2l-0.4 -0.3M175.7 197.8l0.1 1.2M193.6 195.1l0.3 -0.7M169.5 190.9l0.8 0.8M174.5 184.9l0.8 0.3M197 190.4l0.5 -1.1M165.4 192.2l1 -0.6M187.6 183.5l0 1.1M167.9 189.5l0.8 0.4M170.1 208.7l1 0.5M199.5 190.8l-0.9 0.8M170.4 199.2l0.4 0.6M182.3 184.2l0.6 -0.5M165.5 186l0 0.4M190.4 189.5l-0.9 -0.1M172.2 203.1l-0.7 0.8" stroke="#b46894" stroke-width="0.8" stroke-linecap="round" fill="none"/>
<rect x="161.2" y="181.9" width="41.9" height="33.8" fill="#f4f0f2" opacity="0.14"/>
</g>
<line x1="263.8" y1="159.5" x2="273.8" y2="159.5" stroke="#7e828c" stroke-width="0.55"/>
<text x="268.8" y="161.2" font-size="5.6" text-anchor="middle" fill="#333" stroke-width="0">*</text>
<line x1="263.8" y1="156.3" x2="284.5" y2="156.3" stroke="#7e828c" stroke-width="0.55"/>
<text x="273" y="155.1" font-size="5.6" text-anchor="middle" fill="#333" font-style="italic">ns</text>
<line x1="263.8" y1="151.3" x2="294.5" y2="151.3" stroke="#7e828c" stroke-width="0.55"/>
<text x="279.5" y="153" font-size="5.6" text-anchor="middle" fill="#333" stroke-width="0">****</text>
<line x1="275" y1="148" x2="294.5" y2="148" stroke="#7e828c" stroke-width="0.55"/>
<text x="285" y="149.7" font-size="5.6" text-anchor="middle" fill="#333" stroke-width="0">****</text>
<rect x="262" y="172.06" width="6.5" height="22.24" fill="#fff" stroke="#111" stroke-width="0.85"/>
<circle cx="264.05" cy="166.93" r="1" fill="#111"/>
<circle cx="266.05" cy="170.66" r="1" fill="#111"/>
<circle cx="264.45" cy="172.53" r="1" fill="#111"/>
<circle cx="266.55" cy="174.4" r="1" fill="#111"/>
<circle cx="265.25" cy="175.33" r="1" fill="#111"/>
<path d="M265.25 168.7V175.42M263.65 168.7H266.85M263.65 175.42H266.85" stroke="#111" stroke-width="0.5" fill="none"/>
<rect x="271.7" y="164.91" width="6.5" height="29.39" fill="#fff" stroke="#111" stroke-width="0.85"/>
<circle cx="273.95" cy="162.89" r="1" fill="#111"/>
<circle cx="275.95" cy="163.82" r="1" fill="#111"/>
<circle cx="274.95" cy="165.07" r="1" fill="#111"/>
<circle cx="273.55" cy="166.31" r="1" fill="#111"/>
<circle cx="276.25" cy="165.69" r="1" fill="#111"/>
<path d="M274.95 163.54V166.28M273.35 163.54H276.55M273.35 166.28H276.55" stroke="#111" stroke-width="0.5" fill="none"/>
<rect x="281.4" y="176.73" width="6.5" height="17.57" fill="#fff" stroke="#111" stroke-width="0.85"/>
<circle cx="283.25" cy="174.09" r="1" fill="#111"/>
<circle cx="284.65" cy="175.33" r="1" fill="#111"/>
<circle cx="285.85" cy="176.26" r="1" fill="#111"/>
<circle cx="284.05" cy="177.51" r="1" fill="#111"/>
<circle cx="285.65" cy="178.13" r="1" fill="#111"/>
<path d="M284.65 175.11V178.35M283.05 175.11H286.25M283.05 178.35H286.25" stroke="#111" stroke-width="0.5" fill="none"/>
<rect x="291.1" y="186.99" width="6.5" height="7.31" fill="#fff" stroke="#111" stroke-width="0.85"/>
<circle cx="293.75" cy="184.04" r="1" fill="#111"/>
<circle cx="295.35" cy="185.9" r="1" fill="#111"/>
<circle cx="293.15" cy="186.84" r="1" fill="#111"/>
<circle cx="294.95" cy="188.08" r="1" fill="#111"/>
<circle cx="295.75" cy="187.15" r="1" fill="#111"/>
<path d="M294.35 185.37V188.61M292.75 185.37H295.95M292.75 188.61H295.95" stroke="#111" stroke-width="0.5" fill="none"/>
<line x1="257.7" y1="147.25" x2="257.7" y2="194.7" stroke="#111" stroke-width="0.8"/>
<line x1="257.3" y1="194.3" x2="300.5" y2="194.3" stroke="#111" stroke-width="0.8"/>
<line x1="255.3" y1="194.3" x2="257.7" y2="194.3" stroke="#111" stroke-width="0.8"/>
<text x="254.8" y="197" font-size="7.6" text-anchor="end">0</text>
<line x1="255.3" y1="178.75" x2="257.7" y2="178.75" stroke="#111" stroke-width="0.8"/>
<text x="254.8" y="181.45" font-size="7.6" text-anchor="end">500</text>
<line x1="255.3" y1="163.2" x2="257.7" y2="163.2" stroke="#111" stroke-width="0.8"/>
<text x="254.8" y="165.9" font-size="7.6" text-anchor="end">1,000</text>
<line x1="255.3" y1="147.65" x2="257.7" y2="147.65" stroke="#111" stroke-width="0.8"/>
<text x="254.8" y="150.35" font-size="7.6" text-anchor="end">1,500</text>
<line x1="265.25" y1="194.3" x2="265.25" y2="196.7" stroke="#111" stroke-width="0.8"/>
<text x="266.75" y="199.3" font-size="7.35" text-anchor="end" transform="rotate(-90 266.75 199.3)">Control</text>
<line x1="274.95" y1="194.3" x2="274.95" y2="196.7" stroke="#111" stroke-width="0.8"/>
<text x="276.45" y="199.3" font-size="7.35" text-anchor="end" transform="rotate(-90 276.45 199.3)">CAFs</text>
<line x1="284.65" y1="194.3" x2="284.65" y2="196.7" stroke="#111" stroke-width="0.8"/>
<text x="286.15" y="199.3" font-size="7.35" text-anchor="end" transform="rotate(-90 286.15 199.3)">OXO</text>
<line x1="294.35" y1="194.3" x2="294.35" y2="196.7" stroke="#111" stroke-width="0.8"/>
<text x="295.85" y="199.3" font-size="7.35" text-anchor="end" transform="rotate(-90 295.85 199.3)">CAFs + OXO</text>
<text x="279.5" y="137.3" font-size="7.4" text-anchor="middle">Migration</text>
<text x="231.6" y="169.3" font-size="7.75" text-anchor="middle" transform="rotate(-90 231.6 169.3)">Number of cells per field</text>
<line x1="350" y1="156.3" x2="360.8" y2="156.3" stroke="#7e828c" stroke-width="0.55"/>
<text x="354" y="158" font-size="5.6" text-anchor="middle" fill="#333" stroke-width="0">**</text>
<line x1="350" y1="152.5" x2="370.8" y2="152.5" stroke="#7e828c" stroke-width="0.55"/>
<text x="359.5" y="151.3" font-size="5.6" text-anchor="middle" fill="#333" font-style="italic">ns</text>
<line x1="350" y1="147.5" x2="381.3" y2="147.5" stroke="#7e828c" stroke-width="0.55"/>
<text x="365.5" y="149.2" font-size="5.6" text-anchor="middle" fill="#333" stroke-width="0">*</text>
<line x1="361.3" y1="143.8" x2="381.3" y2="143.8" stroke="#7e828c" stroke-width="0.55"/>
<text x="372.5" y="145.5" font-size="5.6" text-anchor="middle" fill="#333" stroke-width="0">***</text>
<rect x="347.3" y="168.62" width="6.7" height="25.58" fill="#fff" stroke="#111" stroke-width="0.85"/>
<circle cx="350.15" cy="164.36" r="1" fill="#111"/>
<circle cx="351.85" cy="167.4" r="1" fill="#111"/>
<circle cx="349.45" cy="168.62" r="1" fill="#111"/>
<circle cx="351.25" cy="171.06" r="1" fill="#111"/>
<circle cx="350.65" cy="172.88" r="1" fill="#111"/>
<path d="M350.65 165.21V172.03M349.05 165.21H352.25M349.05 172.03H352.25" stroke="#111" stroke-width="0.5" fill="none"/>
<rect x="357.7" y="160.58" width="6.7" height="33.62" fill="#fff" stroke="#111" stroke-width="0.85"/>
<circle cx="359.85" cy="156.44" r="1" fill="#111"/>
<circle cx="362.25" cy="157.66" r="1" fill="#111"/>
<circle cx="361.05" cy="160.1" r="1" fill="#111"/>
<circle cx="360.25" cy="162.53" r="1" fill="#111"/>
<circle cx="362.05" cy="163.75" r="1" fill="#111"/>
<path d="M361.05 157.66V163.51M359.45 157.66H362.65M359.45 163.51H362.65" stroke="#111" stroke-width="0.5" fill="none"/>
<rect x="367.6" y="172.15" width="6.7" height="22.05" fill="#fff" stroke="#111" stroke-width="0.85"/>
<circle cx="369.75" cy="167.4" r="1" fill="#111"/>
<circle cx="371.95" cy="168.62" r="1" fill="#111"/>
<circle cx="370.45" cy="172.28" r="1" fill="#111"/>
<circle cx="372.25" cy="174.1" r="1" fill="#111"/>
<circle cx="370.95" cy="175.32" r="1" fill="#111"/>
<path d="M370.95 168.99V175.32M369.35 168.99H372.55M369.35 175.32H372.55" stroke="#111" stroke-width="0.5" fill="none"/>
<rect x="377.6" y="174.59" width="6.7" height="19.61" fill="#fff" stroke="#111" stroke-width="0.85"/>
<circle cx="380.95" cy="170.45" r="1" fill="#111"/>
<circle cx="379.75" cy="173.49" r="1" fill="#111"/>
<circle cx="382.15" cy="174.71" r="1" fill="#111"/>
<circle cx="380.55" cy="178.37" r="1" fill="#111"/>
<circle cx="381.75" cy="180.8" r="1" fill="#111"/>
<path d="M380.95 170.45V178.73M379.35 170.45H382.55M379.35 178.73H382.55" stroke="#111" stroke-width="0.5" fill="none"/>
<line x1="343.9" y1="145.08" x2="343.9" y2="194.6" stroke="#111" stroke-width="0.8"/>
<line x1="343.5" y1="194.2" x2="386.3" y2="194.2" stroke="#111" stroke-width="0.8"/>
<line x1="341.5" y1="194.2" x2="343.9" y2="194.2" stroke="#111" stroke-width="0.8"/>
<text x="341" y="196.9" font-size="7.6" text-anchor="end">0</text>
<line x1="341.5" y1="182.02" x2="343.9" y2="182.02" stroke="#111" stroke-width="0.8"/>
<text x="341" y="184.72" font-size="7.6" text-anchor="end">200</text>
<line x1="341.5" y1="169.84" x2="343.9" y2="169.84" stroke="#111" stroke-width="0.8"/>
<text x="341" y="172.54" font-size="7.6" text-anchor="end">400</text>
<line x1="341.5" y1="157.66" x2="343.9" y2="157.66" stroke="#111" stroke-width="0.8"/>
<text x="341" y="160.36" font-size="7.6" text-anchor="end">600</text>
<line x1="341.5" y1="145.48" x2="343.9" y2="145.48" stroke="#111" stroke-width="0.8"/>
<text x="341" y="148.18" font-size="7.6" text-anchor="end">800</text>
<line x1="350.65" y1="194.2" x2="350.65" y2="196.6" stroke="#111" stroke-width="0.8"/>
<text x="353.25" y="199.2" font-size="7.35" text-anchor="end" transform="rotate(-90 353.25 199.2)">Control</text>
<line x1="361.05" y1="194.2" x2="361.05" y2="196.6" stroke="#111" stroke-width="0.8"/>
<text x="363.65" y="199.2" font-size="7.35" text-anchor="end" transform="rotate(-90 363.65 199.2)">CAFs</text>
<line x1="370.95" y1="194.2" x2="370.95" y2="196.6" stroke="#111" stroke-width="0.8"/>
<text x="373.55" y="199.2" font-size="7.35" text-anchor="end" transform="rotate(-90 373.55 199.2)">OXO</text>
<line x1="380.95" y1="194.2" x2="380.95" y2="196.6" stroke="#111" stroke-width="0.8"/>
<text x="383.55" y="199.2" font-size="7.35" text-anchor="end" transform="rotate(-90 383.55 199.2)">CAFs + OXO</text>
<text x="365" y="137.3" font-size="7.4" text-anchor="middle">Invasion</text>
<text x="318.6" y="169.3" font-size="7.75" text-anchor="middle" transform="rotate(-90 318.6 169.3)">Number of cells per field</text>
<path d="M438.1 169.75V165.6M436.4 165.6H439.8" stroke="#1040ff" stroke-width="0.6" fill="none"/>
<rect x="434.3" y="169.75" width="7.6" height="41.45" fill="#1040ff"/>
<path d="M449.9 149.02V144.88M448.2 144.88H451.6" stroke="#ff2a12" stroke-width="0.6" fill="none"/>
<rect x="446.1" y="149.02" width="7.6" height="62.18" fill="#ff2a12"/>
<path d="M468.8 169.75V164.36M467.1 164.36H470.5" stroke="#1040ff" stroke-width="0.6" fill="none"/>
<rect x="465" y="169.75" width="7.6" height="41.45" fill="#1040ff"/>
<path d="M480.7 185.71V181.56M479 181.56H482.4" stroke="#ff2a12" stroke-width="0.6" fill="none"/>
<rect x="476.9" y="185.71" width="7.6" height="25.49" fill="#ff2a12"/>
<path d="M499.7 169.75V161.05M498 161.05H501.4" stroke="#1040ff" stroke-width="0.6" fill="none"/>
<rect x="495.9" y="169.75" width="7.6" height="41.45" fill="#1040ff"/>
<path d="M511.1 192.55V189.23M509.4 189.23H512.8" stroke="#ff2a12" stroke-width="0.6" fill="none"/>
<rect x="507.3" y="192.55" width="7.6" height="18.65" fill="#ff2a12"/>
<line x1="431" y1="127.9" x2="431" y2="211.6" stroke="#111" stroke-width="0.8"/>
<line x1="427.7" y1="211.2" x2="431" y2="211.2" stroke="#111" stroke-width="0.8"/>
<text x="425" y="213.9" font-size="7.6" text-anchor="end">0.0</text>
<line x1="427.7" y1="190.47" x2="431" y2="190.47" stroke="#111" stroke-width="0.8"/>
<text x="425" y="193.17" font-size="7.6" text-anchor="end">0.5</text>
<line x1="427.7" y1="169.75" x2="431" y2="169.75" stroke="#111" stroke-width="0.8"/>
<text x="425" y="172.45" font-size="7.6" text-anchor="end">1.0</text>
<line x1="427.7" y1="149.02" x2="431" y2="149.02" stroke="#111" stroke-width="0.8"/>
<text x="425" y="151.72" font-size="7.6" text-anchor="end">1.5</text>
<line x1="427.7" y1="128.3" x2="431" y2="128.3" stroke="#111" stroke-width="0.8"/>
<text x="425" y="131" font-size="7.6" text-anchor="end">2.0</text>
<line x1="430.6" y1="211.2" x2="519" y2="211.2" stroke="#111" stroke-width="0.8"/>
<line x1="444.1" y1="211.2" x2="444.1" y2="213.8" stroke="#111" stroke-width="0.8"/>
<text x="445.7" y="216.5" font-size="7.5" text-anchor="end" transform="rotate(-90 445.7 216.5)">E-cadherin</text>
<line x1="474.8" y1="211.2" x2="474.8" y2="213.8" stroke="#111" stroke-width="0.8"/>
<text x="476.4" y="216.5" font-size="7.5" text-anchor="end" transform="rotate(-90 476.4 216.5)">N-cadherin</text>
<line x1="505.4" y1="211.2" x2="505.4" y2="213.8" stroke="#111" stroke-width="0.8"/>
<text x="507" y="216.5" font-size="7.5" text-anchor="end" transform="rotate(-90 507 216.5)">Vimentin</text>
<text x="448.8" y="135.5" font-size="8" text-anchor="middle">**</text>
<text x="480.5" y="175.6" font-size="8" text-anchor="middle">*</text>
<text x="511" y="175.6" font-size="8" text-anchor="middle">*</text>
<rect x="479.7" y="124" width="9.8" height="3.4" fill="#1040ff"/>
<text x="492.2" y="128.2" font-size="6.35">Control</text>
<rect x="479.7" y="131.6" width="9.8" height="3.4" fill="#ff2a12"/>
<text x="492.2" y="135.8" font-size="6.35">OXO</text>
<text x="399.5" y="169" font-size="7.7" text-anchor="middle" transform="rotate(-90 399.5 169)">Relative mRNA expression</text>
<text x="407.6" y="169" font-size="7.7" text-anchor="middle" transform="rotate(-90 407.6 169)">normalized to PDAC cells</text>
<rect x="14.8" y="268.2" width="33.8" height="23.4" fill="#f4f5fa"/>
<path d="M14.8 281.4H48.6V290Q48.6 291.6 47 291.6H16.4Q14.8 291.6 14.8 290Z" fill="#f9d2d8"/>
<path d="M18.6 268.2H44.8V284.5Q44.8 286.5 42.8 286.5H20.6Q18.6 286.5 18.6 284.5Z" fill="#e9ecf6"/>
<path d="M14.8 268.2V289.8Q14.8 291.6 16.6 291.6H46.8Q48.6 291.6 48.6 289.8V268.2" fill="none" stroke="#b2bbe0" stroke-width="1.25"/>
<path d="M13.8 268.3H18.6V284.5Q18.6 286.5 20.6 286.5H42.8Q44.8 286.5 44.8 284.5V268.3H49.6" fill="none" stroke="#a6c6be" stroke-width="1.1" stroke-linejoin="round"/>
<ellipse cx="32.3" cy="289.1" rx="4.4" ry="1.9" fill="#eef4e4" stroke="#8cc070" stroke-width="0.5"/>
<circle cx="29.9" cy="289.3" r="0.55" fill="#5aa848"/>
<circle cx="31.7" cy="288.6" r="0.55" fill="#5aa848"/>
<circle cx="33.5" cy="289.4" r="0.55" fill="#5aa848"/>
<circle cx="35.1" cy="288.9" r="0.55" fill="#5aa848"/>
<circle cx="32.7" cy="289.9" r="0.55" fill="#5aa848"/>
<rect x="53.9" y="268.2" width="32.4" height="23.4" fill="#f4f5fa"/>
<path d="M53.9 281.4H86.3V290Q86.3 291.6 84.7 291.6H55.5Q53.9 291.6 53.9 290Z" fill="#f9d2d8"/>
<path d="M57.7 268.2H82.5V284.5Q82.5 286.5 80.5 286.5H59.7Q57.7 286.5 57.7 284.5Z" fill="#e9ecf6"/>
<path d="M53.9 268.2V289.8Q53.9 291.6 55.7 291.6H84.5Q86.3 291.6 86.3 289.8V268.2" fill="none" stroke="#b2bbe0" stroke-width="1.25"/>
<path d="M52.9 268.3H57.7V284.5Q57.7 286.5 59.7 286.5H80.5Q82.5 286.5 82.5 284.5V268.3H87.3" fill="none" stroke="#a6c6be" stroke-width="1.1" stroke-linejoin="round"/>
<line x1="57.5" y1="290.2" x2="59.2" y2="290.2" stroke="#62b04c" stroke-width="1.3"/>
<line x1="59.8" y1="290.2" x2="61.5" y2="290.2" stroke="#62b04c" stroke-width="1.3"/>
<line x1="62.1" y1="290.2" x2="63.8" y2="290.2" stroke="#62b04c" stroke-width="1.3"/>
<line x1="64.4" y1="290.2" x2="66.1" y2="290.2" stroke="#62b04c" stroke-width="1.3"/>
<line x1="66.7" y1="290.2" x2="68.4" y2="290.2" stroke="#62b04c" stroke-width="1.3"/>
<line x1="69" y1="290.2" x2="70.7" y2="290.2" stroke="#62b04c" stroke-width="1.3"/>
<line x1="71.3" y1="290.2" x2="73" y2="290.2" stroke="#62b04c" stroke-width="1.3"/>
<line x1="73.6" y1="290.2" x2="75.3" y2="290.2" stroke="#62b04c" stroke-width="1.3"/>
<line x1="75.9" y1="290.2" x2="77.6" y2="290.2" stroke="#62b04c" stroke-width="1.3"/>
<line x1="78.2" y1="290.2" x2="79.9" y2="290.2" stroke="#62b04c" stroke-width="1.3"/>
<line x1="80.5" y1="290.2" x2="82.2" y2="290.2" stroke="#62b04c" stroke-width="1.3"/>
<rect x="14.8" y="311.4" width="33.8" height="22.9" fill="#f4f5fa"/>
<path d="M14.8 324.1H48.6V332.7Q48.6 334.3 47 334.3H16.4Q14.8 334.3 14.8 332.7Z" fill="#f9d2d8"/>
<path d="M18.6 311.4H44.8V326.6Q44.8 328.6 42.8 328.6H20.6Q18.6 328.6 18.6 326.6Z" fill="#e9ecf6"/>
<path d="M14.8 311.4V332.5Q14.8 334.3 16.6 334.3H46.8Q48.6 334.3 48.6 332.5V311.4" fill="none" stroke="#b2bbe0" stroke-width="1.25"/>
<path d="M13.8 311.5H18.6V326.6Q18.6 328.6 20.6 328.6H42.8Q44.8 328.6 44.8 326.6V311.5H49.6" fill="none" stroke="#a6c6be" stroke-width="1.1" stroke-linejoin="round"/>
<ellipse cx="32.3" cy="331.8" rx="4.4" ry="1.9" fill="#eef4e4" stroke="#8cc070" stroke-width="0.5"/>
<circle cx="29.9" cy="332" r="0.55" fill="#5aa848"/>
<circle cx="31.7" cy="331.3" r="0.55" fill="#5aa848"/>
<circle cx="33.5" cy="332.1" r="0.55" fill="#5aa848"/>
<circle cx="35.1" cy="331.6" r="0.55" fill="#5aa848"/>
<circle cx="32.7" cy="332.6" r="0.55" fill="#5aa848"/>
<path d="M26.7 328Q26.7 323 31.7 323Q36.7 323 36.7 328Z" fill="#edc0d4" stroke="#e0a0bc" stroke-width="0.4"/>
<circle cx="29.1" cy="326.8" r="0.7" fill="#f8e0ea" opacity="0.9"/>
<circle cx="31.1" cy="325.2" r="0.7" fill="#f8e0ea" opacity="0.9"/>
<circle cx="33.1" cy="326.8" r="0.7" fill="#f8e0ea" opacity="0.9"/>
<circle cx="34.6" cy="326" r="0.7" fill="#f8e0ea" opacity="0.9"/>
<circle cx="30.1" cy="325.6" r="0.7" fill="#f8e0ea" opacity="0.9"/>
<circle cx="32.3" cy="327.2" r="0.7" fill="#f8e0ea" opacity="0.9"/>
<rect x="53.9" y="311.4" width="32.4" height="22.9" fill="#f4f5fa"/>
<path d="M53.9 324.1H86.3V332.7Q86.3 334.3 84.7 334.3H55.5Q53.9 334.3 53.9 332.7Z" fill="#f9d2d8"/>
<path d="M57.7 311.4H82.5V326.6Q82.5 328.6 80.5 328.6H59.7Q57.7 328.6 57.7 326.6Z" fill="#e9ecf6"/>
<path d="M53.9 311.4V332.5Q53.9 334.3 55.7 334.3H84.5Q86.3 334.3 86.3 332.5V311.4" fill="none" stroke="#b2bbe0" stroke-width="1.25"/>
<path d="M52.9 311.5H57.7V326.6Q57.7 328.6 59.7 328.6H80.5Q82.5 328.6 82.5 326.6V311.5H87.3" fill="none" stroke="#a6c6be" stroke-width="1.1" stroke-linejoin="round"/>
<line x1="57.5" y1="332.9" x2="59.2" y2="332.9" stroke="#62b04c" stroke-width="1.3"/>
<line x1="59.8" y1="332.9" x2="61.5" y2="332.9" stroke="#62b04c" stroke-width="1.3"/>
<line x1="62.1" y1="332.9" x2="63.8" y2="332.9" stroke="#62b04c" stroke-width="1.3"/>
<line x1="64.4" y1="332.9" x2="66.1" y2="332.9" stroke="#62b04c" stroke-width="1.3"/>
<line x1="66.7" y1="332.9" x2="68.4" y2="332.9" stroke="#62b04c" stroke-width="1.3"/>
<line x1="69" y1="332.9" x2="70.7" y2="332.9" stroke="#62b04c" stroke-width="1.3"/>
<line x1="71.3" y1="332.9" x2="73" y2="332.9" stroke="#62b04c" stroke-width="1.3"/>
<line x1="73.6" y1="332.9" x2="75.3" y2="332.9" stroke="#62b04c" stroke-width="1.3"/>
<line x1="75.9" y1="332.9" x2="77.6" y2="332.9" stroke="#62b04c" stroke-width="1.3"/>
<line x1="78.2" y1="332.9" x2="79.9" y2="332.9" stroke="#62b04c" stroke-width="1.3"/>
<line x1="80.5" y1="332.9" x2="82.2" y2="332.9" stroke="#62b04c" stroke-width="1.3"/>
<path d="M65.1 328Q65.1 323 70.1 323Q75.1 323 75.1 328Z" fill="#edc0d4" stroke="#e0a0bc" stroke-width="0.4"/>
<circle cx="67.5" cy="326.8" r="0.7" fill="#f8e0ea" opacity="0.9"/>
<circle cx="69.5" cy="325.2" r="0.7" fill="#f8e0ea" opacity="0.9"/>
<circle cx="71.5" cy="326.8" r="0.7" fill="#f8e0ea" opacity="0.9"/>
<circle cx="73" cy="326" r="0.7" fill="#f8e0ea" opacity="0.9"/>
<circle cx="68.5" cy="325.6" r="0.7" fill="#f8e0ea" opacity="0.9"/>
<circle cx="70.7" cy="327.2" r="0.7" fill="#f8e0ea" opacity="0.9"/>
<text x="19" y="305.2" font-size="7.4">qCAFs</text>
<text x="58" y="305.2" font-size="7.4">myCAFs</text>
<text x="24.7" y="346.7" font-size="7.6">iCAFs</text>
<line x1="17" y1="349.7" x2="89" y2="349.7" stroke="#484848" stroke-width="1"/>
<text x="13" y="359.8" font-size="7.62">Coculture with organoids</text>
<defs><radialGradient id="g1" cx="0.6" cy="0.53" r="0.7"><stop offset="0" stop-color="#505050"/><stop offset="0.45" stop-color="#5a5a5a"/><stop offset="0.7" stop-color="#787878"/><stop offset="0.88" stop-color="#8c8c8c"/><stop offset="1" stop-color="#909090"/></radialGradient><radialGradient id="g2" cx="0.57" cy="0.55" r="0.72"><stop offset="0" stop-color="#7a7a7a"/><stop offset="0.45" stop-color="#848484"/><stop offset="0.8" stop-color="#9c9c9c"/><stop offset="1" stop-color="#a8a8a8"/></radialGradient><filter id="gn" x="0" y="0" width="1" height="1" color-interpolation-filters="sRGB"><feTurbulence type="fractalNoise" baseFrequency="0.43" numOctaves="2" seed="4" result="n"/><feColorMatrix in="n" type="matrix" values="1 0 0 0 0  1 0 0 0 0  1 0 0 0 0  0 0 0 0 1" result="g"/><feComposite in="SourceGraphic" in2="g" operator="arithmetic" k1="0" k2="1" k3="0.24" k4="-0.12"/></filter><filter id="bl2" x="-2%" y="-2%" width="104%" height="104%"><feGaussianBlur stdDeviation="0.35"/></filter></defs>
<rect x="115.3" y="271.1" width="62.5" height="58.3" fill="url(#g1)" filter="url(#gn)"/>
<rect x="115.6" y="271.4" width="61.9" height="57.7" fill="none" stroke="#4c4c4c" stroke-width="0.6"/>
<rect x="116.6" y="272.4" width="21.2" height="22" fill="#9c9c9c" filter="url(#gn)"/>
<rect x="116" y="271.8" width="22.4" height="23.2" fill="none" stroke="#0a0a0a" stroke-width="1.4"/>
<g filter="url(#bl2)">
<circle cx="127.3" cy="283.6" r="0.9" fill="#2a2a2a"/>
</g>
<rect x="194.2" y="271.1" width="62.4" height="58.5" fill="url(#g2)" filter="url(#gn)"/>
<rect x="194.5" y="271.4" width="61.8" height="57.9" fill="none" stroke="#4c4c4c" stroke-width="0.6"/>
<rect x="195.5" y="272.4" width="20.7" height="22.8" fill="#ababab" filter="url(#gn)"/>
<rect x="194.9" y="271.8" width="21.9" height="24" fill="none" stroke="#0a0a0a" stroke-width="1.4"/>
<g filter="url(#bl2)">
<circle cx="204.7" cy="282.1" r="1" fill="#2a2a2a"/>
<circle cx="209.2" cy="276.1" r="0.6" fill="#2a2a2a"/>
<circle cx="207.7" cy="288.1" r="0.6" fill="#2a2a2a"/>
<circle cx="210.2" cy="284.1" r="0.5" fill="#2a2a2a"/>
<circle cx="200.2" cy="284.1" r="0.4" fill="#2a2a2a"/>
</g>
<text x="145.5" y="339.5" font-size="7.55" text-anchor="middle">CAFs–control</text>
<text x="145.6" y="348.9" font-size="7.55" text-anchor="middle">media</text>
<text x="225" y="339.5" font-size="7.55" text-anchor="middle">CAFs–organoid</text>
<text x="225" y="348.9" font-size="7.55" text-anchor="middle">cocultured</text>
<rect x="316.55" y="274.6" width="34.15" height="71.1" fill="#fde4b4"/>
<rect x="350.7" y="274.6" width="36.6" height="71.1" fill="#ebebeb"/>
<path d="M323.3 332.73V329.63M321.5 329.63H325.1" stroke="#333" stroke-width="0.6" fill="none"/>
<rect x="319.2" y="332.73" width="8.2" height="12.97" fill="#1040ff"/>
<path d="M334.6 321.87V318.63M332.8 318.63H336.4" stroke="#333" stroke-width="0.6" fill="none"/>
<rect x="330.5" y="321.87" width="8.2" height="23.83" fill="#1040ff"/>
<path d="M346 287.89V285.07M344.2 285.07H347.8" stroke="#333" stroke-width="0.6" fill="none"/>
<rect x="341.9" y="287.89" width="8.2" height="57.81" fill="#1040ff"/>
<path d="M357.9 340.91V340.06M356.1 340.06H359.7" stroke="#333" stroke-width="0.6" fill="none"/>
<rect x="353.8" y="340.91" width="8.2" height="4.79" fill="#ff2a12"/>
<path d="M369.2 333.71V333.29M367.4 333.29H371" stroke="#333" stroke-width="0.6" fill="none"/>
<rect x="365.1" y="333.71" width="8.2" height="11.99" fill="#ff2a12"/>
<path d="M380.2 316.8V315.1M378.4 315.1H382" stroke="#333" stroke-width="0.6" fill="none"/>
<rect x="376.1" y="316.8" width="8.2" height="28.9" fill="#ff2a12"/>
<line x1="316.7" y1="274.8" x2="316.7" y2="346.1" stroke="#555" stroke-width="0.5"/>
<line x1="312.9" y1="345.7" x2="316.7" y2="345.7" stroke="#111" stroke-width="0.8"/>
<text x="310.6" y="348.4" font-size="7.6" text-anchor="end">0</text>
<line x1="312.9" y1="331.6" x2="316.7" y2="331.6" stroke="#111" stroke-width="0.8"/>
<text x="310.6" y="334.3" font-size="7.6" text-anchor="end">1</text>
<line x1="312.9" y1="317.5" x2="316.7" y2="317.5" stroke="#111" stroke-width="0.8"/>
<text x="310.6" y="320.2" font-size="7.6" text-anchor="end">2</text>
<line x1="312.9" y1="303.4" x2="316.7" y2="303.4" stroke="#111" stroke-width="0.8"/>
<text x="310.6" y="306.1" font-size="7.6" text-anchor="end">3</text>
<line x1="312.9" y1="289.3" x2="316.7" y2="289.3" stroke="#111" stroke-width="0.8"/>
<text x="310.6" y="292" font-size="7.6" text-anchor="end">4</text>
<line x1="312.9" y1="275.2" x2="316.7" y2="275.2" stroke="#111" stroke-width="0.8"/>
<text x="310.6" y="277.9" font-size="7.6" text-anchor="end">5</text>
<line x1="316.3" y1="345.7" x2="387.3" y2="345.7" stroke="#111" stroke-width="0.8"/>
<line x1="323.3" y1="345.7" x2="323.3" y2="348.5" stroke="#111" stroke-width="0.8"/>
<text x="326" y="351" font-size="7.7" text-anchor="end" transform="rotate(-90 326 351)">Control</text>
<line x1="334.6" y1="345.7" x2="334.6" y2="348.5" stroke="#111" stroke-width="0.8"/>
<text x="337.3" y="351" font-size="7.7" text-anchor="end" transform="rotate(-90 337.3 351)">Coculture</text>
<line x1="346" y1="345.7" x2="346" y2="348.5" stroke="#111" stroke-width="0.8"/>
<text x="348.7" y="351" font-size="7.7" text-anchor="end" transform="rotate(-90 348.7 351)">OXO</text>
<line x1="357.9" y1="345.7" x2="357.9" y2="348.5" stroke="#111" stroke-width="0.8"/>
<text x="360.6" y="351" font-size="7.7" text-anchor="end" transform="rotate(-90 360.6 351)">Control</text>
<line x1="369.2" y1="345.7" x2="369.2" y2="348.5" stroke="#111" stroke-width="0.8"/>
<text x="371.9" y="351" font-size="7.7" text-anchor="end" transform="rotate(-90 371.9 351)">Coculture</text>
<line x1="380.2" y1="345.7" x2="380.2" y2="348.5" stroke="#111" stroke-width="0.8"/>
<text x="382.9" y="351" font-size="7.7" text-anchor="end" transform="rotate(-90 382.9 351)">OXO</text>
<text x="317.9" y="281.6" font-size="6.4">2D</text>
<rect x="319.4" y="282.8" width="5.3" height="5.2" fill="#1040ff"/>
<text x="353.1" y="281.6" font-size="6.4">3D</text>
<rect x="354.4" y="282.8" width="5.3" height="5.2" fill="#ff2a12"/>
<path d="M321.6 323.2V313.6H333.6V316.1" stroke="#555" stroke-width="0.6" fill="none"/>
<text x="327.5" y="314.4" font-size="7" text-anchor="middle" fill="#222">*</text>
<path d="M333.6 310.6V279.8H345.7V282.3" stroke="#555" stroke-width="0.6" fill="none"/>
<text x="339.4" y="280.6" font-size="7" text-anchor="middle" fill="#222">***</text>
<path d="M355.3 330V323.2H368.4V326" stroke="#555" stroke-width="0.6" fill="none"/>
<text x="361" y="324" font-size="7" text-anchor="middle" fill="#222">****</text>
<path d="M367.1 318V307.6H380.5V310.5" stroke="#555" stroke-width="0.6" fill="none"/>
<text x="374" y="308.4" font-size="7" text-anchor="middle" fill="#222">****</text>
<text x="291.2" y="310.6" font-size="7.7" text-anchor="middle" transform="rotate(-90 291.2 310.6)">ACTA2</text>
<text x="299.9" y="310.6" font-size="7.7" text-anchor="middle" transform="rotate(-90 299.9 310.6)">relative mRNA expression</text>
<rect x="435.25" y="276.6" width="35.55" height="70.6" fill="#fde4b4"/>
<rect x="470.8" y="276.6" width="34.8" height="70.6" fill="#ebebeb"/>
<path d="M442.75 344.15V343.45M440.95 343.45H444.55" stroke="#333" stroke-width="0.6" fill="none"/>
<rect x="438.7" y="344.15" width="8.1" height="3.05" fill="#1040ff"/>
<path d="M454.05 340.12V339.57M452.25 339.57H455.85" stroke="#333" stroke-width="0.6" fill="none"/>
<rect x="450" y="340.12" width="8.1" height="7.08" fill="#1040ff"/>
<path d="M465.45 344.15V343.31M463.65 343.31H467.25" stroke="#333" stroke-width="0.6" fill="none"/>
<rect x="461.4" y="344.15" width="8.1" height="3.05" fill="#1040ff"/>
<path d="M476.85 343.45V340.4M475.05 340.4H478.65" stroke="#333" stroke-width="0.6" fill="none"/>
<rect x="472.8" y="343.45" width="8.1" height="3.75" fill="#ff2a12"/>
<path d="M488.25 301.4V300.01M486.45 300.01H490.05" stroke="#333" stroke-width="0.6" fill="none"/>
<rect x="484.2" y="301.4" width="8.1" height="45.8" fill="#ff2a12"/>
<path d="M499.55 334.99V333.6M497.75 333.6H501.35" stroke="#333" stroke-width="0.6" fill="none"/>
<rect x="495.5" y="334.99" width="8.1" height="12.21" fill="#ff2a12"/>
<line x1="435.4" y1="277.4" x2="435.4" y2="347.6" stroke="#555" stroke-width="0.5"/>
<line x1="431.6" y1="347.2" x2="435.4" y2="347.2" stroke="#111" stroke-width="0.8"/>
<text x="430.2" y="349.9" font-size="7.6" text-anchor="end">0</text>
<line x1="431.6" y1="333.32" x2="435.4" y2="333.32" stroke="#111" stroke-width="0.8"/>
<text x="430.2" y="336.02" font-size="7.6" text-anchor="end">5</text>
<line x1="431.6" y1="319.44" x2="435.4" y2="319.44" stroke="#111" stroke-width="0.8"/>
<text x="430.2" y="322.14" font-size="7.6" text-anchor="end">10</text>
<line x1="431.6" y1="305.56" x2="435.4" y2="305.56" stroke="#111" stroke-width="0.8"/>
<text x="430.2" y="308.26" font-size="7.6" text-anchor="end">15</text>
<line x1="431.6" y1="291.68" x2="435.4" y2="291.68" stroke="#111" stroke-width="0.8"/>
<text x="430.2" y="294.38" font-size="7.6" text-anchor="end">20</text>
<line x1="431.6" y1="277.8" x2="435.4" y2="277.8" stroke="#111" stroke-width="0.8"/>
<text x="430.2" y="280.5" font-size="7.6" text-anchor="end">25</text>
<line x1="435" y1="347.2" x2="505.6" y2="347.2" stroke="#111" stroke-width="0.8"/>
<line x1="442.75" y1="347.2" x2="442.75" y2="350" stroke="#111" stroke-width="0.8"/>
<text x="445.45" y="352.5" font-size="7.7" text-anchor="end" transform="rotate(-90 445.45 352.5)">Control</text>
<line x1="454.05" y1="347.2" x2="454.05" y2="350" stroke="#111" stroke-width="0.8"/>
<text x="456.75" y="352.5" font-size="7.7" text-anchor="end" transform="rotate(-90 456.75 352.5)">Coculture</text>
<line x1="465.45" y1="347.2" x2="465.45" y2="350" stroke="#111" stroke-width="0.8"/>
<text x="468.15" y="352.5" font-size="7.7" text-anchor="end" transform="rotate(-90 468.15 352.5)">OXO</text>
<line x1="476.85" y1="347.2" x2="476.85" y2="350" stroke="#111" stroke-width="0.8"/>
<text x="479.55" y="352.5" font-size="7.7" text-anchor="end" transform="rotate(-90 479.55 352.5)">Control</text>
<line x1="488.25" y1="347.2" x2="488.25" y2="350" stroke="#111" stroke-width="0.8"/>
<text x="490.95" y="352.5" font-size="7.7" text-anchor="end" transform="rotate(-90 490.95 352.5)">Coculture</text>
<line x1="499.55" y1="347.2" x2="499.55" y2="350" stroke="#111" stroke-width="0.8"/>
<text x="502.25" y="352.5" font-size="7.7" text-anchor="end" transform="rotate(-90 502.25 352.5)">OXO</text>
<text x="438.6" y="283" font-size="6.4">2D</text>
<rect x="438.9" y="283.6" width="5.3" height="5.2" fill="#1040ff"/>
<text x="470.8" y="283" font-size="6.4">3D</text>
<rect x="472.1" y="283.6" width="5.3" height="5.2" fill="#ff2a12"/>
<path d="M443 335.8V326.2H453.1V335.8" stroke="#555" stroke-width="0.6" fill="none"/>
<text x="448.6" y="327" font-size="7" text-anchor="middle" fill="#222">***</text>
<path d="M456.1 335.8V326.2H465.2V335.8" stroke="#555" stroke-width="0.6" fill="none"/>
<text x="461" y="327" font-size="7" text-anchor="middle" fill="#222">**</text>
<path d="M476.6 338.3V290.8H488.4V298" stroke="#555" stroke-width="0.6" fill="none"/>
<text x="482.3" y="291.6" font-size="7" text-anchor="middle" fill="#222">****</text>
<path d="M488.4 290.8V290.8H500.3V327" stroke="#555" stroke-width="0.6" fill="none"/>
<text x="494.8" y="291.6" font-size="7" text-anchor="middle" fill="#222">****</text>
<text x="406.2" y="311.3" font-size="7.7" text-anchor="middle" transform="rotate(-90 406.2 311.3)">IL6</text>
<text x="414.8" y="311.3" font-size="7.7" text-anchor="middle" transform="rotate(-90 414.8 311.3)">relative mRNA expression</text>
<path d="M37.9 473.5V472.79M36.9 472.79H38.9" stroke="#6a8aff" stroke-width="0.6" fill="none"/>
<rect x="36" y="473.5" width="3.8" height="14.2" fill="#1040ff"/>
<path d="M42.8 481.31V480.74M41.8 480.74H43.8" stroke="#ff7a6a" stroke-width="0.6" fill="none"/>
<rect x="40.9" y="481.31" width="3.8" height="6.39" fill="#ff2a12"/>
<path d="M52.3 473.5V471.37M51.3 471.37H53.3" stroke="#6a8aff" stroke-width="0.6" fill="none"/>
<rect x="50.4" y="473.5" width="3.8" height="14.2" fill="#1040ff"/>
<path d="M57.2 473.5V472.08M56.2 472.08H58.2" stroke="#ff7a6a" stroke-width="0.6" fill="none"/>
<rect x="55.3" y="473.5" width="3.8" height="14.2" fill="#ff2a12"/>
<path d="M66.4 473.5V472.79M65.4 472.79H67.4" stroke="#6a8aff" stroke-width="0.6" fill="none"/>
<rect x="64.5" y="473.5" width="3.8" height="14.2" fill="#1040ff"/>
<path d="M71.3 436.58V425.22M70.3 425.22H72.3" stroke="#ff7a6a" stroke-width="0.6" fill="none"/>
<rect x="69.4" y="436.58" width="3.8" height="51.12" fill="#ff2a12"/>
<path d="M80.4 472.79V471.37M79.4 471.37H81.4" stroke="#6a8aff" stroke-width="0.6" fill="none"/>
<rect x="78.5" y="472.79" width="3.8" height="14.91" fill="#1040ff"/>
<path d="M85.3 485.14V484.72M84.3 484.72H86.3" stroke="#ff7a6a" stroke-width="0.6" fill="none"/>
<rect x="83.4" y="485.14" width="3.8" height="2.56" fill="#ff2a12"/>
<path d="M94.8 473.07V472.51M93.8 472.51H95.8" stroke="#6a8aff" stroke-width="0.6" fill="none"/>
<rect x="92.9" y="473.07" width="3.8" height="14.63" fill="#1040ff"/>
<path d="M99.7 481.31V480.74M98.7 480.74H100.7" stroke="#ff7a6a" stroke-width="0.6" fill="none"/>
<rect x="97.8" y="481.31" width="3.8" height="6.39" fill="#ff2a12"/>
<path d="M108.9 473.5V472.79M107.9 472.79H109.9" stroke="#6a8aff" stroke-width="0.6" fill="none"/>
<rect x="107" y="473.5" width="3.8" height="14.2" fill="#1040ff"/>
<path d="M113.8 481.03V480.46M112.8 480.46H114.8" stroke="#ff7a6a" stroke-width="0.6" fill="none"/>
<rect x="111.9" y="481.03" width="3.8" height="6.67" fill="#ff2a12"/>
<path d="M122.9 473.5V471.37M121.9 471.37H123.9" stroke="#6a8aff" stroke-width="0.6" fill="none"/>
<rect x="121" y="473.5" width="3.8" height="14.2" fill="#1040ff"/>
<path d="M127.8 462.14V458.59M126.8 458.59H128.8" stroke="#ff7a6a" stroke-width="0.6" fill="none"/>
<rect x="125.9" y="462.14" width="3.8" height="25.56" fill="#ff2a12"/>
<path d="M137.3 473.5V472.93M136.3 472.93H138.3" stroke="#6a8aff" stroke-width="0.6" fill="none"/>
<rect x="135.4" y="473.5" width="3.8" height="14.2" fill="#1040ff"/>
<path d="M142.2 465.69V462.85M141.2 462.85H143.2" stroke="#ff7a6a" stroke-width="0.6" fill="none"/>
<rect x="140.3" y="465.69" width="3.8" height="22.01" fill="#ff2a12"/>
<line x1="35" y1="416.3" x2="35" y2="488.1" stroke="#111" stroke-width="0.8"/>
<line x1="31.1" y1="487.7" x2="35" y2="487.7" stroke="#111" stroke-width="0.8"/>
<text x="29.1" y="490.4" font-size="7.6" text-anchor="end">0</text>
<line x1="31.1" y1="473.5" x2="35" y2="473.5" stroke="#111" stroke-width="0.8"/>
<text x="29.1" y="476.2" font-size="7.6" text-anchor="end">1</text>
<line x1="31.1" y1="459.3" x2="35" y2="459.3" stroke="#111" stroke-width="0.8"/>
<text x="29.1" y="462" font-size="7.6" text-anchor="end">2</text>
<line x1="31.1" y1="445.1" x2="35" y2="445.1" stroke="#111" stroke-width="0.8"/>
<text x="29.1" y="447.8" font-size="7.6" text-anchor="end">3</text>
<line x1="31.1" y1="430.9" x2="35" y2="430.9" stroke="#111" stroke-width="0.8"/>
<text x="29.1" y="433.6" font-size="7.6" text-anchor="end">4</text>
<line x1="31.1" y1="416.7" x2="35" y2="416.7" stroke="#111" stroke-width="0.8"/>
<text x="29.1" y="419.4" font-size="7.6" text-anchor="end">5</text>
<line x1="34.6" y1="487.7" x2="145.5" y2="487.7" stroke="#111" stroke-width="0.8"/>
<line x1="40.2" y1="487.7" x2="40.2" y2="490.3" stroke="#111" stroke-width="0.8"/>
<text x="42.6" y="493.1" font-size="7.7" text-anchor="end" transform="rotate(-90 42.6 493.1)">IL6</text>
<line x1="54.6" y1="487.7" x2="54.6" y2="490.3" stroke="#111" stroke-width="0.8"/>
<text x="57" y="493.1" font-size="7.7" text-anchor="end" transform="rotate(-90 57 493.1)">PDGFB</text>
<line x1="68.7" y1="487.7" x2="68.7" y2="490.3" stroke="#111" stroke-width="0.8"/>
<text x="71.1" y="493.1" font-size="7.7" text-anchor="end" transform="rotate(-90 71.1 493.1)">ACTA2</text>
<line x1="82.7" y1="487.7" x2="82.7" y2="490.3" stroke="#111" stroke-width="0.8"/>
<text x="85.1" y="493.1" font-size="7.7" text-anchor="end" transform="rotate(-90 85.1 493.1)">CXCL12</text>
<line x1="97.1" y1="487.7" x2="97.1" y2="490.3" stroke="#111" stroke-width="0.8"/>
<text x="99.5" y="493.1" font-size="7.7" text-anchor="end" transform="rotate(-90 99.5 493.1)">PDGFA</text>
<line x1="111.2" y1="487.7" x2="111.2" y2="490.3" stroke="#111" stroke-width="0.8"/>
<text x="113.6" y="493.1" font-size="7.7" text-anchor="end" transform="rotate(-90 113.6 493.1)">CXCL1</text>
<line x1="125.2" y1="487.7" x2="125.2" y2="490.3" stroke="#111" stroke-width="0.8"/>
<text x="127.6" y="493.1" font-size="7.7" text-anchor="end" transform="rotate(-90 127.6 493.1)">Thy1</text>
<line x1="139.6" y1="487.7" x2="139.6" y2="490.3" stroke="#111" stroke-width="0.8"/>
<text x="142" y="493.1" font-size="7.7" text-anchor="end" transform="rotate(-90 142 493.1)">Tnc</text>
<text x="42.5" y="473" font-size="7.2" text-anchor="middle">****</text>
<text x="85.7" y="467.5" font-size="7.2" text-anchor="middle">***</text>
<text x="100.6" y="473" font-size="7.2" text-anchor="middle">****</text>
<text x="113" y="473" font-size="7.2" text-anchor="middle">***</text>
<text x="71.3" y="423" font-size="7.2" text-anchor="middle">**</text>
<text x="127.5" y="454.5" font-size="7.2" text-anchor="middle">**</text>
<text x="141.6" y="462" font-size="7.2" text-anchor="middle">*</text>
<text x="54.6" y="466.5" font-size="6.8" text-anchor="middle">ns</text>
<rect x="102.3" y="420" width="9.8" height="3.3" fill="#1040ff"/>
<text x="115" y="424.4" font-size="6.5">Control</text>
<rect x="102.3" y="429.8" width="9.8" height="3.3" fill="#ff2a12"/>
<text x="115" y="434.1" font-size="6.5">OXO</text>
<text x="18" y="451" font-size="7.56" text-anchor="middle" transform="rotate(-90 18 451)">Relative mRNA expression</text>
<defs>
<filter id="nz0" x="0" y="0" width="1" height="1" color-interpolation-filters="sRGB"><feTurbulence type="fractalNoise" baseFrequency="0.36" numOctaves="3" seed="3"/><feColorMatrix type="matrix" values="0.45 0 0 0 0.42  0.45 0 0 0 0.42  0.45 0 0 0 0.42  0 0 0 0 1"/></filter>
<filter id="nz1" x="0" y="0" width="1" height="1" color-interpolation-filters="sRGB"><feTurbulence type="fractalNoise" baseFrequency="0.42" numOctaves="3" seed="8"/><feColorMatrix type="matrix" values="0.55 0 0 0 0.375  0.55 0 0 0 0.375  0.55 0 0 0 0.375  0 0 0 0 1"/></filter>
<filter id="nz2" x="0" y="0" width="1" height="1" color-interpolation-filters="sRGB"><feTurbulence type="fractalNoise" baseFrequency="0.38" numOctaves="3" seed="14"/><feColorMatrix type="matrix" values="0.6 0 0 0 0.32  0.6 0 0 0 0.32  0.6 0 0 0 0.32  0 0 0 0 1"/></filter>
<filter id="nz3" x="0" y="0" width="1" height="1" color-interpolation-filters="sRGB"><feTurbulence type="fractalNoise" baseFrequency="0.4" numOctaves="3" seed="23"/><feColorMatrix type="matrix" values="0.5 0 0 0 0.395  0.5 0 0 0 0.395  0.5 0 0 0 0.395  0 0 0 0 1"/></filter>
<filter id="bl3" x="-5%" y="-5%" width="110%" height="110%"><feGaussianBlur stdDeviation="0.45"/></filter></defs>
<rect x="201.4" y="411.9" width="61.3" height="50.2" fill="#aaa" filter="url(#nz0)"/>
<g filter="url(#bl3)">
<circle cx="236.4" cy="414.9" r="1.6" fill="#333" opacity="0.3"/>
<circle cx="236.4" cy="414.9" r="0.8" fill="#333"/>
<circle cx="247.4" cy="417.9" r="1.4" fill="#444" opacity="0.3"/>
<circle cx="247.4" cy="417.9" r="0.7" fill="#444"/>
<circle cx="232.4" cy="435.9" r="1.8" fill="#333" opacity="0.3"/>
<circle cx="232.4" cy="435.9" r="0.9" fill="#333"/>
<circle cx="245.4" cy="433.9" r="1.4" fill="#555" opacity="0.3"/>
<circle cx="245.4" cy="433.9" r="0.7" fill="#555"/>
<circle cx="229.9" cy="450.4" r="2.2" fill="#111" opacity="0.3"/>
<circle cx="229.9" cy="450.4" r="1.1" fill="#111"/>
<circle cx="239.4" cy="452.9" r="1.6" fill="#333" opacity="0.3"/>
<circle cx="239.4" cy="452.9" r="0.8" fill="#333"/>
<circle cx="257.4" cy="450.9" r="1.6" fill="#555" opacity="0.3"/>
<circle cx="257.4" cy="450.9" r="0.8" fill="#555"/>
<circle cx="259.4" cy="459.9" r="1.6" fill="#333" opacity="0.3"/>
<circle cx="259.4" cy="459.9" r="0.8" fill="#333"/>
<circle cx="218.4" cy="458.9" r="1.4" fill="#555" opacity="0.3"/>
<circle cx="218.4" cy="458.9" r="0.7" fill="#555"/>
</g>
<rect x="202.8" y="413.3" width="23.3" height="25.4" fill="#aaa" filter="url(#nz1)"/>
<rect x="202.8" y="413.3" width="23.3" height="25.4" fill="#b4b4b4" opacity="0.25"/>
<rect x="202.15" y="412.65" width="24.6" height="26.7" fill="none" stroke="#080808" stroke-width="1.5"/>
<g filter="url(#bl3)">
<circle cx="214" cy="426.5" r="1.6" fill="#444"/>
<circle cx="214" cy="426.5" r="3" fill="#4a4a4a" opacity="0.25"/>
</g>
<rect x="270.4" y="411.9" width="61" height="50.5" fill="#aaa" filter="url(#nz1)"/>
<g filter="url(#bl3)">
<circle cx="325.78" cy="432.5" r="1.59" fill="#bcbcbc" stroke="#505050" stroke-width="0.6" opacity="0.7"/>
<circle cx="324.86" cy="424.53" r="1.52" fill="#bcbcbc" stroke="#505050" stroke-width="0.6" opacity="0.7"/>
<circle cx="315.91" cy="457.94" r="1.03" fill="#bcbcbc" stroke="#505050" stroke-width="0.6" opacity="0.7"/>
<circle cx="299.23" cy="428.78" r="1.83" fill="#bcbcbc" stroke="#505050" stroke-width="0.6" opacity="0.7"/>
<circle cx="324.32" cy="420.2" r="1.92" fill="#bcbcbc" stroke="#505050" stroke-width="0.6" opacity="0.7"/>
<circle cx="314.1" cy="458.91" r="1.93" fill="#bcbcbc" stroke="#505050" stroke-width="0.6" opacity="0.7"/>
<circle cx="300.01" cy="459.21" r="1.48" fill="#bcbcbc" stroke="#505050" stroke-width="0.6" opacity="0.7"/>
<circle cx="302.06" cy="435.55" r="1.07" fill="#bcbcbc" stroke="#505050" stroke-width="0.6" opacity="0.7"/>
<circle cx="321.26" cy="439.22" r="1.11" fill="#bcbcbc" stroke="#505050" stroke-width="0.6" opacity="0.7"/>
<circle cx="300.4" cy="435.9" r="2" fill="#333" opacity="0.3"/>
<circle cx="300.4" cy="435.9" r="1" fill="#333"/>
<circle cx="327.4" cy="442.9" r="3.8" fill="#111" opacity="0.3"/>
<circle cx="327.4" cy="442.9" r="1.9" fill="#111"/>
<circle cx="278.4" cy="454.9" r="1.4" fill="#444" opacity="0.3"/>
<circle cx="278.4" cy="454.9" r="0.7" fill="#444"/>
<circle cx="295.4" cy="453.9" r="1.4" fill="#555" opacity="0.3"/>
<circle cx="295.4" cy="453.9" r="0.7" fill="#555"/>
<circle cx="309.4" cy="432.9" r="1.2" fill="#555" opacity="0.3"/>
<circle cx="309.4" cy="432.9" r="0.6" fill="#555"/>
</g>
<rect x="271.8" y="413.3" width="22.8" height="25" fill="#aaa" filter="url(#nz2)"/>
<rect x="271.8" y="413.3" width="22.8" height="25" fill="#b6b6b6" opacity="0.25"/>
<rect x="271.15" y="412.65" width="24.1" height="26.3" fill="none" stroke="#080808" stroke-width="1.5"/>
<g filter="url(#bl3)">
<circle cx="282.5" cy="423" r="1.3" fill="#222"/>
<circle cx="283" cy="424.5" r="2.8" fill="#444" opacity="0.3"/>
</g>
<rect x="201.4" y="465.5" width="61.2" height="50.4" fill="#aaa" filter="url(#nz2)"/>
<g filter="url(#bl3)">
<circle cx="232.9" cy="490.5" r="3" fill="#111" opacity="0.3"/>
<circle cx="232.9" cy="490.5" r="1.5" fill="#111"/>
<circle cx="237.4" cy="473.5" r="1.8" fill="#333" opacity="0.3"/>
<circle cx="237.4" cy="473.5" r="0.9" fill="#333"/>
<circle cx="241.9" cy="475" r="1.8" fill="#333" opacity="0.3"/>
<circle cx="241.9" cy="475" r="0.9" fill="#333"/>
<circle cx="239.4" cy="487.5" r="1.6" fill="#333" opacity="0.3"/>
<circle cx="239.4" cy="487.5" r="0.8" fill="#333"/>
<circle cx="251.9" cy="493.5" r="1.8" fill="#111" opacity="0.3"/>
<circle cx="251.9" cy="493.5" r="0.9" fill="#111"/>
<circle cx="221.4" cy="497.5" r="2.6" fill="#555" opacity="0.3"/>
<circle cx="221.4" cy="497.5" r="1.3" fill="#555"/>
<circle cx="205.4" cy="513.5" r="2" fill="#444" opacity="0.3"/>
<circle cx="205.4" cy="513.5" r="1" fill="#444"/>
<circle cx="240.4" cy="514.5" r="2" fill="#555" opacity="0.3"/>
<circle cx="240.4" cy="514.5" r="1" fill="#555"/>
<circle cx="253.4" cy="513.5" r="2.2" fill="#333" opacity="0.3"/>
<circle cx="253.4" cy="513.5" r="1.1" fill="#333"/>
<circle cx="223.9" cy="474" r="2" fill="#555" opacity="0.3"/>
<circle cx="223.9" cy="474" r="1" fill="#555"/>
</g>
<rect x="202.8" y="466.9" width="23.3" height="25.2" fill="#aaa" filter="url(#nz3)"/>
<rect x="202.8" y="466.9" width="23.3" height="25.2" fill="#b0b0b0" opacity="0.25"/>
<rect x="202.15" y="466.25" width="24.6" height="26.5" fill="none" stroke="#080808" stroke-width="1.5"/>
<g filter="url(#bl3)">
<circle cx="212.8" cy="479" r="1.9" fill="#1a1a1a"/>
<circle cx="212.8" cy="479" r="4" fill="#333" opacity="0.3"/>
</g>
<rect x="270.4" y="465.5" width="61" height="50.4" fill="#aaa" filter="url(#nz3)"/>
<rect x="270.4" y="496" width="30" height="19.9" fill="#b9b9b9" opacity="0.55"/>
<g filter="url(#bl3)">
<circle cx="299.29" cy="487.66" r="1.25" fill="#bcbcbc" stroke="#505050" stroke-width="0.6" opacity="0.7"/>
<circle cx="311.44" cy="479.38" r="1.86" fill="#bcbcbc" stroke="#505050" stroke-width="0.6" opacity="0.7"/>
<circle cx="315.16" cy="502.03" r="1.93" fill="#bcbcbc" stroke="#505050" stroke-width="0.6" opacity="0.7"/>
<circle cx="313.04" cy="489.24" r="1.13" fill="#bcbcbc" stroke="#505050" stroke-width="0.6" opacity="0.7"/>
<circle cx="322.41" cy="470.72" r="1.36" fill="#bcbcbc" stroke="#505050" stroke-width="0.6" opacity="0.7"/>
<circle cx="302.42" cy="501.29" r="1.46" fill="#bcbcbc" stroke="#505050" stroke-width="0.6" opacity="0.7"/>
<circle cx="313.36" cy="492.02" r="1.84" fill="#bcbcbc" stroke="#505050" stroke-width="0.6" opacity="0.7"/>
<circle cx="328.75" cy="484.69" r="1.88" fill="#bcbcbc" stroke="#505050" stroke-width="0.6" opacity="0.7"/>
<circle cx="320" cy="499.85" r="1.98" fill="#bcbcbc" stroke="#505050" stroke-width="0.6" opacity="0.7"/>
<circle cx="303.66" cy="482.28" r="1.48" fill="#bcbcbc" stroke="#505050" stroke-width="0.6" opacity="0.7"/>
<circle cx="306.93" cy="481.01" r="1.2" fill="#bcbcbc" stroke="#505050" stroke-width="0.6" opacity="0.7"/>
<circle cx="326.85" cy="512.52" r="1.88" fill="#bcbcbc" stroke="#505050" stroke-width="0.6" opacity="0.7"/>
<circle cx="322.71" cy="486.35" r="1.31" fill="#bcbcbc" stroke="#505050" stroke-width="0.6" opacity="0.7"/>
<circle cx="310.07" cy="468.3" r="1.12" fill="#bcbcbc" stroke="#505050" stroke-width="0.6" opacity="0.7"/>
<circle cx="310.4" cy="481.5" r="2" fill="#222" opacity="0.3"/>
<circle cx="310.4" cy="481.5" r="1" fill="#222"/>
<circle cx="316.4" cy="489" r="2" fill="#111" opacity="0.3"/>
<circle cx="316.4" cy="489" r="1" fill="#111"/>
<circle cx="302.4" cy="491.5" r="1.6" fill="#333" opacity="0.3"/>
<circle cx="302.4" cy="491.5" r="0.8" fill="#333"/>
<circle cx="328.4" cy="479.5" r="1.6" fill="#444" opacity="0.3"/>
<circle cx="328.4" cy="479.5" r="0.8" fill="#444"/>
<circle cx="303.4" cy="469.5" r="1.8" fill="#444" opacity="0.3"/>
<circle cx="303.4" cy="469.5" r="0.9" fill="#444"/>
<circle cx="320.4" cy="477.5" r="1.4" fill="#333" opacity="0.3"/>
<circle cx="320.4" cy="477.5" r="0.7" fill="#333"/>
</g>
<rect x="271.8" y="466.9" width="22.8" height="25.2" fill="#aaa" filter="url(#nz0)"/>
<rect x="271.8" y="466.9" width="22.8" height="25.2" fill="#b4b4b4" opacity="0.25"/>
<rect x="271.15" y="466.25" width="24.1" height="26.5" fill="none" stroke="#080808" stroke-width="1.5"/>
<path d="M281 493C280 485 281 481 285 478C288 476 290 473 291 469" stroke="#333" stroke-width="0.6" fill="none"/>
<path d="M285 478L283 476M285 478L288 480M278 474L283 476" stroke="#333" stroke-width="0.5" fill="none"/>
<path d="M212.8 479L217.77 480.6M212.8 479L215.82 483.98M212.8 479L212.48 484.76M212.8 479L211.38 483.16M212.8 479L207.91 479.77M212.8 479L209.79 477.55M212.8 479L210.37 476.16M212.8 479L212.6 474.28M212.8 479L213.95 475.54M212.8 479L217.88 476.3" stroke="#2a2a2a" stroke-width="0.4" fill="none" opacity="0.7"/>
<path d="M232.9 490.5L236.26 491.91M232.9 490.5L234.2 492.66M232.9 490.5L232.9 493.83M232.9 490.5L229.9 492.34M232.9 490.5L229.42 489.84M232.9 490.5L230.72 487.63M232.9 490.5L233.91 487.86M232.9 490.5L235.83 488.84" stroke="#2a2a2a" stroke-width="0.4" fill="none" opacity="0.7"/>
<path d="M214 426.5L216.2 426.86M214 426.5L214.72 428.48M214 426.5L212.8 428.75M214 426.5L211.48 427.63M214 426.5L211.63 425.31M214 426.5L213.6 424.4M214 426.5L216.51 424.45" stroke="#555" stroke-width="0.4" fill="none" opacity="0.7"/>
<path d="M327.4 442.9L331.8 443.4M327.4 442.9L329.98 445.83M327.4 442.9L327.27 445.89M327.4 442.9L324.6 443.72M327.4 442.9L324.16 441.82M327.4 442.9L325.55 439.94M327.4 442.9L327.8 438.76M327.4 442.9L329.59 440.9" stroke="#2a2a2a" stroke-width="0.4" fill="none" opacity="0.7"/>
<path d="M282.5 423L285.17 423.63M282.5 423L284.62 426.07M282.5 423L281.82 425.93M282.5 423L280.34 423M282.5 423L280.08 420.85M282.5 423L281.94 420.3M282.5 423L284.98 421.49" stroke="#444" stroke-width="0.4" fill="none" opacity="0.7"/>
<circle cx="209" cy="421" r="2.2" fill="none" stroke="#8a8a8a" stroke-width="0.4" opacity="0.8"/>
<circle cx="219" cy="431" r="1.8" fill="none" stroke="#8a8a8a" stroke-width="0.4" opacity="0.8"/>
<circle cx="207" cy="434" r="1.5" fill="none" stroke="#8a8a8a" stroke-width="0.4" opacity="0.8"/>
<circle cx="221" cy="419" r="1.6" fill="none" stroke="#8a8a8a" stroke-width="0.4" opacity="0.8"/>
<circle cx="276" cy="420" r="1.6" fill="#c6c6c6" stroke="#6a6a6a" stroke-width="0.45" opacity="0.85"/>
<circle cx="290.5" cy="432" r="1.8" fill="#c6c6c6" stroke="#6a6a6a" stroke-width="0.45" opacity="0.85"/>
<circle cx="288" cy="419" r="1.4" fill="#c6c6c6" stroke="#6a6a6a" stroke-width="0.45" opacity="0.85"/>
<circle cx="279" cy="433" r="1.5" fill="#c6c6c6" stroke="#6a6a6a" stroke-width="0.45" opacity="0.85"/>
<circle cx="291" cy="423" r="1.3" fill="#c6c6c6" stroke="#6a6a6a" stroke-width="0.45" opacity="0.85"/>
<text x="236.3" y="408.4" font-size="7.4" text-anchor="middle">Control</text>
<text x="301.8" y="408.4" font-size="7.4" text-anchor="middle">OXO</text>
<text x="187.3" y="461" font-size="7.55" text-anchor="middle" transform="rotate(-90 187.3 461)">Fibroblasts in Matrigel (72 hours)</text>
<text x="197.2" y="500.6" font-size="7.2" text-anchor="middle" transform="rotate(-90 197.2 500.6)">+TGFβ</text>
<text x="448.2" y="417.3" font-size="7.4" text-anchor="middle" font-weight="bold" stroke-width="0.08">ACTA2 mRNA ratio</text>
<line x1="383" y1="433.1" x2="383" y2="492.2" stroke="#111" stroke-width="0.8"/>
<line x1="379.3" y1="491.8" x2="383" y2="491.8" stroke="#111" stroke-width="0.8"/>
<text x="378.1" y="494.5" font-size="7.6" text-anchor="end">0.0</text>
<line x1="379.3" y1="480.14" x2="383" y2="480.14" stroke="#111" stroke-width="0.8"/>
<text x="378.1" y="482.84" font-size="7.6" text-anchor="end">0.2</text>
<line x1="379.3" y1="468.48" x2="383" y2="468.48" stroke="#111" stroke-width="0.8"/>
<text x="378.1" y="471.18" font-size="7.6" text-anchor="end">0.4</text>
<line x1="379.3" y1="456.82" x2="383" y2="456.82" stroke="#111" stroke-width="0.8"/>
<text x="378.1" y="459.52" font-size="7.6" text-anchor="end">0.6</text>
<line x1="379.3" y1="445.16" x2="383" y2="445.16" stroke="#111" stroke-width="0.8"/>
<text x="378.1" y="447.86" font-size="7.6" text-anchor="end">0.8</text>
<line x1="379.3" y1="433.5" x2="383" y2="433.5" stroke="#111" stroke-width="0.8"/>
<text x="378.1" y="436.2" font-size="7.6" text-anchor="end">1.0</text>
<line x1="382.6" y1="491.8" x2="422.5" y2="491.8" stroke="#111" stroke-width="0.8"/>
<line x1="394.3" y1="491.8" x2="394.3" y2="494.4" stroke="#111" stroke-width="0.8"/>
<line x1="388.4" y1="471.69" x2="400.2" y2="471.69" stroke="#111" stroke-width="0.7"/>
<circle cx="393.3" cy="471.1" r="1.05" fill="#111"/>
<circle cx="395.6" cy="471.4" r="1.05" fill="#111"/>
<circle cx="394.3" cy="475.18" r="1.05" fill="#111"/>
<text x="396.9" y="496.8" font-size="7.45" text-anchor="end" transform="rotate(-90 396.9 496.8)">Control</text>
<line x1="411.5" y1="491.8" x2="411.5" y2="494.4" stroke="#111" stroke-width="0.8"/>
<line x1="405.6" y1="447.49" x2="417.4" y2="447.49" stroke="#111" stroke-width="0.7"/>
<circle cx="411.5" cy="435.83" r="1.05" fill="#111"/>
<circle cx="411.5" cy="447.49" r="1.05" fill="#111"/>
<circle cx="411.5" cy="458.57" r="1.05" fill="#111"/>
<text x="414.1" y="496.8" font-size="7.45" text-anchor="end" transform="rotate(-90 414.1 496.8)">OXO</text>
<path d="M390.8 433.2V430H410V432.6" stroke="#666" stroke-width="0.6" fill="none"/>
<text x="400.6" y="430.8" font-size="7" text-anchor="middle" fill="#222">*</text>
<text x="351.8" y="462.3" font-size="7.55" text-anchor="middle" transform="rotate(-90 351.8 462.3)">Relative gene</text>
<text x="360.7" y="462.3" font-size="7.55" text-anchor="middle" transform="rotate(-90 360.7 462.3)">expression</text>
<line x1="475.6" y1="431.35" x2="475.6" y2="492.9" stroke="#111" stroke-width="0.8"/>
<line x1="471.9" y1="492.5" x2="475.6" y2="492.5" stroke="#111" stroke-width="0.8"/>
<text x="470.7" y="495.2" font-size="7.6" text-anchor="end">0.0</text>
<line x1="471.9" y1="480.35" x2="475.6" y2="480.35" stroke="#111" stroke-width="0.8"/>
<text x="470.7" y="483.05" font-size="7.6" text-anchor="end">0.5</text>
<line x1="471.9" y1="468.2" x2="475.6" y2="468.2" stroke="#111" stroke-width="0.8"/>
<text x="470.7" y="470.9" font-size="7.6" text-anchor="end">1.0</text>
<line x1="471.9" y1="456.05" x2="475.6" y2="456.05" stroke="#111" stroke-width="0.8"/>
<text x="470.7" y="458.75" font-size="7.6" text-anchor="end">1.5</text>
<line x1="471.9" y1="443.9" x2="475.6" y2="443.9" stroke="#111" stroke-width="0.8"/>
<text x="470.7" y="446.6" font-size="7.6" text-anchor="end">2.0</text>
<line x1="471.9" y1="431.75" x2="475.6" y2="431.75" stroke="#111" stroke-width="0.8"/>
<text x="470.7" y="434.45" font-size="7.6" text-anchor="end">2.5</text>
<line x1="475.2" y1="492.5" x2="516.4" y2="492.5" stroke="#111" stroke-width="0.8"/>
<line x1="487.3" y1="492.5" x2="487.3" y2="495.1" stroke="#111" stroke-width="0.8"/>
<line x1="481.4" y1="466.01" x2="493.2" y2="466.01" stroke="#111" stroke-width="0.7"/>
<circle cx="485.1" cy="465.77" r="1.05" fill="#111"/>
<circle cx="486.9" cy="465.77" r="1.05" fill="#111"/>
<circle cx="489.5" cy="466.26" r="1.05" fill="#111"/>
<text x="489.9" y="497.5" font-size="7.45" text-anchor="end" transform="rotate(-90 489.9 497.5)">Control</text>
<line x1="503.8" y1="492.5" x2="503.8" y2="495.1" stroke="#111" stroke-width="0.8"/>
<line x1="497.9" y1="447.79" x2="509.7" y2="447.79" stroke="#111" stroke-width="0.7"/>
<circle cx="503.8" cy="440.74" r="1.05" fill="#111"/>
<circle cx="503.8" cy="447.55" r="1.05" fill="#111"/>
<circle cx="503.8" cy="457.75" r="1.05" fill="#111"/>
<text x="506.4" y="497.5" font-size="7.45" text-anchor="end" transform="rotate(-90 506.4 497.5)">OXO</text>
<path d="M483 432.8V430.2H503V432.6" stroke="#666" stroke-width="0.6" fill="none"/>
<text x="493" y="431" font-size="7" text-anchor="middle" fill="#222">*</text>
<text x="443.7" y="462.3" font-size="7.55" text-anchor="middle" transform="rotate(-90 443.7 462.3)">Relative gene</text>
<text x="452.7" y="462.3" font-size="7.55" text-anchor="middle" transform="rotate(-90 452.7 462.3)">expression</text>
<text x="495.6" y="533.2" font-size="7.6" text-anchor="middle">+TGFβ</text>
</svg>
</body></html>
